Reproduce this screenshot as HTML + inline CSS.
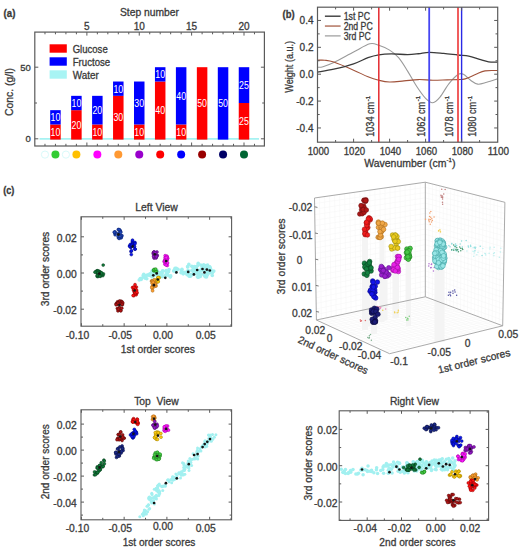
<!DOCTYPE html>
<html><head><meta charset="utf-8"><style>
html,body{margin:0;padding:0;background:#fff;}
svg{display:block;font-family:"Liberation Sans", sans-serif;}

</style></head><body>
<svg width="524" height="550" viewBox="0 0 524 550">
<rect width="524" height="550" fill="#fff"/>
<text x="3.60" y="16.95" font-size="11.3" text-anchor="start" fill="#3a3a3a" stroke="#3a3a3a" stroke-width="0.3" textLength="11.8" lengthAdjust="spacingAndGlyphs" font-weight="bold">(a)</text>
<text x="149.50" y="16.39" font-size="10.3" text-anchor="middle" fill="#3a3a3a" stroke="#3a3a3a" stroke-width="0.3" textLength="59" lengthAdjust="spacingAndGlyphs" >Step number</text>
<text x="86.88" y="29.68" font-size="10" text-anchor="middle" fill="#3a3a3a" stroke="#3a3a3a" stroke-width="0.3" >5</text>
<text x="139.25" y="29.68" font-size="10" text-anchor="middle" fill="#3a3a3a" stroke="#3a3a3a" stroke-width="0.3" >10</text>
<text x="191.62" y="29.68" font-size="10" text-anchor="middle" fill="#3a3a3a" stroke="#3a3a3a" stroke-width="0.3" >15</text>
<text x="244.00" y="29.68" font-size="10" text-anchor="middle" fill="#3a3a3a" stroke="#3a3a3a" stroke-width="0.3" >20</text>
<line x1="39.50" y1="138.80" x2="259.00" y2="138.80" stroke="#a6f2f2" stroke-width="1.8" />
<rect x="50.20" y="124.48" width="10.50" height="15.12" fill="#ff0000" />
<rect x="50.20" y="110.16" width="10.50" height="14.32" fill="#0000ff" />
<rect x="71.15" y="110.16" width="10.50" height="29.44" fill="#ff0000" />
<rect x="71.15" y="95.84" width="10.50" height="14.32" fill="#0000ff" />
<rect x="92.10" y="124.48" width="10.50" height="15.12" fill="#ff0000" />
<rect x="92.10" y="95.84" width="10.50" height="28.64" fill="#0000ff" />
<rect x="113.05" y="95.84" width="10.50" height="43.76" fill="#ff0000" />
<rect x="113.05" y="81.52" width="10.50" height="14.32" fill="#0000ff" />
<rect x="134.00" y="124.48" width="10.50" height="15.12" fill="#ff0000" />
<rect x="134.00" y="81.52" width="10.50" height="42.96" fill="#0000ff" />
<rect x="154.95" y="81.52" width="10.50" height="58.08" fill="#ff0000" />
<rect x="154.95" y="67.20" width="10.50" height="14.32" fill="#0000ff" />
<rect x="175.90" y="124.48" width="10.50" height="15.12" fill="#ff0000" />
<rect x="175.90" y="67.20" width="10.50" height="57.28" fill="#0000ff" />
<rect x="196.85" y="67.20" width="10.50" height="72.40" fill="#ff0000" />
<rect x="217.80" y="67.20" width="10.50" height="72.40" fill="#0000ff" />
<rect x="238.75" y="103.00" width="10.50" height="36.60" fill="#ff0000" />
<rect x="238.75" y="67.20" width="10.50" height="35.80" fill="#0000ff" />
<text x="55.45" y="135.76" font-size="10.4" text-anchor="middle" fill="#ffffff" textLength="9.8" lengthAdjust="spacingAndGlyphs" >10</text>
<text x="55.45" y="121.44" font-size="10.4" text-anchor="middle" fill="#ffffff" textLength="9.8" lengthAdjust="spacingAndGlyphs" >10</text>
<text x="76.40" y="128.60" font-size="10.4" text-anchor="middle" fill="#ffffff" textLength="9.8" lengthAdjust="spacingAndGlyphs" >20</text>
<text x="76.40" y="107.12" font-size="10.4" text-anchor="middle" fill="#ffffff" textLength="9.8" lengthAdjust="spacingAndGlyphs" >10</text>
<text x="97.35" y="135.76" font-size="10.4" text-anchor="middle" fill="#ffffff" textLength="9.8" lengthAdjust="spacingAndGlyphs" >10</text>
<text x="97.35" y="114.28" font-size="10.4" text-anchor="middle" fill="#ffffff" textLength="9.8" lengthAdjust="spacingAndGlyphs" >20</text>
<text x="118.30" y="121.44" font-size="10.4" text-anchor="middle" fill="#ffffff" textLength="9.8" lengthAdjust="spacingAndGlyphs" >30</text>
<text x="118.30" y="92.80" font-size="10.4" text-anchor="middle" fill="#ffffff" textLength="9.8" lengthAdjust="spacingAndGlyphs" >10</text>
<text x="139.25" y="135.76" font-size="10.4" text-anchor="middle" fill="#ffffff" textLength="9.8" lengthAdjust="spacingAndGlyphs" >10</text>
<text x="139.25" y="107.12" font-size="10.4" text-anchor="middle" fill="#ffffff" textLength="9.8" lengthAdjust="spacingAndGlyphs" >30</text>
<text x="160.20" y="114.28" font-size="10.4" text-anchor="middle" fill="#ffffff" textLength="9.8" lengthAdjust="spacingAndGlyphs" >40</text>
<text x="160.20" y="78.48" font-size="10.4" text-anchor="middle" fill="#ffffff" textLength="9.8" lengthAdjust="spacingAndGlyphs" >10</text>
<text x="181.15" y="135.76" font-size="10.4" text-anchor="middle" fill="#ffffff" textLength="9.8" lengthAdjust="spacingAndGlyphs" >10</text>
<text x="181.15" y="99.96" font-size="10.4" text-anchor="middle" fill="#ffffff" textLength="9.8" lengthAdjust="spacingAndGlyphs" >40</text>
<text x="202.10" y="107.12" font-size="10.4" text-anchor="middle" fill="#ffffff" textLength="9.8" lengthAdjust="spacingAndGlyphs" >50</text>
<text x="223.05" y="107.12" font-size="10.4" text-anchor="middle" fill="#ffffff" textLength="9.8" lengthAdjust="spacingAndGlyphs" >50</text>
<text x="244.00" y="125.02" font-size="10.4" text-anchor="middle" fill="#ffffff" textLength="9.8" lengthAdjust="spacingAndGlyphs" >25</text>
<text x="244.00" y="89.22" font-size="10.4" text-anchor="middle" fill="#ffffff" textLength="9.8" lengthAdjust="spacingAndGlyphs" >25</text>
<rect x="34.80" y="32.10" width="229.60" height="113.90" fill="none" stroke="#5a5a5a" stroke-width="1.2"/>
<line x1="44.98" y1="32.10" x2="44.98" y2="34.30" stroke="#5a5a5a" stroke-width="1" />
<line x1="44.98" y1="146.00" x2="44.98" y2="143.80" stroke="#5a5a5a" stroke-width="1" />
<line x1="55.45" y1="32.10" x2="55.45" y2="34.30" stroke="#5a5a5a" stroke-width="1" />
<line x1="55.45" y1="146.00" x2="55.45" y2="143.80" stroke="#5a5a5a" stroke-width="1" />
<line x1="65.92" y1="32.10" x2="65.92" y2="34.30" stroke="#5a5a5a" stroke-width="1" />
<line x1="65.92" y1="146.00" x2="65.92" y2="143.80" stroke="#5a5a5a" stroke-width="1" />
<line x1="76.40" y1="32.10" x2="76.40" y2="34.30" stroke="#5a5a5a" stroke-width="1" />
<line x1="76.40" y1="146.00" x2="76.40" y2="143.80" stroke="#5a5a5a" stroke-width="1" />
<line x1="86.88" y1="32.10" x2="86.88" y2="35.60" stroke="#5a5a5a" stroke-width="1" />
<line x1="86.88" y1="146.00" x2="86.88" y2="142.50" stroke="#5a5a5a" stroke-width="1" />
<line x1="97.35" y1="32.10" x2="97.35" y2="34.30" stroke="#5a5a5a" stroke-width="1" />
<line x1="97.35" y1="146.00" x2="97.35" y2="143.80" stroke="#5a5a5a" stroke-width="1" />
<line x1="107.83" y1="32.10" x2="107.83" y2="34.30" stroke="#5a5a5a" stroke-width="1" />
<line x1="107.83" y1="146.00" x2="107.83" y2="143.80" stroke="#5a5a5a" stroke-width="1" />
<line x1="118.30" y1="32.10" x2="118.30" y2="34.30" stroke="#5a5a5a" stroke-width="1" />
<line x1="118.30" y1="146.00" x2="118.30" y2="143.80" stroke="#5a5a5a" stroke-width="1" />
<line x1="128.77" y1="32.10" x2="128.77" y2="34.30" stroke="#5a5a5a" stroke-width="1" />
<line x1="128.77" y1="146.00" x2="128.77" y2="143.80" stroke="#5a5a5a" stroke-width="1" />
<line x1="139.25" y1="32.10" x2="139.25" y2="35.60" stroke="#5a5a5a" stroke-width="1" />
<line x1="139.25" y1="146.00" x2="139.25" y2="142.50" stroke="#5a5a5a" stroke-width="1" />
<line x1="149.72" y1="32.10" x2="149.72" y2="34.30" stroke="#5a5a5a" stroke-width="1" />
<line x1="149.72" y1="146.00" x2="149.72" y2="143.80" stroke="#5a5a5a" stroke-width="1" />
<line x1="160.20" y1="32.10" x2="160.20" y2="34.30" stroke="#5a5a5a" stroke-width="1" />
<line x1="160.20" y1="146.00" x2="160.20" y2="143.80" stroke="#5a5a5a" stroke-width="1" />
<line x1="170.67" y1="32.10" x2="170.67" y2="34.30" stroke="#5a5a5a" stroke-width="1" />
<line x1="170.67" y1="146.00" x2="170.67" y2="143.80" stroke="#5a5a5a" stroke-width="1" />
<line x1="181.15" y1="32.10" x2="181.15" y2="34.30" stroke="#5a5a5a" stroke-width="1" />
<line x1="181.15" y1="146.00" x2="181.15" y2="143.80" stroke="#5a5a5a" stroke-width="1" />
<line x1="191.62" y1="32.10" x2="191.62" y2="35.60" stroke="#5a5a5a" stroke-width="1" />
<line x1="191.62" y1="146.00" x2="191.62" y2="142.50" stroke="#5a5a5a" stroke-width="1" />
<line x1="202.10" y1="32.10" x2="202.10" y2="34.30" stroke="#5a5a5a" stroke-width="1" />
<line x1="202.10" y1="146.00" x2="202.10" y2="143.80" stroke="#5a5a5a" stroke-width="1" />
<line x1="212.57" y1="32.10" x2="212.57" y2="34.30" stroke="#5a5a5a" stroke-width="1" />
<line x1="212.57" y1="146.00" x2="212.57" y2="143.80" stroke="#5a5a5a" stroke-width="1" />
<line x1="223.05" y1="32.10" x2="223.05" y2="34.30" stroke="#5a5a5a" stroke-width="1" />
<line x1="223.05" y1="146.00" x2="223.05" y2="143.80" stroke="#5a5a5a" stroke-width="1" />
<line x1="233.53" y1="32.10" x2="233.53" y2="34.30" stroke="#5a5a5a" stroke-width="1" />
<line x1="233.53" y1="146.00" x2="233.53" y2="143.80" stroke="#5a5a5a" stroke-width="1" />
<line x1="244.00" y1="32.10" x2="244.00" y2="35.60" stroke="#5a5a5a" stroke-width="1" />
<line x1="244.00" y1="146.00" x2="244.00" y2="142.50" stroke="#5a5a5a" stroke-width="1" />
<line x1="254.47" y1="32.10" x2="254.47" y2="34.30" stroke="#5a5a5a" stroke-width="1" />
<line x1="254.47" y1="146.00" x2="254.47" y2="143.80" stroke="#5a5a5a" stroke-width="1" />
<line x1="34.80" y1="138.80" x2="38.30" y2="138.80" stroke="#5a5a5a" stroke-width="1" />
<line x1="264.40" y1="138.80" x2="260.90" y2="138.80" stroke="#5a5a5a" stroke-width="1" />
<line x1="34.80" y1="103.00" x2="37.00" y2="103.00" stroke="#5a5a5a" stroke-width="1" />
<line x1="264.40" y1="103.00" x2="262.20" y2="103.00" stroke="#5a5a5a" stroke-width="1" />
<line x1="34.80" y1="67.20" x2="38.30" y2="67.20" stroke="#5a5a5a" stroke-width="1" />
<line x1="264.40" y1="67.20" x2="260.90" y2="67.20" stroke="#5a5a5a" stroke-width="1" />
<text x="30.90" y="71.10" font-size="9.5" text-anchor="end" fill="#3a3a3a" stroke="#3a3a3a" stroke-width="0.3" >50</text>
<text x="30.90" y="142.40" font-size="9.5" text-anchor="end" fill="#3a3a3a" stroke="#3a3a3a" stroke-width="0.3" >0</text>
<text x="13.30" y="92.00" font-size="10.4" text-anchor="middle" fill="#3a3a3a" stroke="#3a3a3a" stroke-width="0.3" textLength="48" lengthAdjust="spacingAndGlyphs" transform="rotate(-90 13.30 92.00)" >Conc. (g/l)</text>
<rect x="49.60" y="44.30" width="17.20" height="8.40" fill="#ff0000" />
<rect x="49.60" y="57.30" width="17.20" height="8.40" fill="#0000ff" />
<rect x="49.60" y="70.30" width="17.20" height="8.40" fill="#a8f4f4" />
<text x="72.70" y="53.18" font-size="10" text-anchor="start" fill="#3a3a3a" stroke="#3a3a3a" stroke-width="0.3" textLength="35" lengthAdjust="spacingAndGlyphs" >Glucose</text>
<text x="72.70" y="65.98" font-size="10" text-anchor="start" fill="#3a3a3a" stroke="#3a3a3a" stroke-width="0.3" textLength="37.5" lengthAdjust="spacingAndGlyphs" >Fructose</text>
<text x="72.70" y="78.88" font-size="10" text-anchor="start" fill="#3a3a3a" stroke="#3a3a3a" stroke-width="0.3" textLength="26" lengthAdjust="spacingAndGlyphs" >Water</text>
<circle cx="44.98" cy="154.60" r="3.60" fill="#ffffff" stroke="#d4f8f8" stroke-width="0.9" />
<circle cx="65.92" cy="154.60" r="3.60" fill="#ffffff" stroke="#d4f8f8" stroke-width="0.9" />
<circle cx="55.45" cy="154.60" r="4.00" fill="#33cc33" stroke="none" stroke-width="0.5" />
<circle cx="76.40" cy="154.60" r="4.00" fill="#ffc000" stroke="none" stroke-width="0.5" />
<circle cx="97.35" cy="154.60" r="4.00" fill="#ff00ff" stroke="none" stroke-width="0.5" />
<circle cx="118.30" cy="154.60" r="4.00" fill="#ff9933" stroke="none" stroke-width="0.5" />
<circle cx="139.25" cy="154.60" r="4.00" fill="#9900cc" stroke="none" stroke-width="0.5" />
<circle cx="160.20" cy="154.60" r="4.00" fill="#ff0000" stroke="none" stroke-width="0.5" />
<circle cx="181.15" cy="154.60" r="4.00" fill="#0000ff" stroke="none" stroke-width="0.5" />
<circle cx="202.10" cy="154.60" r="4.00" fill="#990000" stroke="none" stroke-width="0.5" />
<circle cx="223.05" cy="154.60" r="4.00" fill="#000066" stroke="none" stroke-width="0.5" />
<circle cx="244.00" cy="154.60" r="4.00" fill="#006633" stroke="none" stroke-width="0.5" />
<text x="282.60" y="18.36" font-size="10.5" text-anchor="start" fill="#3a3a3a" stroke="#3a3a3a" stroke-width="0.3" textLength="12.1" lengthAdjust="spacingAndGlyphs" font-weight="bold">(b)</text>
<text x="313.50" y="24.42" font-size="10" text-anchor="end" fill="#3a3a3a" stroke="#3a3a3a" stroke-width="0.3" >0.4</text>
<text x="313.50" y="51.30" font-size="10" text-anchor="end" fill="#3a3a3a" stroke="#3a3a3a" stroke-width="0.3" >0.2</text>
<text x="313.50" y="78.18" font-size="10" text-anchor="end" fill="#3a3a3a" stroke="#3a3a3a" stroke-width="0.3" >0.0</text>
<text x="313.50" y="105.06" font-size="10" text-anchor="end" fill="#3a3a3a" stroke="#3a3a3a" stroke-width="0.3" >-0.2</text>
<text x="313.50" y="131.94" font-size="10" text-anchor="end" fill="#3a3a3a" stroke="#3a3a3a" stroke-width="0.3" >-0.4</text>
<text x="318.40" y="154.78" font-size="10" text-anchor="middle" fill="#3a3a3a" stroke="#3a3a3a" stroke-width="0.3" textLength="21.3" lengthAdjust="spacingAndGlyphs" >1000</text>
<text x="354.40" y="154.78" font-size="10" text-anchor="middle" fill="#3a3a3a" stroke="#3a3a3a" stroke-width="0.3" textLength="21.3" lengthAdjust="spacingAndGlyphs" >1020</text>
<text x="390.40" y="154.78" font-size="10" text-anchor="middle" fill="#3a3a3a" stroke="#3a3a3a" stroke-width="0.3" textLength="21.3" lengthAdjust="spacingAndGlyphs" >1040</text>
<text x="426.40" y="154.78" font-size="10" text-anchor="middle" fill="#3a3a3a" stroke="#3a3a3a" stroke-width="0.3" textLength="21.3" lengthAdjust="spacingAndGlyphs" >1060</text>
<text x="462.40" y="154.78" font-size="10" text-anchor="middle" fill="#3a3a3a" stroke="#3a3a3a" stroke-width="0.3" textLength="21.3" lengthAdjust="spacingAndGlyphs" >1080</text>
<text x="498.40" y="154.78" font-size="10" text-anchor="middle" fill="#3a3a3a" stroke="#3a3a3a" stroke-width="0.3" textLength="21.3" lengthAdjust="spacingAndGlyphs" >1100</text>
<text x="292.90" y="66.80" font-size="11.8" text-anchor="middle" fill="#3a3a3a" stroke="#3a3a3a" stroke-width="0.3" textLength="51.8" lengthAdjust="spacingAndGlyphs" transform="rotate(-90 292.90 66.80)" >Weight (a.u.)</text>
<text x="364.2" y="167.3" font-size="10.8" fill="#3a3a3a" stroke="#3a3a3a" stroke-width="0.3"><tspan textLength="82.4" lengthAdjust="spacingAndGlyphs">Wavenumber (cm</tspan><tspan font-size="6" dy="-5">-1</tspan><tspan dy="5">)</tspan></text>
<path d="M317.60,67.21 C318.50,67.12 320.30,67.46 323.00,66.67 C325.70,65.89 328.70,64.95 333.80,62.51 C338.90,60.07 347.60,55.14 353.60,52.02 C359.60,48.91 365.60,44.95 369.80,43.83 C374.00,42.71 375.50,44.25 378.80,45.30 C382.10,46.36 386.30,48.08 389.60,50.14 C392.90,52.20 395.60,54.17 398.60,57.67 C401.60,61.16 404.60,66.34 407.60,71.11 C410.60,75.88 413.60,81.75 416.60,86.30 C419.60,90.84 422.90,95.66 425.60,98.39 C428.30,101.12 430.40,102.92 432.80,102.69 C435.20,102.47 437.30,100.23 440.00,97.05 C442.70,93.87 446.00,87.37 449.00,83.61 C452.00,79.84 455.60,76.04 458.00,74.47 C460.40,72.90 461.30,73.24 463.40,74.20 C465.50,75.16 468.20,78.59 470.60,80.25 C473.00,81.91 475.10,83.81 477.80,84.15 C480.50,84.48 483.50,83.14 486.80,82.26 C490.10,81.39 495.80,79.46 497.60,78.90" fill="none" stroke="#9a9a9a" stroke-width="1.1"/>
<path d="M317.60,60.22 C318.80,60.22 322.10,59.91 324.80,60.22 C327.50,60.54 329.00,60.45 333.80,62.10 C338.60,63.76 347.90,67.73 353.60,70.17 C359.30,72.61 363.80,75.07 368.00,76.75 C372.20,78.43 375.20,79.37 378.80,80.25 C382.40,81.12 385.40,81.88 389.60,82.00 C393.80,82.11 399.20,81.32 404.00,80.92 C408.80,80.52 413.60,79.69 418.40,79.58 C423.20,79.46 428.00,80.20 432.80,80.25 C437.60,80.29 443.00,79.96 447.20,79.84 C451.40,79.73 455.00,79.73 458.00,79.58 C461.00,79.42 462.20,79.80 465.20,78.90 C468.20,78.01 472.70,75.54 476.00,74.20 C479.30,72.86 481.40,71.44 485.00,70.84 C488.60,70.24 495.50,70.62 497.60,70.57" fill="none" stroke="#a0523a" stroke-width="1.1"/>
<path d="M317.60,72.05 C320.30,71.58 327.80,70.59 333.80,69.23 C339.80,67.86 347.90,65.78 353.60,63.85 C359.30,61.92 363.80,59.17 368.00,57.67 C372.20,56.17 374.90,55.47 378.80,54.85 C382.70,54.22 386.60,53.95 391.40,53.91 C396.20,53.86 403.10,54.60 407.60,54.58 C412.10,54.56 414.80,54.15 418.40,53.77 C422.00,53.39 425.00,52.36 429.20,52.29 C433.40,52.23 438.80,52.92 443.60,53.37 C448.40,53.82 453.80,54.53 458.00,54.98 C462.20,55.43 465.20,55.32 468.80,56.06 C472.40,56.80 476.30,58.45 479.60,59.42 C482.90,60.38 485.60,61.39 488.60,61.84 C491.60,62.28 496.10,62.06 497.60,62.10" fill="none" stroke="#3a3a3a" stroke-width="1.3"/>
<line x1="378.80" y1="7.20" x2="378.80" y2="142.20" stroke="#e42a30" stroke-width="1.5" />
<line x1="429.20" y1="7.20" x2="429.20" y2="142.20" stroke="#4646f2" stroke-width="1.8" />
<line x1="458.00" y1="7.20" x2="458.00" y2="142.20" stroke="#f05656" stroke-width="1.9" />
<line x1="461.60" y1="7.20" x2="461.60" y2="142.20" stroke="#2a2ae6" stroke-width="1.4" />
<text x="374.20" y="136.8" font-size="10.5" fill="#3a3a3a" stroke="#3a3a3a" stroke-width="0.3" transform="rotate(-90 374.20 136.8)"><tspan textLength="35" lengthAdjust="spacingAndGlyphs">1034 cm</tspan><tspan font-size="6" dy="-4.5" dx="0.5">-1</tspan></text>
<text x="424.60" y="136.8" font-size="10.5" fill="#3a3a3a" stroke="#3a3a3a" stroke-width="0.3" transform="rotate(-90 424.60 136.8)"><tspan textLength="35" lengthAdjust="spacingAndGlyphs">1062 cm</tspan><tspan font-size="6" dy="-4.5" dx="0.5">-1</tspan></text>
<text x="453.20" y="136.8" font-size="10.5" fill="#3a3a3a" stroke="#3a3a3a" stroke-width="0.3" transform="rotate(-90 453.20 136.8)"><tspan textLength="35" lengthAdjust="spacingAndGlyphs">1078 cm</tspan><tspan font-size="6" dy="-4.5" dx="0.5">-1</tspan></text>
<text x="476.10" y="136.8" font-size="10.5" fill="#3a3a3a" stroke="#3a3a3a" stroke-width="0.3" transform="rotate(-90 476.10 136.8)"><tspan textLength="35" lengthAdjust="spacingAndGlyphs">1080 cm</tspan><tspan font-size="6" dy="-4.5" dx="0.5">-1</tspan></text>
<rect x="317.50" y="7.20" width="180.20" height="135.00" fill="none" stroke="#5a5a5a" stroke-width="1.2"/>
<line x1="335.60" y1="7.20" x2="335.60" y2="9.40" stroke="#5a5a5a" stroke-width="1" />
<line x1="335.60" y1="142.20" x2="335.60" y2="140.00" stroke="#5a5a5a" stroke-width="1" />
<line x1="353.60" y1="7.20" x2="353.60" y2="10.70" stroke="#5a5a5a" stroke-width="1" />
<line x1="353.60" y1="142.20" x2="353.60" y2="138.70" stroke="#5a5a5a" stroke-width="1" />
<line x1="371.60" y1="7.20" x2="371.60" y2="9.40" stroke="#5a5a5a" stroke-width="1" />
<line x1="371.60" y1="142.20" x2="371.60" y2="140.00" stroke="#5a5a5a" stroke-width="1" />
<line x1="389.60" y1="7.20" x2="389.60" y2="10.70" stroke="#5a5a5a" stroke-width="1" />
<line x1="389.60" y1="142.20" x2="389.60" y2="138.70" stroke="#5a5a5a" stroke-width="1" />
<line x1="407.60" y1="7.20" x2="407.60" y2="9.40" stroke="#5a5a5a" stroke-width="1" />
<line x1="407.60" y1="142.20" x2="407.60" y2="140.00" stroke="#5a5a5a" stroke-width="1" />
<line x1="425.60" y1="7.20" x2="425.60" y2="10.70" stroke="#5a5a5a" stroke-width="1" />
<line x1="425.60" y1="142.20" x2="425.60" y2="138.70" stroke="#5a5a5a" stroke-width="1" />
<line x1="443.60" y1="7.20" x2="443.60" y2="9.40" stroke="#5a5a5a" stroke-width="1" />
<line x1="443.60" y1="142.20" x2="443.60" y2="140.00" stroke="#5a5a5a" stroke-width="1" />
<line x1="461.60" y1="7.20" x2="461.60" y2="10.70" stroke="#5a5a5a" stroke-width="1" />
<line x1="461.60" y1="142.20" x2="461.60" y2="138.70" stroke="#5a5a5a" stroke-width="1" />
<line x1="479.60" y1="7.20" x2="479.60" y2="9.40" stroke="#5a5a5a" stroke-width="1" />
<line x1="479.60" y1="142.20" x2="479.60" y2="140.00" stroke="#5a5a5a" stroke-width="1" />
<line x1="317.50" y1="127.96" x2="321.00" y2="127.96" stroke="#5a5a5a" stroke-width="1" />
<line x1="497.70" y1="127.96" x2="494.20" y2="127.96" stroke="#5a5a5a" stroke-width="1" />
<line x1="317.50" y1="114.52" x2="319.70" y2="114.52" stroke="#5a5a5a" stroke-width="1" />
<line x1="497.70" y1="114.52" x2="495.50" y2="114.52" stroke="#5a5a5a" stroke-width="1" />
<line x1="317.50" y1="101.08" x2="321.00" y2="101.08" stroke="#5a5a5a" stroke-width="1" />
<line x1="497.70" y1="101.08" x2="494.20" y2="101.08" stroke="#5a5a5a" stroke-width="1" />
<line x1="317.50" y1="87.64" x2="319.70" y2="87.64" stroke="#5a5a5a" stroke-width="1" />
<line x1="497.70" y1="87.64" x2="495.50" y2="87.64" stroke="#5a5a5a" stroke-width="1" />
<line x1="317.50" y1="74.20" x2="321.00" y2="74.20" stroke="#5a5a5a" stroke-width="1" />
<line x1="497.70" y1="74.20" x2="494.20" y2="74.20" stroke="#5a5a5a" stroke-width="1" />
<line x1="317.50" y1="60.76" x2="319.70" y2="60.76" stroke="#5a5a5a" stroke-width="1" />
<line x1="497.70" y1="60.76" x2="495.50" y2="60.76" stroke="#5a5a5a" stroke-width="1" />
<line x1="317.50" y1="47.32" x2="321.00" y2="47.32" stroke="#5a5a5a" stroke-width="1" />
<line x1="497.70" y1="47.32" x2="494.20" y2="47.32" stroke="#5a5a5a" stroke-width="1" />
<line x1="317.50" y1="33.88" x2="319.70" y2="33.88" stroke="#5a5a5a" stroke-width="1" />
<line x1="497.70" y1="33.88" x2="495.50" y2="33.88" stroke="#5a5a5a" stroke-width="1" />
<line x1="317.50" y1="20.44" x2="321.00" y2="20.44" stroke="#5a5a5a" stroke-width="1" />
<line x1="497.70" y1="20.44" x2="494.20" y2="20.44" stroke="#5a5a5a" stroke-width="1" />
<line x1="324.90" y1="16.20" x2="340.60" y2="16.20" stroke="#3a3a3a" stroke-width="1.4" />
<text x="343.70" y="20.18" font-size="10" text-anchor="start" fill="#3a3a3a" stroke="#3a3a3a" stroke-width="0.3" textLength="26.3" lengthAdjust="spacingAndGlyphs" >1st PC</text>
<line x1="324.90" y1="26.05" x2="340.60" y2="26.05" stroke="#a0523a" stroke-width="1.2" />
<text x="343.70" y="30.03" font-size="10" text-anchor="start" fill="#3a3a3a" stroke="#3a3a3a" stroke-width="0.3" textLength="29" lengthAdjust="spacingAndGlyphs" >2nd PC</text>
<line x1="324.90" y1="35.90" x2="340.60" y2="35.90" stroke="#9a9a9a" stroke-width="1.2" />
<text x="343.70" y="39.88" font-size="10" text-anchor="start" fill="#3a3a3a" stroke="#3a3a3a" stroke-width="0.3" textLength="27" lengthAdjust="spacingAndGlyphs" >3rd PC</text>
<text x="3.20" y="193.67" font-size="10.8" text-anchor="start" fill="#3a3a3a" stroke="#3a3a3a" stroke-width="0.3" textLength="11.2" lengthAdjust="spacingAndGlyphs" font-weight="bold">(c)</text>
<text x="156.50" y="211.02" font-size="10.4" text-anchor="middle" fill="#3a3a3a" stroke="#3a3a3a" stroke-width="0.3" textLength="42.6" lengthAdjust="spacingAndGlyphs" >Left View</text>
<circle cx="140.30" cy="278.60" r="1.80" fill="#a2f0f0" stroke="none" stroke-width="0.3" />
<circle cx="141.60" cy="278.29" r="1.80" fill="#a2f0f0" stroke="none" stroke-width="0.3" />
<circle cx="141.14" cy="279.46" r="1.80" fill="#a2f0f0" stroke="none" stroke-width="0.3" />
<circle cx="139.23" cy="280.03" r="1.80" fill="#a2f0f0" stroke="none" stroke-width="0.3" />
<circle cx="143.22" cy="275.60" r="1.80" fill="#a2f0f0" stroke="none" stroke-width="0.3" />
<circle cx="145.55" cy="277.96" r="1.80" fill="#a2f0f0" stroke="none" stroke-width="0.3" />
<circle cx="143.74" cy="274.34" r="1.80" fill="#a2f0f0" stroke="none" stroke-width="0.3" />
<circle cx="146.76" cy="278.69" r="1.80" fill="#a2f0f0" stroke="none" stroke-width="0.3" />
<circle cx="146.46" cy="275.38" r="1.80" fill="#a2f0f0" stroke="none" stroke-width="0.3" />
<circle cx="148.15" cy="274.74" r="1.80" fill="#a2f0f0" stroke="none" stroke-width="0.3" />
<circle cx="144.85" cy="277.90" r="1.80" fill="#a2f0f0" stroke="none" stroke-width="0.3" />
<circle cx="144.08" cy="276.49" r="1.80" fill="#a2f0f0" stroke="none" stroke-width="0.3" />
<circle cx="152.83" cy="272.98" r="1.80" fill="#a2f0f0" stroke="none" stroke-width="0.3" />
<circle cx="152.29" cy="270.50" r="1.80" fill="#a2f0f0" stroke="none" stroke-width="0.3" />
<circle cx="153.08" cy="273.42" r="1.80" fill="#a2f0f0" stroke="none" stroke-width="0.3" />
<circle cx="150.88" cy="274.68" r="1.80" fill="#a2f0f0" stroke="none" stroke-width="0.3" />
<circle cx="151.72" cy="272.40" r="1.80" fill="#a2f0f0" stroke="none" stroke-width="0.3" />
<circle cx="153.77" cy="275.59" r="1.80" fill="#a2f0f0" stroke="none" stroke-width="0.3" />
<circle cx="150.46" cy="274.60" r="1.80" fill="#a2f0f0" stroke="none" stroke-width="0.3" />
<circle cx="152.15" cy="277.00" r="1.80" fill="#a2f0f0" stroke="none" stroke-width="0.3" />
<circle cx="153.38" cy="272.30" r="1.80" fill="#a2f0f0" stroke="none" stroke-width="0.3" />
<circle cx="151.51" cy="276.06" r="1.80" fill="#a2f0f0" stroke="none" stroke-width="0.3" />
<circle cx="149.91" cy="273.91" r="1.80" fill="#a2f0f0" stroke="none" stroke-width="0.3" />
<circle cx="149.24" cy="275.35" r="1.80" fill="#a2f0f0" stroke="none" stroke-width="0.3" />
<circle cx="162.12" cy="273.73" r="1.80" fill="#a2f0f0" stroke="none" stroke-width="0.3" />
<circle cx="163.00" cy="271.14" r="1.80" fill="#a2f0f0" stroke="none" stroke-width="0.3" />
<circle cx="161.56" cy="273.94" r="1.80" fill="#a2f0f0" stroke="none" stroke-width="0.3" />
<circle cx="160.64" cy="272.56" r="1.80" fill="#a2f0f0" stroke="none" stroke-width="0.3" />
<circle cx="159.79" cy="274.64" r="1.80" fill="#a2f0f0" stroke="none" stroke-width="0.3" />
<circle cx="156.49" cy="275.01" r="1.80" fill="#a2f0f0" stroke="none" stroke-width="0.3" />
<circle cx="162.58" cy="270.85" r="1.80" fill="#a2f0f0" stroke="none" stroke-width="0.3" />
<circle cx="159.09" cy="274.69" r="1.80" fill="#a2f0f0" stroke="none" stroke-width="0.3" />
<circle cx="156.18" cy="272.62" r="1.80" fill="#a2f0f0" stroke="none" stroke-width="0.3" />
<circle cx="157.03" cy="270.48" r="1.80" fill="#a2f0f0" stroke="none" stroke-width="0.3" />
<circle cx="159.13" cy="276.71" r="1.80" fill="#a2f0f0" stroke="none" stroke-width="0.3" />
<circle cx="156.64" cy="272.49" r="1.80" fill="#a2f0f0" stroke="none" stroke-width="0.3" />
<circle cx="160.40" cy="276.83" r="1.80" fill="#a2f0f0" stroke="none" stroke-width="0.3" />
<circle cx="162.55" cy="276.64" r="1.80" fill="#a2f0f0" stroke="none" stroke-width="0.3" />
<circle cx="158.23" cy="272.15" r="1.80" fill="#a2f0f0" stroke="none" stroke-width="0.3" />
<circle cx="158.87" cy="276.84" r="1.80" fill="#a2f0f0" stroke="none" stroke-width="0.3" />
<circle cx="166.06" cy="271.32" r="1.80" fill="#a2f0f0" stroke="none" stroke-width="0.3" />
<circle cx="166.40" cy="273.85" r="1.80" fill="#a2f0f0" stroke="none" stroke-width="0.3" />
<circle cx="168.53" cy="271.63" r="1.80" fill="#a2f0f0" stroke="none" stroke-width="0.3" />
<circle cx="167.22" cy="274.66" r="1.80" fill="#a2f0f0" stroke="none" stroke-width="0.3" />
<circle cx="170.72" cy="275.90" r="1.80" fill="#a2f0f0" stroke="none" stroke-width="0.3" />
<circle cx="168.09" cy="275.18" r="1.80" fill="#a2f0f0" stroke="none" stroke-width="0.3" />
<circle cx="169.06" cy="269.54" r="1.80" fill="#a2f0f0" stroke="none" stroke-width="0.3" />
<circle cx="170.40" cy="276.80" r="1.80" fill="#a2f0f0" stroke="none" stroke-width="0.3" />
<circle cx="170.25" cy="276.98" r="1.80" fill="#a2f0f0" stroke="none" stroke-width="0.3" />
<circle cx="167.35" cy="272.99" r="1.80" fill="#a2f0f0" stroke="none" stroke-width="0.3" />
<circle cx="165.62" cy="275.34" r="1.80" fill="#a2f0f0" stroke="none" stroke-width="0.3" />
<circle cx="166.25" cy="270.62" r="1.80" fill="#a2f0f0" stroke="none" stroke-width="0.3" />
<circle cx="175.04" cy="268.42" r="1.80" fill="#a2f0f0" stroke="none" stroke-width="0.3" />
<circle cx="173.61" cy="270.91" r="1.80" fill="#a2f0f0" stroke="none" stroke-width="0.3" />
<circle cx="176.68" cy="269.19" r="1.80" fill="#a2f0f0" stroke="none" stroke-width="0.3" />
<circle cx="174.51" cy="270.78" r="1.80" fill="#a2f0f0" stroke="none" stroke-width="0.3" />
<circle cx="175.18" cy="268.98" r="1.80" fill="#a2f0f0" stroke="none" stroke-width="0.3" />
<circle cx="175.80" cy="271.87" r="1.80" fill="#a2f0f0" stroke="none" stroke-width="0.3" />
<circle cx="175.06" cy="270.12" r="1.80" fill="#a2f0f0" stroke="none" stroke-width="0.3" />
<circle cx="177.97" cy="269.29" r="1.80" fill="#a2f0f0" stroke="none" stroke-width="0.3" />
<circle cx="176.17" cy="269.17" r="1.80" fill="#a2f0f0" stroke="none" stroke-width="0.3" />
<circle cx="176.26" cy="268.22" r="1.80" fill="#a2f0f0" stroke="none" stroke-width="0.3" />
<circle cx="183.17" cy="273.87" r="1.80" fill="#a2f0f0" stroke="none" stroke-width="0.3" />
<circle cx="185.18" cy="272.18" r="1.80" fill="#a2f0f0" stroke="none" stroke-width="0.3" />
<circle cx="181.57" cy="270.20" r="1.80" fill="#a2f0f0" stroke="none" stroke-width="0.3" />
<circle cx="181.00" cy="272.63" r="1.80" fill="#a2f0f0" stroke="none" stroke-width="0.3" />
<circle cx="183.20" cy="272.67" r="1.80" fill="#a2f0f0" stroke="none" stroke-width="0.3" />
<circle cx="181.98" cy="269.34" r="1.80" fill="#a2f0f0" stroke="none" stroke-width="0.3" />
<circle cx="185.12" cy="272.84" r="1.80" fill="#a2f0f0" stroke="none" stroke-width="0.3" />
<circle cx="184.91" cy="272.44" r="1.80" fill="#a2f0f0" stroke="none" stroke-width="0.3" />
<circle cx="187.81" cy="270.73" r="1.80" fill="#a2f0f0" stroke="none" stroke-width="0.3" />
<circle cx="188.84" cy="264.38" r="1.80" fill="#a2f0f0" stroke="none" stroke-width="0.3" />
<circle cx="188.07" cy="273.00" r="1.80" fill="#a2f0f0" stroke="none" stroke-width="0.3" />
<circle cx="193.65" cy="269.81" r="1.80" fill="#a2f0f0" stroke="none" stroke-width="0.3" />
<circle cx="193.64" cy="268.74" r="1.80" fill="#a2f0f0" stroke="none" stroke-width="0.3" />
<circle cx="187.76" cy="266.95" r="1.80" fill="#a2f0f0" stroke="none" stroke-width="0.3" />
<circle cx="187.57" cy="266.66" r="1.80" fill="#a2f0f0" stroke="none" stroke-width="0.3" />
<circle cx="190.99" cy="275.70" r="1.80" fill="#a2f0f0" stroke="none" stroke-width="0.3" />
<circle cx="192.72" cy="270.23" r="1.80" fill="#a2f0f0" stroke="none" stroke-width="0.3" />
<circle cx="191.22" cy="274.40" r="1.80" fill="#a2f0f0" stroke="none" stroke-width="0.3" />
<circle cx="186.68" cy="272.59" r="1.80" fill="#a2f0f0" stroke="none" stroke-width="0.3" />
<circle cx="193.28" cy="274.17" r="1.80" fill="#a2f0f0" stroke="none" stroke-width="0.3" />
<circle cx="192.00" cy="270.21" r="1.80" fill="#a2f0f0" stroke="none" stroke-width="0.3" />
<circle cx="187.43" cy="274.26" r="1.80" fill="#a2f0f0" stroke="none" stroke-width="0.3" />
<circle cx="188.66" cy="274.41" r="1.80" fill="#a2f0f0" stroke="none" stroke-width="0.3" />
<circle cx="193.77" cy="269.15" r="1.80" fill="#a2f0f0" stroke="none" stroke-width="0.3" />
<circle cx="189.21" cy="276.31" r="1.80" fill="#a2f0f0" stroke="none" stroke-width="0.3" />
<circle cx="191.80" cy="266.21" r="1.80" fill="#a2f0f0" stroke="none" stroke-width="0.3" />
<circle cx="187.17" cy="274.74" r="1.80" fill="#a2f0f0" stroke="none" stroke-width="0.3" />
<circle cx="188.80" cy="271.13" r="1.80" fill="#a2f0f0" stroke="none" stroke-width="0.3" />
<circle cx="193.77" cy="272.45" r="1.80" fill="#a2f0f0" stroke="none" stroke-width="0.3" />
<circle cx="190.21" cy="276.14" r="1.80" fill="#a2f0f0" stroke="none" stroke-width="0.3" />
<circle cx="189.47" cy="275.33" r="1.80" fill="#a2f0f0" stroke="none" stroke-width="0.3" />
<circle cx="192.61" cy="266.74" r="1.80" fill="#a2f0f0" stroke="none" stroke-width="0.3" />
<circle cx="196.01" cy="267.39" r="1.80" fill="#a2f0f0" stroke="none" stroke-width="0.3" />
<circle cx="195.92" cy="271.80" r="1.80" fill="#a2f0f0" stroke="none" stroke-width="0.3" />
<circle cx="196.07" cy="269.29" r="1.80" fill="#a2f0f0" stroke="none" stroke-width="0.3" />
<circle cx="196.83" cy="269.87" r="1.80" fill="#a2f0f0" stroke="none" stroke-width="0.3" />
<circle cx="198.67" cy="276.56" r="1.80" fill="#a2f0f0" stroke="none" stroke-width="0.3" />
<circle cx="197.37" cy="276.77" r="1.80" fill="#a2f0f0" stroke="none" stroke-width="0.3" />
<circle cx="198.01" cy="270.98" r="1.80" fill="#a2f0f0" stroke="none" stroke-width="0.3" />
<circle cx="198.19" cy="263.28" r="1.80" fill="#a2f0f0" stroke="none" stroke-width="0.3" />
<circle cx="197.52" cy="265.75" r="1.80" fill="#a2f0f0" stroke="none" stroke-width="0.3" />
<circle cx="195.38" cy="270.10" r="1.80" fill="#a2f0f0" stroke="none" stroke-width="0.3" />
<circle cx="199.80" cy="271.35" r="1.80" fill="#a2f0f0" stroke="none" stroke-width="0.3" />
<circle cx="196.61" cy="270.78" r="1.80" fill="#a2f0f0" stroke="none" stroke-width="0.3" />
<circle cx="198.44" cy="274.76" r="1.80" fill="#a2f0f0" stroke="none" stroke-width="0.3" />
<circle cx="194.85" cy="271.40" r="1.80" fill="#a2f0f0" stroke="none" stroke-width="0.3" />
<circle cx="195.99" cy="267.15" r="1.80" fill="#a2f0f0" stroke="none" stroke-width="0.3" />
<circle cx="200.18" cy="270.62" r="1.80" fill="#a2f0f0" stroke="none" stroke-width="0.3" />
<circle cx="198.49" cy="274.40" r="1.80" fill="#a2f0f0" stroke="none" stroke-width="0.3" />
<circle cx="201.30" cy="269.65" r="1.80" fill="#a2f0f0" stroke="none" stroke-width="0.3" />
<circle cx="198.90" cy="270.58" r="1.80" fill="#a2f0f0" stroke="none" stroke-width="0.3" />
<circle cx="198.10" cy="273.39" r="1.80" fill="#a2f0f0" stroke="none" stroke-width="0.3" />
<circle cx="197.62" cy="271.00" r="1.80" fill="#a2f0f0" stroke="none" stroke-width="0.3" />
<circle cx="197.82" cy="277.12" r="1.80" fill="#a2f0f0" stroke="none" stroke-width="0.3" />
<circle cx="199.59" cy="276.15" r="1.80" fill="#a2f0f0" stroke="none" stroke-width="0.3" />
<circle cx="198.48" cy="277.15" r="1.80" fill="#a2f0f0" stroke="none" stroke-width="0.3" />
<circle cx="200.72" cy="265.06" r="1.80" fill="#a2f0f0" stroke="none" stroke-width="0.3" />
<circle cx="194.97" cy="269.63" r="1.80" fill="#a2f0f0" stroke="none" stroke-width="0.3" />
<circle cx="194.58" cy="266.61" r="1.80" fill="#a2f0f0" stroke="none" stroke-width="0.3" />
<circle cx="194.58" cy="273.04" r="1.80" fill="#a2f0f0" stroke="none" stroke-width="0.3" />
<circle cx="200.27" cy="276.46" r="1.80" fill="#a2f0f0" stroke="none" stroke-width="0.3" />
<circle cx="195.24" cy="273.74" r="1.80" fill="#a2f0f0" stroke="none" stroke-width="0.3" />
<circle cx="207.60" cy="265.14" r="1.80" fill="#a2f0f0" stroke="none" stroke-width="0.3" />
<circle cx="204.98" cy="270.31" r="1.80" fill="#a2f0f0" stroke="none" stroke-width="0.3" />
<circle cx="202.61" cy="269.47" r="1.80" fill="#a2f0f0" stroke="none" stroke-width="0.3" />
<circle cx="206.16" cy="268.09" r="1.80" fill="#a2f0f0" stroke="none" stroke-width="0.3" />
<circle cx="202.96" cy="267.78" r="1.80" fill="#a2f0f0" stroke="none" stroke-width="0.3" />
<circle cx="206.54" cy="269.61" r="1.80" fill="#a2f0f0" stroke="none" stroke-width="0.3" />
<circle cx="207.24" cy="270.68" r="1.80" fill="#a2f0f0" stroke="none" stroke-width="0.3" />
<circle cx="202.05" cy="266.98" r="1.80" fill="#a2f0f0" stroke="none" stroke-width="0.3" />
<circle cx="203.70" cy="264.94" r="1.80" fill="#a2f0f0" stroke="none" stroke-width="0.3" />
<circle cx="205.22" cy="276.67" r="1.80" fill="#a2f0f0" stroke="none" stroke-width="0.3" />
<circle cx="209.19" cy="266.88" r="1.80" fill="#a2f0f0" stroke="none" stroke-width="0.3" />
<circle cx="206.71" cy="273.51" r="1.80" fill="#a2f0f0" stroke="none" stroke-width="0.3" />
<circle cx="207.88" cy="269.38" r="1.80" fill="#a2f0f0" stroke="none" stroke-width="0.3" />
<circle cx="207.34" cy="275.02" r="1.80" fill="#a2f0f0" stroke="none" stroke-width="0.3" />
<circle cx="205.54" cy="268.09" r="1.80" fill="#a2f0f0" stroke="none" stroke-width="0.3" />
<circle cx="206.53" cy="276.90" r="1.80" fill="#a2f0f0" stroke="none" stroke-width="0.3" />
<circle cx="203.68" cy="264.94" r="1.80" fill="#a2f0f0" stroke="none" stroke-width="0.3" />
<circle cx="206.27" cy="266.58" r="1.80" fill="#a2f0f0" stroke="none" stroke-width="0.3" />
<circle cx="204.12" cy="267.58" r="1.80" fill="#a2f0f0" stroke="none" stroke-width="0.3" />
<circle cx="208.59" cy="267.35" r="1.80" fill="#a2f0f0" stroke="none" stroke-width="0.3" />
<circle cx="206.00" cy="265.67" r="1.80" fill="#a2f0f0" stroke="none" stroke-width="0.3" />
<circle cx="208.33" cy="271.27" r="1.80" fill="#a2f0f0" stroke="none" stroke-width="0.3" />
<circle cx="202.89" cy="270.12" r="1.80" fill="#a2f0f0" stroke="none" stroke-width="0.3" />
<circle cx="209.19" cy="269.48" r="1.80" fill="#a2f0f0" stroke="none" stroke-width="0.3" />
<circle cx="205.95" cy="275.52" r="1.80" fill="#a2f0f0" stroke="none" stroke-width="0.3" />
<circle cx="204.93" cy="270.60" r="1.80" fill="#a2f0f0" stroke="none" stroke-width="0.3" />
<circle cx="204.43" cy="275.48" r="1.80" fill="#a2f0f0" stroke="none" stroke-width="0.3" />
<circle cx="208.07" cy="272.54" r="1.80" fill="#a2f0f0" stroke="none" stroke-width="0.3" />
<circle cx="205.05" cy="268.21" r="1.80" fill="#a2f0f0" stroke="none" stroke-width="0.3" />
<circle cx="201.71" cy="274.11" r="1.80" fill="#a2f0f0" stroke="none" stroke-width="0.3" />
<circle cx="203.56" cy="265.45" r="1.80" fill="#a2f0f0" stroke="none" stroke-width="0.3" />
<circle cx="209.71" cy="273.06" r="1.80" fill="#a2f0f0" stroke="none" stroke-width="0.3" />
<circle cx="209.69" cy="267.15" r="1.80" fill="#a2f0f0" stroke="none" stroke-width="0.3" />
<circle cx="209.76" cy="269.97" r="1.80" fill="#a2f0f0" stroke="none" stroke-width="0.3" />
<circle cx="208.95" cy="269.80" r="1.80" fill="#a2f0f0" stroke="none" stroke-width="0.3" />
<circle cx="213.84" cy="271.11" r="1.80" fill="#a2f0f0" stroke="none" stroke-width="0.3" />
<circle cx="209.86" cy="268.64" r="1.80" fill="#a2f0f0" stroke="none" stroke-width="0.3" />
<circle cx="210.85" cy="270.54" r="1.80" fill="#a2f0f0" stroke="none" stroke-width="0.3" />
<circle cx="209.21" cy="270.56" r="1.80" fill="#a2f0f0" stroke="none" stroke-width="0.3" />
<circle cx="208.54" cy="269.19" r="1.80" fill="#a2f0f0" stroke="none" stroke-width="0.3" />
<circle cx="209.83" cy="267.03" r="1.80" fill="#a2f0f0" stroke="none" stroke-width="0.3" />
<circle cx="211.51" cy="270.88" r="1.80" fill="#a2f0f0" stroke="none" stroke-width="0.3" />
<circle cx="212.50" cy="272.55" r="1.80" fill="#a2f0f0" stroke="none" stroke-width="0.3" />
<circle cx="212.30" cy="275.43" r="1.80" fill="#a2f0f0" stroke="none" stroke-width="0.3" />
<circle cx="210.34" cy="268.24" r="1.80" fill="#a2f0f0" stroke="none" stroke-width="0.3" />
<circle cx="212.34" cy="272.36" r="1.80" fill="#a2f0f0" stroke="none" stroke-width="0.3" />
<circle cx="122.01" cy="235.77" r="1.45" fill="#2048b8" stroke="#0a2070" stroke-width="0.5" />
<circle cx="120.55" cy="237.62" r="1.45" fill="#2048b8" stroke="#0a2070" stroke-width="0.5" />
<circle cx="115.08" cy="234.74" r="1.45" fill="#2048b8" stroke="#0a2070" stroke-width="0.5" />
<circle cx="118.44" cy="237.85" r="1.45" fill="#2048b8" stroke="#0a2070" stroke-width="0.5" />
<circle cx="121.20" cy="237.76" r="1.45" fill="#2048b8" stroke="#0a2070" stroke-width="0.5" />
<circle cx="119.17" cy="238.43" r="1.45" fill="#2048b8" stroke="#0a2070" stroke-width="0.5" />
<circle cx="120.08" cy="236.43" r="1.45" fill="#2048b8" stroke="#0a2070" stroke-width="0.5" />
<circle cx="115.02" cy="233.11" r="1.45" fill="#2048b8" stroke="#0a2070" stroke-width="0.5" />
<circle cx="118.94" cy="235.78" r="1.45" fill="#2048b8" stroke="#0a2070" stroke-width="0.5" />
<circle cx="119.56" cy="236.31" r="1.45" fill="#2048b8" stroke="#0a2070" stroke-width="0.5" />
<circle cx="118.30" cy="229.53" r="1.45" fill="#2048b8" stroke="#0a2070" stroke-width="0.5" />
<circle cx="121.14" cy="236.98" r="1.45" fill="#2048b8" stroke="#0a2070" stroke-width="0.5" />
<circle cx="118.43" cy="234.85" r="1.45" fill="#2048b8" stroke="#0a2070" stroke-width="0.5" />
<circle cx="119.87" cy="230.16" r="1.45" fill="#2048b8" stroke="#0a2070" stroke-width="0.5" />
<circle cx="120.58" cy="232.02" r="1.45" fill="#2048b8" stroke="#0a2070" stroke-width="0.5" />
<circle cx="114.48" cy="232.16" r="1.45" fill="#2048b8" stroke="#0a2070" stroke-width="0.5" />
<circle cx="120.51" cy="231.55" r="1.45" fill="#2048b8" stroke="#0a2070" stroke-width="0.5" />
<circle cx="118.34" cy="233.33" r="1.45" fill="#2048b8" stroke="#0a2070" stroke-width="0.5" />
<circle cx="118.21" cy="236.34" r="1.45" fill="#2048b8" stroke="#0a2070" stroke-width="0.5" />
<circle cx="120.86" cy="235.67" r="1.45" fill="#2048b8" stroke="#0a2070" stroke-width="0.5" />
<circle cx="119.71" cy="230.27" r="1.45" fill="#2048b8" stroke="#0a2070" stroke-width="0.5" />
<circle cx="115.16" cy="232.04" r="1.45" fill="#2048b8" stroke="#0a2070" stroke-width="0.5" />
<circle cx="120.64" cy="232.54" r="1.45" fill="#2048b8" stroke="#0a2070" stroke-width="0.5" />
<circle cx="119.02" cy="229.62" r="1.45" fill="#2048b8" stroke="#0a2070" stroke-width="0.5" />
<circle cx="114.36" cy="232.19" r="1.45" fill="#2048b8" stroke="#0a2070" stroke-width="0.5" />
<circle cx="119.98" cy="236.42" r="1.45" fill="#2048b8" stroke="#0a2070" stroke-width="0.5" />
<circle cx="118.40" cy="234.50" r="1.40" fill="#151515" stroke="none" stroke-width="0.5" />
<circle cx="133.65" cy="243.68" r="1.45" fill="#0a14f0" stroke="#00087a" stroke-width="0.5" />
<circle cx="132.70" cy="245.94" r="1.45" fill="#0a14f0" stroke="#00087a" stroke-width="0.5" />
<circle cx="132.40" cy="241.44" r="1.45" fill="#0a14f0" stroke="#00087a" stroke-width="0.5" />
<circle cx="134.96" cy="242.49" r="1.45" fill="#0a14f0" stroke="#00087a" stroke-width="0.5" />
<circle cx="129.71" cy="245.87" r="1.45" fill="#0a14f0" stroke="#00087a" stroke-width="0.5" />
<circle cx="132.30" cy="243.39" r="1.45" fill="#0a14f0" stroke="#00087a" stroke-width="0.5" />
<circle cx="130.86" cy="247.46" r="1.45" fill="#0a14f0" stroke="#00087a" stroke-width="0.5" />
<circle cx="130.45" cy="246.71" r="1.45" fill="#0a14f0" stroke="#00087a" stroke-width="0.5" />
<circle cx="134.52" cy="246.51" r="1.45" fill="#0a14f0" stroke="#00087a" stroke-width="0.5" />
<circle cx="134.92" cy="249.04" r="1.45" fill="#0a14f0" stroke="#00087a" stroke-width="0.5" />
<circle cx="130.99" cy="251.57" r="1.45" fill="#0a14f0" stroke="#00087a" stroke-width="0.5" />
<circle cx="132.52" cy="240.22" r="1.45" fill="#0a14f0" stroke="#00087a" stroke-width="0.5" />
<circle cx="129.62" cy="246.29" r="1.45" fill="#0a14f0" stroke="#00087a" stroke-width="0.5" />
<circle cx="132.30" cy="243.83" r="1.45" fill="#0a14f0" stroke="#00087a" stroke-width="0.5" />
<circle cx="130.44" cy="244.37" r="1.45" fill="#0a14f0" stroke="#00087a" stroke-width="0.5" />
<circle cx="131.50" cy="250.82" r="1.45" fill="#0a14f0" stroke="#00087a" stroke-width="0.5" />
<circle cx="135.16" cy="249.17" r="1.45" fill="#0a14f0" stroke="#00087a" stroke-width="0.5" />
<circle cx="135.01" cy="243.67" r="1.45" fill="#0a14f0" stroke="#00087a" stroke-width="0.5" />
<circle cx="131.83" cy="245.01" r="1.45" fill="#0a14f0" stroke="#00087a" stroke-width="0.5" />
<circle cx="131.76" cy="245.46" r="1.45" fill="#0a14f0" stroke="#00087a" stroke-width="0.5" />
<circle cx="132.60" cy="246.40" r="1.30" fill="#151515" stroke="none" stroke-width="0.5" />
<circle cx="131.30" cy="254.60" r="1.45" fill="#0a14f0" stroke="#00087a" stroke-width="0.5" />
<circle cx="97.14" cy="276.39" r="1.45" fill="#127a3a" stroke="#063a1a" stroke-width="0.5" />
<circle cx="96.79" cy="272.10" r="1.45" fill="#127a3a" stroke="#063a1a" stroke-width="0.5" />
<circle cx="99.31" cy="271.62" r="1.45" fill="#127a3a" stroke="#063a1a" stroke-width="0.5" />
<circle cx="97.98" cy="276.52" r="1.45" fill="#127a3a" stroke="#063a1a" stroke-width="0.5" />
<circle cx="102.89" cy="275.60" r="1.45" fill="#127a3a" stroke="#063a1a" stroke-width="0.5" />
<circle cx="100.46" cy="276.25" r="1.45" fill="#127a3a" stroke="#063a1a" stroke-width="0.5" />
<circle cx="103.43" cy="273.92" r="1.45" fill="#127a3a" stroke="#063a1a" stroke-width="0.5" />
<circle cx="101.43" cy="273.29" r="1.45" fill="#127a3a" stroke="#063a1a" stroke-width="0.5" />
<circle cx="101.63" cy="274.52" r="1.45" fill="#127a3a" stroke="#063a1a" stroke-width="0.5" />
<circle cx="97.15" cy="270.71" r="1.45" fill="#127a3a" stroke="#063a1a" stroke-width="0.5" />
<circle cx="98.93" cy="272.60" r="1.45" fill="#127a3a" stroke="#063a1a" stroke-width="0.5" />
<circle cx="97.26" cy="275.13" r="1.45" fill="#127a3a" stroke="#063a1a" stroke-width="0.5" />
<circle cx="100.70" cy="272.33" r="1.45" fill="#127a3a" stroke="#063a1a" stroke-width="0.5" />
<circle cx="99.75" cy="272.92" r="1.45" fill="#127a3a" stroke="#063a1a" stroke-width="0.5" />
<circle cx="96.01" cy="271.43" r="1.45" fill="#127a3a" stroke="#063a1a" stroke-width="0.5" />
<circle cx="99.17" cy="271.81" r="1.45" fill="#127a3a" stroke="#063a1a" stroke-width="0.5" />
<circle cx="98.72" cy="271.29" r="1.45" fill="#127a3a" stroke="#063a1a" stroke-width="0.5" />
<circle cx="97.68" cy="270.98" r="1.45" fill="#127a3a" stroke="#063a1a" stroke-width="0.5" />
<circle cx="96.70" cy="272.05" r="1.45" fill="#127a3a" stroke="#063a1a" stroke-width="0.5" />
<circle cx="99.87" cy="276.08" r="1.45" fill="#127a3a" stroke="#063a1a" stroke-width="0.5" />
<circle cx="101.60" cy="273.04" r="1.45" fill="#127a3a" stroke="#063a1a" stroke-width="0.5" />
<circle cx="98.37" cy="273.75" r="1.45" fill="#127a3a" stroke="#063a1a" stroke-width="0.5" />
<circle cx="98.02" cy="272.56" r="1.45" fill="#127a3a" stroke="#063a1a" stroke-width="0.5" />
<circle cx="95.00" cy="272.18" r="1.45" fill="#127a3a" stroke="#063a1a" stroke-width="0.5" />
<circle cx="99.20" cy="273.60" r="1.30" fill="#151515" stroke="none" stroke-width="0.5" />
<circle cx="103.20" cy="265.10" r="1.45" fill="#127a3a" stroke="#063a1a" stroke-width="0.5" />
<circle cx="134.52" cy="292.06" r="1.45" fill="#ff1414" stroke="#900000" stroke-width="0.5" />
<circle cx="136.39" cy="287.09" r="1.45" fill="#ff1414" stroke="#900000" stroke-width="0.5" />
<circle cx="133.31" cy="287.48" r="1.45" fill="#ff1414" stroke="#900000" stroke-width="0.5" />
<circle cx="133.98" cy="289.85" r="1.45" fill="#ff1414" stroke="#900000" stroke-width="0.5" />
<circle cx="136.56" cy="290.18" r="1.45" fill="#ff1414" stroke="#900000" stroke-width="0.5" />
<circle cx="133.94" cy="295.62" r="1.45" fill="#ff1414" stroke="#900000" stroke-width="0.5" />
<circle cx="136.19" cy="294.77" r="1.45" fill="#ff1414" stroke="#900000" stroke-width="0.5" />
<circle cx="134.62" cy="292.68" r="1.45" fill="#ff1414" stroke="#900000" stroke-width="0.5" />
<circle cx="136.80" cy="293.16" r="1.45" fill="#ff1414" stroke="#900000" stroke-width="0.5" />
<circle cx="135.27" cy="293.68" r="1.45" fill="#ff1414" stroke="#900000" stroke-width="0.5" />
<circle cx="134.28" cy="291.12" r="1.45" fill="#ff1414" stroke="#900000" stroke-width="0.5" />
<circle cx="133.11" cy="295.54" r="1.45" fill="#ff1414" stroke="#900000" stroke-width="0.5" />
<circle cx="135.26" cy="288.15" r="1.45" fill="#ff1414" stroke="#900000" stroke-width="0.5" />
<circle cx="132.57" cy="287.52" r="1.45" fill="#ff1414" stroke="#900000" stroke-width="0.5" />
<circle cx="135.21" cy="292.88" r="1.45" fill="#ff1414" stroke="#900000" stroke-width="0.5" />
<circle cx="134.63" cy="291.49" r="1.45" fill="#ff1414" stroke="#900000" stroke-width="0.5" />
<circle cx="133.92" cy="287.18" r="1.45" fill="#ff1414" stroke="#900000" stroke-width="0.5" />
<circle cx="135.03" cy="284.63" r="1.45" fill="#ff1414" stroke="#900000" stroke-width="0.5" />
<circle cx="133.47" cy="290.03" r="1.45" fill="#ff1414" stroke="#900000" stroke-width="0.5" />
<circle cx="136.89" cy="292.23" r="1.45" fill="#ff1414" stroke="#900000" stroke-width="0.5" />
<circle cx="134.50" cy="290.50" r="1.30" fill="#151515" stroke="none" stroke-width="0.5" />
<circle cx="122.42" cy="304.78" r="1.45" fill="#b01414" stroke="#500808" stroke-width="0.5" />
<circle cx="117.48" cy="301.86" r="1.45" fill="#b01414" stroke="#500808" stroke-width="0.5" />
<circle cx="119.49" cy="307.33" r="1.45" fill="#b01414" stroke="#500808" stroke-width="0.5" />
<circle cx="118.89" cy="301.99" r="1.45" fill="#b01414" stroke="#500808" stroke-width="0.5" />
<circle cx="120.77" cy="310.54" r="1.45" fill="#b01414" stroke="#500808" stroke-width="0.5" />
<circle cx="118.27" cy="304.08" r="1.45" fill="#b01414" stroke="#500808" stroke-width="0.5" />
<circle cx="120.89" cy="301.24" r="1.45" fill="#b01414" stroke="#500808" stroke-width="0.5" />
<circle cx="121.76" cy="308.16" r="1.45" fill="#b01414" stroke="#500808" stroke-width="0.5" />
<circle cx="119.54" cy="301.33" r="1.45" fill="#b01414" stroke="#500808" stroke-width="0.5" />
<circle cx="121.93" cy="301.65" r="1.45" fill="#b01414" stroke="#500808" stroke-width="0.5" />
<circle cx="117.38" cy="308.43" r="1.45" fill="#b01414" stroke="#500808" stroke-width="0.5" />
<circle cx="117.94" cy="310.88" r="1.45" fill="#b01414" stroke="#500808" stroke-width="0.5" />
<circle cx="119.47" cy="301.10" r="1.45" fill="#b01414" stroke="#500808" stroke-width="0.5" />
<circle cx="117.40" cy="304.04" r="1.45" fill="#b01414" stroke="#500808" stroke-width="0.5" />
<circle cx="120.76" cy="310.84" r="1.45" fill="#b01414" stroke="#500808" stroke-width="0.5" />
<circle cx="116.81" cy="303.74" r="1.45" fill="#b01414" stroke="#500808" stroke-width="0.5" />
<circle cx="116.16" cy="303.73" r="1.45" fill="#b01414" stroke="#500808" stroke-width="0.5" />
<circle cx="122.78" cy="302.91" r="1.45" fill="#b01414" stroke="#500808" stroke-width="0.5" />
<circle cx="120.75" cy="303.55" r="1.45" fill="#b01414" stroke="#500808" stroke-width="0.5" />
<circle cx="118.54" cy="302.95" r="1.45" fill="#b01414" stroke="#500808" stroke-width="0.5" />
<circle cx="117.83" cy="303.20" r="1.45" fill="#b01414" stroke="#500808" stroke-width="0.5" />
<circle cx="118.41" cy="309.22" r="1.45" fill="#b01414" stroke="#500808" stroke-width="0.5" />
<circle cx="121.95" cy="304.24" r="1.45" fill="#b01414" stroke="#500808" stroke-width="0.5" />
<circle cx="116.07" cy="304.76" r="1.45" fill="#b01414" stroke="#500808" stroke-width="0.5" />
<circle cx="119.50" cy="305.10" r="1.30" fill="#151515" stroke="none" stroke-width="0.5" />
<circle cx="154.14" cy="258.16" r="1.45" fill="#9418c8" stroke="#4a0a66" stroke-width="0.5" />
<circle cx="153.20" cy="253.05" r="1.45" fill="#9418c8" stroke="#4a0a66" stroke-width="0.5" />
<circle cx="154.34" cy="257.17" r="1.45" fill="#9418c8" stroke="#4a0a66" stroke-width="0.5" />
<circle cx="156.98" cy="252.06" r="1.45" fill="#9418c8" stroke="#4a0a66" stroke-width="0.5" />
<circle cx="156.09" cy="257.97" r="1.45" fill="#9418c8" stroke="#4a0a66" stroke-width="0.5" />
<circle cx="153.96" cy="252.21" r="1.45" fill="#9418c8" stroke="#4a0a66" stroke-width="0.5" />
<circle cx="157.18" cy="255.38" r="1.45" fill="#9418c8" stroke="#4a0a66" stroke-width="0.5" />
<circle cx="153.56" cy="256.29" r="1.45" fill="#9418c8" stroke="#4a0a66" stroke-width="0.5" />
<circle cx="153.85" cy="252.24" r="1.45" fill="#9418c8" stroke="#4a0a66" stroke-width="0.5" />
<circle cx="156.97" cy="255.53" r="1.45" fill="#9418c8" stroke="#4a0a66" stroke-width="0.5" />
<circle cx="153.42" cy="254.07" r="1.45" fill="#9418c8" stroke="#4a0a66" stroke-width="0.5" />
<circle cx="154.21" cy="252.01" r="1.45" fill="#9418c8" stroke="#4a0a66" stroke-width="0.5" />
<circle cx="154.44" cy="254.24" r="1.45" fill="#9418c8" stroke="#4a0a66" stroke-width="0.5" />
<circle cx="156.37" cy="256.49" r="1.45" fill="#9418c8" stroke="#4a0a66" stroke-width="0.5" />
<circle cx="156.48" cy="256.81" r="1.45" fill="#9418c8" stroke="#4a0a66" stroke-width="0.5" />
<circle cx="155.36" cy="252.72" r="1.45" fill="#9418c8" stroke="#4a0a66" stroke-width="0.5" />
<circle cx="154.80" cy="254.30" r="1.30" fill="#151515" stroke="none" stroke-width="0.5" />
<circle cx="165.41" cy="259.23" r="1.45" fill="#ff18ff" stroke="#a000a0" stroke-width="0.5" />
<circle cx="164.87" cy="264.24" r="1.45" fill="#ff18ff" stroke="#a000a0" stroke-width="0.5" />
<circle cx="164.15" cy="261.67" r="1.45" fill="#ff18ff" stroke="#a000a0" stroke-width="0.5" />
<circle cx="165.17" cy="255.68" r="1.45" fill="#ff18ff" stroke="#a000a0" stroke-width="0.5" />
<circle cx="164.42" cy="260.98" r="1.45" fill="#ff18ff" stroke="#a000a0" stroke-width="0.5" />
<circle cx="167.12" cy="260.32" r="1.45" fill="#ff18ff" stroke="#a000a0" stroke-width="0.5" />
<circle cx="165.03" cy="259.94" r="1.45" fill="#ff18ff" stroke="#a000a0" stroke-width="0.5" />
<circle cx="166.73" cy="263.23" r="1.45" fill="#ff18ff" stroke="#a000a0" stroke-width="0.5" />
<circle cx="167.29" cy="265.44" r="1.45" fill="#ff18ff" stroke="#a000a0" stroke-width="0.5" />
<circle cx="166.92" cy="256.15" r="1.45" fill="#ff18ff" stroke="#a000a0" stroke-width="0.5" />
<circle cx="167.70" cy="258.36" r="1.45" fill="#ff18ff" stroke="#a000a0" stroke-width="0.5" />
<circle cx="166.49" cy="259.37" r="1.45" fill="#ff18ff" stroke="#a000a0" stroke-width="0.5" />
<circle cx="167.25" cy="257.15" r="1.45" fill="#ff18ff" stroke="#a000a0" stroke-width="0.5" />
<circle cx="165.09" cy="257.74" r="1.45" fill="#ff18ff" stroke="#a000a0" stroke-width="0.5" />
<circle cx="166.54" cy="258.78" r="1.45" fill="#ff18ff" stroke="#a000a0" stroke-width="0.5" />
<circle cx="166.23" cy="257.56" r="1.45" fill="#ff18ff" stroke="#a000a0" stroke-width="0.5" />
<circle cx="167.56" cy="262.96" r="1.45" fill="#ff18ff" stroke="#a000a0" stroke-width="0.5" />
<circle cx="166.09" cy="265.08" r="1.45" fill="#ff18ff" stroke="#a000a0" stroke-width="0.5" />
<circle cx="166.20" cy="261.00" r="1.30" fill="#151515" stroke="none" stroke-width="0.5" />
<circle cx="151.62" cy="281.03" r="1.45" fill="#ffa030" stroke="#a06010" stroke-width="0.5" />
<circle cx="156.06" cy="286.06" r="1.45" fill="#ffa030" stroke="#a06010" stroke-width="0.5" />
<circle cx="155.84" cy="283.36" r="1.45" fill="#ffa030" stroke="#a06010" stroke-width="0.5" />
<circle cx="155.50" cy="284.35" r="1.45" fill="#ffa030" stroke="#a06010" stroke-width="0.5" />
<circle cx="152.35" cy="288.56" r="1.45" fill="#ffa030" stroke="#a06010" stroke-width="0.5" />
<circle cx="154.10" cy="286.54" r="1.45" fill="#ffa030" stroke="#a06010" stroke-width="0.5" />
<circle cx="152.13" cy="283.32" r="1.45" fill="#ffa030" stroke="#a06010" stroke-width="0.5" />
<circle cx="151.74" cy="281.21" r="1.45" fill="#ffa030" stroke="#a06010" stroke-width="0.5" />
<circle cx="152.33" cy="286.27" r="1.45" fill="#ffa030" stroke="#a06010" stroke-width="0.5" />
<circle cx="154.39" cy="281.20" r="1.45" fill="#ffa030" stroke="#a06010" stroke-width="0.5" />
<circle cx="154.53" cy="280.97" r="1.45" fill="#ffa030" stroke="#a06010" stroke-width="0.5" />
<circle cx="152.62" cy="281.20" r="1.45" fill="#ffa030" stroke="#a06010" stroke-width="0.5" />
<circle cx="155.14" cy="285.61" r="1.45" fill="#ffa030" stroke="#a06010" stroke-width="0.5" />
<circle cx="153.06" cy="285.64" r="1.45" fill="#ffa030" stroke="#a06010" stroke-width="0.5" />
<circle cx="154.32" cy="279.77" r="1.45" fill="#ffa030" stroke="#a06010" stroke-width="0.5" />
<circle cx="151.85" cy="287.50" r="1.45" fill="#ffa030" stroke="#a06010" stroke-width="0.5" />
<circle cx="153.13" cy="282.23" r="1.45" fill="#ffa030" stroke="#a06010" stroke-width="0.5" />
<circle cx="152.60" cy="290.80" r="1.45" fill="#ffa030" stroke="#a06010" stroke-width="0.5" />
<circle cx="157.72" cy="279.90" r="1.45" fill="#ffcc10" stroke="#a08000" stroke-width="0.5" />
<circle cx="157.89" cy="279.00" r="1.45" fill="#ffcc10" stroke="#a08000" stroke-width="0.5" />
<circle cx="157.91" cy="277.68" r="1.45" fill="#ffcc10" stroke="#a08000" stroke-width="0.5" />
<circle cx="159.22" cy="277.72" r="1.45" fill="#ffcc10" stroke="#a08000" stroke-width="0.5" />
<circle cx="158.13" cy="281.42" r="1.45" fill="#ffcc10" stroke="#a08000" stroke-width="0.5" />
<circle cx="158.06" cy="281.80" r="1.45" fill="#ffcc10" stroke="#a08000" stroke-width="0.5" />
<circle cx="158.26" cy="277.48" r="1.45" fill="#ffcc10" stroke="#a08000" stroke-width="0.5" />
<circle cx="156.65" cy="279.81" r="1.45" fill="#ffcc10" stroke="#a08000" stroke-width="0.5" />
<circle cx="156.53" cy="271.55" r="1.45" fill="#44cc44" stroke="#1a7a1a" stroke-width="0.5" />
<circle cx="153.66" cy="270.74" r="1.45" fill="#44cc44" stroke="#1a7a1a" stroke-width="0.5" />
<circle cx="155.13" cy="270.41" r="1.45" fill="#44cc44" stroke="#1a7a1a" stroke-width="0.5" />
<circle cx="153.96" cy="269.79" r="1.45" fill="#44cc44" stroke="#1a7a1a" stroke-width="0.5" />
<circle cx="155.91" cy="271.59" r="1.45" fill="#44cc44" stroke="#1a7a1a" stroke-width="0.5" />
<circle cx="153.77" cy="270.37" r="1.45" fill="#44cc44" stroke="#1a7a1a" stroke-width="0.5" />
<circle cx="154.23" cy="269.35" r="1.45" fill="#44cc44" stroke="#1a7a1a" stroke-width="0.5" />
<circle cx="155.71" cy="269.15" r="1.45" fill="#44cc44" stroke="#1a7a1a" stroke-width="0.5" />
<circle cx="153.30" cy="275.30" r="1.35" fill="#151515" stroke="none" stroke-width="0.5" />
<circle cx="156.70" cy="273.40" r="1.35" fill="#151515" stroke="none" stroke-width="0.5" />
<circle cx="157.70" cy="279.50" r="1.35" fill="#151515" stroke="none" stroke-width="0.5" />
<circle cx="153.90" cy="285.20" r="1.35" fill="#151515" stroke="none" stroke-width="0.5" />
<circle cx="165.30" cy="277.80" r="1.35" fill="#151515" stroke="none" stroke-width="0.5" />
<circle cx="176.40" cy="272.40" r="1.35" fill="#151515" stroke="none" stroke-width="0.5" />
<circle cx="188.20" cy="271.90" r="1.35" fill="#151515" stroke="none" stroke-width="0.5" />
<circle cx="193.90" cy="274.40" r="1.35" fill="#151515" stroke="none" stroke-width="0.5" />
<circle cx="197.20" cy="270.00" r="1.35" fill="#151515" stroke="none" stroke-width="0.5" />
<circle cx="202.50" cy="269.00" r="1.35" fill="#151515" stroke="none" stroke-width="0.5" />
<circle cx="204.40" cy="272.40" r="1.35" fill="#151515" stroke="none" stroke-width="0.5" />
<circle cx="206.90" cy="269.60" r="1.35" fill="#151515" stroke="none" stroke-width="0.5" />
<circle cx="209.80" cy="270.50" r="1.35" fill="#151515" stroke="none" stroke-width="0.5" />
<rect x="81.00" y="216.80" width="150.60" height="109.40" fill="none" stroke="#5a5a5a" stroke-width="1.1"/>
<line x1="81.40" y1="326.20" x2="81.40" y2="323.20" stroke="#5a5a5a" stroke-width="1" />
<line x1="81.40" y1="216.80" x2="81.40" y2="219.80" stroke="#5a5a5a" stroke-width="1" />
<line x1="102.77" y1="326.20" x2="102.77" y2="324.20" stroke="#5a5a5a" stroke-width="1" />
<line x1="102.77" y1="216.80" x2="102.77" y2="218.80" stroke="#5a5a5a" stroke-width="1" />
<line x1="124.15" y1="326.20" x2="124.15" y2="323.20" stroke="#5a5a5a" stroke-width="1" />
<line x1="124.15" y1="216.80" x2="124.15" y2="219.80" stroke="#5a5a5a" stroke-width="1" />
<line x1="145.53" y1="326.20" x2="145.53" y2="324.20" stroke="#5a5a5a" stroke-width="1" />
<line x1="145.53" y1="216.80" x2="145.53" y2="218.80" stroke="#5a5a5a" stroke-width="1" />
<line x1="166.90" y1="326.20" x2="166.90" y2="323.20" stroke="#5a5a5a" stroke-width="1" />
<line x1="166.90" y1="216.80" x2="166.90" y2="219.80" stroke="#5a5a5a" stroke-width="1" />
<line x1="188.28" y1="326.20" x2="188.28" y2="324.20" stroke="#5a5a5a" stroke-width="1" />
<line x1="188.28" y1="216.80" x2="188.28" y2="218.80" stroke="#5a5a5a" stroke-width="1" />
<line x1="209.65" y1="326.20" x2="209.65" y2="323.20" stroke="#5a5a5a" stroke-width="1" />
<line x1="209.65" y1="216.80" x2="209.65" y2="219.80" stroke="#5a5a5a" stroke-width="1" />
<line x1="231.03" y1="326.20" x2="231.03" y2="324.20" stroke="#5a5a5a" stroke-width="1" />
<line x1="231.03" y1="216.80" x2="231.03" y2="218.80" stroke="#5a5a5a" stroke-width="1" />
<line x1="81.00" y1="309.20" x2="84.00" y2="309.20" stroke="#5a5a5a" stroke-width="1" />
<line x1="231.60" y1="309.20" x2="228.60" y2="309.20" stroke="#5a5a5a" stroke-width="1" />
<line x1="81.00" y1="291.10" x2="83.00" y2="291.10" stroke="#5a5a5a" stroke-width="1" />
<line x1="231.60" y1="291.10" x2="229.60" y2="291.10" stroke="#5a5a5a" stroke-width="1" />
<line x1="81.00" y1="273.00" x2="84.00" y2="273.00" stroke="#5a5a5a" stroke-width="1" />
<line x1="231.60" y1="273.00" x2="228.60" y2="273.00" stroke="#5a5a5a" stroke-width="1" />
<line x1="81.00" y1="254.90" x2="83.00" y2="254.90" stroke="#5a5a5a" stroke-width="1" />
<line x1="231.60" y1="254.90" x2="229.60" y2="254.90" stroke="#5a5a5a" stroke-width="1" />
<line x1="81.00" y1="236.80" x2="84.00" y2="236.80" stroke="#5a5a5a" stroke-width="1" />
<line x1="231.60" y1="236.80" x2="228.60" y2="236.80" stroke="#5a5a5a" stroke-width="1" />
<text x="76.80" y="241.79" font-size="10.3" text-anchor="end" fill="#3a3a3a" stroke="#3a3a3a" stroke-width="0.3" >0.02</text>
<text x="76.80" y="277.99" font-size="10.3" text-anchor="end" fill="#3a3a3a" stroke="#3a3a3a" stroke-width="0.3" >0.00</text>
<text x="76.80" y="314.19" font-size="10.3" text-anchor="end" fill="#3a3a3a" stroke="#3a3a3a" stroke-width="0.3" >-0.02</text>
<text x="77.40" y="338.69" font-size="10.3" text-anchor="middle" fill="#3a3a3a" stroke="#3a3a3a" stroke-width="0.3" >-0.10</text>
<text x="120.15" y="338.69" font-size="10.3" text-anchor="middle" fill="#3a3a3a" stroke="#3a3a3a" stroke-width="0.3" >-0.05</text>
<text x="162.90" y="338.69" font-size="10.3" text-anchor="middle" fill="#3a3a3a" stroke="#3a3a3a" stroke-width="0.3" >0.00</text>
<text x="205.65" y="338.69" font-size="10.3" text-anchor="middle" fill="#3a3a3a" stroke="#3a3a3a" stroke-width="0.3" >0.05</text>
<text x="157.80" y="352.76" font-size="10.5" text-anchor="middle" fill="#3a3a3a" stroke="#3a3a3a" stroke-width="0.3" textLength="74" lengthAdjust="spacingAndGlyphs" >1st order scores</text>
<text x="49.40" y="269.00" font-size="10.5" text-anchor="middle" fill="#3a3a3a" stroke="#3a3a3a" stroke-width="0.3" textLength="74.4" lengthAdjust="spacingAndGlyphs" transform="rotate(-90 49.40 269.00)" >3rd order scores</text>
<text x="156.40" y="405.22" font-size="10.4" text-anchor="middle" fill="#3a3a3a" stroke="#3a3a3a" stroke-width="0.3" textLength="44.5" lengthAdjust="spacingAndGlyphs" xml:space="preserve">Top  View</text>
<circle cx="142.40" cy="514.28" r="1.50" fill="#a2f0f0" stroke="none" stroke-width="0.5" />
<circle cx="144.04" cy="512.62" r="1.50" fill="#a2f0f0" stroke="none" stroke-width="0.5" />
<circle cx="144.77" cy="514.34" r="1.50" fill="#a2f0f0" stroke="none" stroke-width="0.5" />
<circle cx="145.30" cy="511.36" r="1.50" fill="#a2f0f0" stroke="none" stroke-width="0.5" />
<circle cx="139.80" cy="516.85" r="1.50" fill="#a2f0f0" stroke="none" stroke-width="0.5" />
<circle cx="143.25" cy="515.66" r="1.50" fill="#a2f0f0" stroke="none" stroke-width="0.5" />
<circle cx="144.54" cy="512.66" r="1.50" fill="#a2f0f0" stroke="none" stroke-width="0.5" />
<circle cx="143.30" cy="513.35" r="1.50" fill="#a2f0f0" stroke="none" stroke-width="0.5" />
<circle cx="146.44" cy="513.91" r="1.50" fill="#a2f0f0" stroke="none" stroke-width="0.5" />
<circle cx="148.44" cy="504.63" r="1.50" fill="#a2f0f0" stroke="none" stroke-width="0.5" />
<circle cx="146.99" cy="506.16" r="1.50" fill="#a2f0f0" stroke="none" stroke-width="0.5" />
<circle cx="148.49" cy="505.12" r="1.50" fill="#a2f0f0" stroke="none" stroke-width="0.5" />
<circle cx="144.32" cy="509.91" r="1.50" fill="#a2f0f0" stroke="none" stroke-width="0.5" />
<circle cx="147.50" cy="506.06" r="1.50" fill="#a2f0f0" stroke="none" stroke-width="0.5" />
<circle cx="149.63" cy="508.38" r="1.50" fill="#a2f0f0" stroke="none" stroke-width="0.5" />
<circle cx="147.60" cy="511.67" r="1.50" fill="#a2f0f0" stroke="none" stroke-width="0.5" />
<circle cx="144.34" cy="511.25" r="1.50" fill="#a2f0f0" stroke="none" stroke-width="0.5" />
<circle cx="145.42" cy="510.54" r="1.50" fill="#a2f0f0" stroke="none" stroke-width="0.5" />
<circle cx="151.09" cy="501.72" r="1.50" fill="#a2f0f0" stroke="none" stroke-width="0.5" />
<circle cx="144.32" cy="510.88" r="1.50" fill="#a2f0f0" stroke="none" stroke-width="0.5" />
<circle cx="154.45" cy="503.95" r="1.50" fill="#a2f0f0" stroke="none" stroke-width="0.5" />
<circle cx="152.22" cy="497.84" r="1.50" fill="#a2f0f0" stroke="none" stroke-width="0.5" />
<circle cx="148.92" cy="509.22" r="1.50" fill="#a2f0f0" stroke="none" stroke-width="0.5" />
<circle cx="153.18" cy="500.85" r="1.50" fill="#a2f0f0" stroke="none" stroke-width="0.5" />
<circle cx="151.69" cy="502.88" r="1.50" fill="#a2f0f0" stroke="none" stroke-width="0.5" />
<circle cx="154.53" cy="496.78" r="1.50" fill="#a2f0f0" stroke="none" stroke-width="0.5" />
<circle cx="156.95" cy="496.01" r="1.50" fill="#a2f0f0" stroke="none" stroke-width="0.5" />
<circle cx="149.56" cy="499.57" r="1.50" fill="#a2f0f0" stroke="none" stroke-width="0.5" />
<circle cx="153.56" cy="501.06" r="1.50" fill="#a2f0f0" stroke="none" stroke-width="0.5" />
<circle cx="155.37" cy="498.31" r="1.50" fill="#a2f0f0" stroke="none" stroke-width="0.5" />
<circle cx="155.83" cy="498.47" r="1.50" fill="#a2f0f0" stroke="none" stroke-width="0.5" />
<circle cx="158.89" cy="495.53" r="1.50" fill="#a2f0f0" stroke="none" stroke-width="0.5" />
<circle cx="150.85" cy="499.41" r="1.50" fill="#a2f0f0" stroke="none" stroke-width="0.5" />
<circle cx="156.05" cy="496.15" r="1.50" fill="#a2f0f0" stroke="none" stroke-width="0.5" />
<circle cx="156.32" cy="495.20" r="1.50" fill="#a2f0f0" stroke="none" stroke-width="0.5" />
<circle cx="156.79" cy="490.82" r="1.50" fill="#a2f0f0" stroke="none" stroke-width="0.5" />
<circle cx="156.43" cy="498.97" r="1.50" fill="#a2f0f0" stroke="none" stroke-width="0.5" />
<circle cx="153.87" cy="497.99" r="1.50" fill="#a2f0f0" stroke="none" stroke-width="0.5" />
<circle cx="162.74" cy="490.62" r="1.50" fill="#a2f0f0" stroke="none" stroke-width="0.5" />
<circle cx="158.93" cy="490.40" r="1.50" fill="#a2f0f0" stroke="none" stroke-width="0.5" />
<circle cx="165.30" cy="486.15" r="1.50" fill="#a2f0f0" stroke="none" stroke-width="0.5" />
<circle cx="163.20" cy="486.25" r="1.50" fill="#a2f0f0" stroke="none" stroke-width="0.5" />
<circle cx="159.66" cy="493.60" r="1.50" fill="#a2f0f0" stroke="none" stroke-width="0.5" />
<circle cx="157.81" cy="487.91" r="1.50" fill="#a2f0f0" stroke="none" stroke-width="0.5" />
<circle cx="159.40" cy="493.29" r="1.50" fill="#a2f0f0" stroke="none" stroke-width="0.5" />
<circle cx="159.77" cy="491.83" r="1.50" fill="#a2f0f0" stroke="none" stroke-width="0.5" />
<circle cx="158.08" cy="492.01" r="1.50" fill="#a2f0f0" stroke="none" stroke-width="0.5" />
<circle cx="161.64" cy="486.25" r="1.50" fill="#a2f0f0" stroke="none" stroke-width="0.5" />
<circle cx="162.03" cy="486.65" r="1.50" fill="#a2f0f0" stroke="none" stroke-width="0.5" />
<circle cx="165.44" cy="484.72" r="1.50" fill="#a2f0f0" stroke="none" stroke-width="0.5" />
<circle cx="156.53" cy="488.53" r="1.50" fill="#a2f0f0" stroke="none" stroke-width="0.5" />
<circle cx="163.09" cy="485.89" r="1.50" fill="#a2f0f0" stroke="none" stroke-width="0.5" />
<circle cx="156.75" cy="490.17" r="1.50" fill="#a2f0f0" stroke="none" stroke-width="0.5" />
<circle cx="167.54" cy="479.88" r="1.50" fill="#a2f0f0" stroke="none" stroke-width="0.5" />
<circle cx="173.17" cy="476.95" r="1.50" fill="#a2f0f0" stroke="none" stroke-width="0.5" />
<circle cx="175.05" cy="478.98" r="1.50" fill="#a2f0f0" stroke="none" stroke-width="0.5" />
<circle cx="169.15" cy="481.64" r="1.50" fill="#a2f0f0" stroke="none" stroke-width="0.5" />
<circle cx="174.20" cy="479.24" r="1.50" fill="#a2f0f0" stroke="none" stroke-width="0.5" />
<circle cx="174.04" cy="479.10" r="1.50" fill="#a2f0f0" stroke="none" stroke-width="0.5" />
<circle cx="168.27" cy="479.87" r="1.50" fill="#a2f0f0" stroke="none" stroke-width="0.5" />
<circle cx="172.99" cy="480.19" r="1.50" fill="#a2f0f0" stroke="none" stroke-width="0.5" />
<circle cx="171.67" cy="482.68" r="1.50" fill="#a2f0f0" stroke="none" stroke-width="0.5" />
<circle cx="172.04" cy="478.86" r="1.50" fill="#a2f0f0" stroke="none" stroke-width="0.5" />
<circle cx="172.51" cy="476.82" r="1.50" fill="#a2f0f0" stroke="none" stroke-width="0.5" />
<circle cx="170.60" cy="479.63" r="1.50" fill="#a2f0f0" stroke="none" stroke-width="0.5" />
<circle cx="174.51" cy="478.01" r="1.50" fill="#a2f0f0" stroke="none" stroke-width="0.5" />
<circle cx="175.87" cy="474.11" r="1.50" fill="#a2f0f0" stroke="none" stroke-width="0.5" />
<circle cx="178.72" cy="473.64" r="1.50" fill="#a2f0f0" stroke="none" stroke-width="0.5" />
<circle cx="174.48" cy="477.13" r="1.50" fill="#a2f0f0" stroke="none" stroke-width="0.5" />
<circle cx="176.81" cy="478.49" r="1.50" fill="#a2f0f0" stroke="none" stroke-width="0.5" />
<circle cx="180.50" cy="477.95" r="1.50" fill="#a2f0f0" stroke="none" stroke-width="0.5" />
<circle cx="173.81" cy="479.09" r="1.50" fill="#a2f0f0" stroke="none" stroke-width="0.5" />
<circle cx="181.06" cy="474.34" r="1.50" fill="#a2f0f0" stroke="none" stroke-width="0.5" />
<circle cx="176.93" cy="475.72" r="1.50" fill="#a2f0f0" stroke="none" stroke-width="0.5" />
<circle cx="184.37" cy="470.45" r="1.50" fill="#a2f0f0" stroke="none" stroke-width="0.5" />
<circle cx="182.51" cy="462.65" r="1.50" fill="#a2f0f0" stroke="none" stroke-width="0.5" />
<circle cx="185.44" cy="467.10" r="1.50" fill="#a2f0f0" stroke="none" stroke-width="0.5" />
<circle cx="183.66" cy="467.38" r="1.50" fill="#a2f0f0" stroke="none" stroke-width="0.5" />
<circle cx="183.99" cy="470.22" r="1.50" fill="#a2f0f0" stroke="none" stroke-width="0.5" />
<circle cx="188.99" cy="470.53" r="1.50" fill="#a2f0f0" stroke="none" stroke-width="0.5" />
<circle cx="182.13" cy="473.17" r="1.50" fill="#a2f0f0" stroke="none" stroke-width="0.5" />
<circle cx="186.69" cy="466.35" r="1.50" fill="#a2f0f0" stroke="none" stroke-width="0.5" />
<circle cx="183.34" cy="474.96" r="1.50" fill="#a2f0f0" stroke="none" stroke-width="0.5" />
<circle cx="183.89" cy="465.01" r="1.50" fill="#a2f0f0" stroke="none" stroke-width="0.5" />
<circle cx="178.84" cy="472.69" r="1.50" fill="#a2f0f0" stroke="none" stroke-width="0.5" />
<circle cx="188.33" cy="462.46" r="1.50" fill="#a2f0f0" stroke="none" stroke-width="0.5" />
<circle cx="183.66" cy="470.32" r="1.50" fill="#a2f0f0" stroke="none" stroke-width="0.5" />
<circle cx="188.57" cy="466.13" r="1.50" fill="#a2f0f0" stroke="none" stroke-width="0.5" />
<circle cx="184.86" cy="474.19" r="1.50" fill="#a2f0f0" stroke="none" stroke-width="0.5" />
<circle cx="183.81" cy="463.60" r="1.50" fill="#a2f0f0" stroke="none" stroke-width="0.5" />
<circle cx="184.77" cy="469.21" r="1.50" fill="#a2f0f0" stroke="none" stroke-width="0.5" />
<circle cx="180.84" cy="472.03" r="1.50" fill="#a2f0f0" stroke="none" stroke-width="0.5" />
<circle cx="182.14" cy="471.50" r="1.50" fill="#a2f0f0" stroke="none" stroke-width="0.5" />
<circle cx="181.35" cy="475.17" r="1.50" fill="#a2f0f0" stroke="none" stroke-width="0.5" />
<circle cx="187.52" cy="467.31" r="1.50" fill="#a2f0f0" stroke="none" stroke-width="0.5" />
<circle cx="192.30" cy="459.23" r="1.50" fill="#a2f0f0" stroke="none" stroke-width="0.5" />
<circle cx="186.14" cy="465.68" r="1.50" fill="#a2f0f0" stroke="none" stroke-width="0.5" />
<circle cx="190.12" cy="462.60" r="1.50" fill="#a2f0f0" stroke="none" stroke-width="0.5" />
<circle cx="191.62" cy="465.45" r="1.50" fill="#a2f0f0" stroke="none" stroke-width="0.5" />
<circle cx="188.93" cy="462.97" r="1.50" fill="#a2f0f0" stroke="none" stroke-width="0.5" />
<circle cx="188.96" cy="468.09" r="1.50" fill="#a2f0f0" stroke="none" stroke-width="0.5" />
<circle cx="195.52" cy="458.70" r="1.50" fill="#a2f0f0" stroke="none" stroke-width="0.5" />
<circle cx="190.89" cy="460.37" r="1.50" fill="#a2f0f0" stroke="none" stroke-width="0.5" />
<circle cx="188.25" cy="464.88" r="1.50" fill="#a2f0f0" stroke="none" stroke-width="0.5" />
<circle cx="190.89" cy="462.49" r="1.50" fill="#a2f0f0" stroke="none" stroke-width="0.5" />
<circle cx="188.27" cy="461.03" r="1.50" fill="#a2f0f0" stroke="none" stroke-width="0.5" />
<circle cx="187.92" cy="463.37" r="1.50" fill="#a2f0f0" stroke="none" stroke-width="0.5" />
<circle cx="197.59" cy="448.08" r="1.50" fill="#a2f0f0" stroke="none" stroke-width="0.5" />
<circle cx="196.35" cy="454.65" r="1.50" fill="#a2f0f0" stroke="none" stroke-width="0.5" />
<circle cx="196.69" cy="454.46" r="1.50" fill="#a2f0f0" stroke="none" stroke-width="0.5" />
<circle cx="200.92" cy="450.91" r="1.50" fill="#a2f0f0" stroke="none" stroke-width="0.5" />
<circle cx="197.08" cy="454.74" r="1.50" fill="#a2f0f0" stroke="none" stroke-width="0.5" />
<circle cx="197.04" cy="454.14" r="1.50" fill="#a2f0f0" stroke="none" stroke-width="0.5" />
<circle cx="193.02" cy="453.75" r="1.50" fill="#a2f0f0" stroke="none" stroke-width="0.5" />
<circle cx="197.37" cy="450.33" r="1.50" fill="#a2f0f0" stroke="none" stroke-width="0.5" />
<circle cx="197.78" cy="458.97" r="1.50" fill="#a2f0f0" stroke="none" stroke-width="0.5" />
<circle cx="197.84" cy="451.40" r="1.50" fill="#a2f0f0" stroke="none" stroke-width="0.5" />
<circle cx="196.72" cy="451.91" r="1.50" fill="#a2f0f0" stroke="none" stroke-width="0.5" />
<circle cx="189.85" cy="458.42" r="1.50" fill="#a2f0f0" stroke="none" stroke-width="0.5" />
<circle cx="195.53" cy="458.07" r="1.50" fill="#a2f0f0" stroke="none" stroke-width="0.5" />
<circle cx="198.87" cy="451.30" r="1.50" fill="#a2f0f0" stroke="none" stroke-width="0.5" />
<circle cx="194.34" cy="458.99" r="1.50" fill="#a2f0f0" stroke="none" stroke-width="0.5" />
<circle cx="197.90" cy="455.49" r="1.50" fill="#a2f0f0" stroke="none" stroke-width="0.5" />
<circle cx="197.89" cy="456.31" r="1.50" fill="#a2f0f0" stroke="none" stroke-width="0.5" />
<circle cx="194.87" cy="457.38" r="1.50" fill="#a2f0f0" stroke="none" stroke-width="0.5" />
<circle cx="206.71" cy="446.29" r="1.50" fill="#a2f0f0" stroke="none" stroke-width="0.5" />
<circle cx="204.16" cy="444.46" r="1.50" fill="#a2f0f0" stroke="none" stroke-width="0.5" />
<circle cx="205.88" cy="445.55" r="1.50" fill="#a2f0f0" stroke="none" stroke-width="0.5" />
<circle cx="205.09" cy="447.08" r="1.50" fill="#a2f0f0" stroke="none" stroke-width="0.5" />
<circle cx="204.98" cy="441.13" r="1.50" fill="#a2f0f0" stroke="none" stroke-width="0.5" />
<circle cx="203.60" cy="444.97" r="1.50" fill="#a2f0f0" stroke="none" stroke-width="0.5" />
<circle cx="201.67" cy="446.88" r="1.50" fill="#a2f0f0" stroke="none" stroke-width="0.5" />
<circle cx="204.17" cy="443.69" r="1.50" fill="#a2f0f0" stroke="none" stroke-width="0.5" />
<circle cx="204.21" cy="444.50" r="1.50" fill="#a2f0f0" stroke="none" stroke-width="0.5" />
<circle cx="208.00" cy="441.52" r="1.50" fill="#a2f0f0" stroke="none" stroke-width="0.5" />
<circle cx="207.10" cy="441.63" r="1.50" fill="#a2f0f0" stroke="none" stroke-width="0.5" />
<circle cx="203.05" cy="445.15" r="1.50" fill="#a2f0f0" stroke="none" stroke-width="0.5" />
<circle cx="206.49" cy="446.00" r="1.50" fill="#a2f0f0" stroke="none" stroke-width="0.5" />
<circle cx="205.10" cy="440.64" r="1.50" fill="#a2f0f0" stroke="none" stroke-width="0.5" />
<circle cx="200.00" cy="448.79" r="1.50" fill="#a2f0f0" stroke="none" stroke-width="0.5" />
<circle cx="202.00" cy="446.49" r="1.50" fill="#a2f0f0" stroke="none" stroke-width="0.5" />
<circle cx="214.32" cy="437.15" r="1.50" fill="#a2f0f0" stroke="none" stroke-width="0.5" />
<circle cx="210.26" cy="437.14" r="1.50" fill="#a2f0f0" stroke="none" stroke-width="0.5" />
<circle cx="215.90" cy="434.63" r="1.50" fill="#a2f0f0" stroke="none" stroke-width="0.5" />
<circle cx="209.29" cy="435.62" r="1.50" fill="#a2f0f0" stroke="none" stroke-width="0.5" />
<circle cx="212.73" cy="439.28" r="1.50" fill="#a2f0f0" stroke="none" stroke-width="0.5" />
<circle cx="210.14" cy="435.01" r="1.50" fill="#a2f0f0" stroke="none" stroke-width="0.5" />
<circle cx="212.48" cy="434.44" r="1.50" fill="#a2f0f0" stroke="none" stroke-width="0.5" />
<circle cx="211.21" cy="438.05" r="1.50" fill="#a2f0f0" stroke="none" stroke-width="0.5" />
<circle cx="208.76" cy="438.55" r="1.50" fill="#a2f0f0" stroke="none" stroke-width="0.5" />
<circle cx="210.02" cy="440.63" r="1.50" fill="#a2f0f0" stroke="none" stroke-width="0.5" />
<circle cx="207.33" cy="443.44" r="1.50" fill="#a2f0f0" stroke="none" stroke-width="0.5" />
<circle cx="205.47" cy="442.77" r="1.50" fill="#a2f0f0" stroke="none" stroke-width="0.5" />
<circle cx="210.64" cy="437.53" r="1.50" fill="#a2f0f0" stroke="none" stroke-width="0.5" />
<circle cx="208.42" cy="435.03" r="1.50" fill="#a2f0f0" stroke="none" stroke-width="0.5" />
<circle cx="211.30" cy="441.29" r="1.50" fill="#a2f0f0" stroke="none" stroke-width="0.5" />
<circle cx="209.99" cy="439.74" r="1.50" fill="#a2f0f0" stroke="none" stroke-width="0.5" />
<circle cx="157.49" cy="485.88" r="1.50" fill="#a2f0f0" stroke="none" stroke-width="0.5" />
<circle cx="151.77" cy="493.29" r="1.50" fill="#a2f0f0" stroke="none" stroke-width="0.5" />
<circle cx="158.46" cy="485.09" r="1.50" fill="#a2f0f0" stroke="none" stroke-width="0.5" />
<circle cx="158.01" cy="485.39" r="1.50" fill="#a2f0f0" stroke="none" stroke-width="0.5" />
<circle cx="149.53" cy="496.93" r="1.50" fill="#a2f0f0" stroke="none" stroke-width="0.5" />
<circle cx="156.24" cy="488.18" r="1.50" fill="#a2f0f0" stroke="none" stroke-width="0.5" />
<circle cx="149.09" cy="498.30" r="1.50" fill="#a2f0f0" stroke="none" stroke-width="0.5" />
<circle cx="152.00" cy="494.56" r="1.50" fill="#a2f0f0" stroke="none" stroke-width="0.5" />
<circle cx="155.93" cy="489.45" r="1.50" fill="#a2f0f0" stroke="none" stroke-width="0.5" />
<circle cx="148.97" cy="497.13" r="1.50" fill="#a2f0f0" stroke="none" stroke-width="0.5" />
<circle cx="154.31" cy="489.30" r="1.50" fill="#a2f0f0" stroke="none" stroke-width="0.5" />
<circle cx="159.25" cy="484.10" r="1.50" fill="#a2f0f0" stroke="none" stroke-width="0.5" />
<circle cx="159.33" cy="485.27" r="1.50" fill="#a2f0f0" stroke="none" stroke-width="0.5" />
<circle cx="148.80" cy="498.71" r="1.50" fill="#a2f0f0" stroke="none" stroke-width="0.5" />
<circle cx="138.09" cy="423.31" r="1.45" fill="#ff1414" stroke="#900000" stroke-width="0.5" />
<circle cx="133.60" cy="418.65" r="1.45" fill="#ff1414" stroke="#900000" stroke-width="0.5" />
<circle cx="132.91" cy="419.76" r="1.45" fill="#ff1414" stroke="#900000" stroke-width="0.5" />
<circle cx="136.97" cy="420.71" r="1.45" fill="#ff1414" stroke="#900000" stroke-width="0.5" />
<circle cx="137.07" cy="419.21" r="1.45" fill="#ff1414" stroke="#900000" stroke-width="0.5" />
<circle cx="137.70" cy="422.91" r="1.45" fill="#ff1414" stroke="#900000" stroke-width="0.5" />
<circle cx="137.00" cy="423.42" r="1.45" fill="#ff1414" stroke="#900000" stroke-width="0.5" />
<circle cx="137.72" cy="424.42" r="1.45" fill="#ff1414" stroke="#900000" stroke-width="0.5" />
<circle cx="137.37" cy="419.46" r="1.45" fill="#ff1414" stroke="#900000" stroke-width="0.5" />
<circle cx="136.43" cy="422.26" r="1.45" fill="#ff1414" stroke="#900000" stroke-width="0.5" />
<circle cx="136.75" cy="421.48" r="1.45" fill="#ff1414" stroke="#900000" stroke-width="0.5" />
<circle cx="137.65" cy="422.46" r="1.45" fill="#ff1414" stroke="#900000" stroke-width="0.5" />
<circle cx="133.69" cy="419.77" r="1.45" fill="#ff1414" stroke="#900000" stroke-width="0.5" />
<circle cx="132.89" cy="421.94" r="1.45" fill="#ff1414" stroke="#900000" stroke-width="0.5" />
<circle cx="132.37" cy="421.72" r="1.45" fill="#ff1414" stroke="#900000" stroke-width="0.5" />
<circle cx="132.92" cy="421.93" r="1.45" fill="#ff1414" stroke="#900000" stroke-width="0.5" />
<circle cx="135.19" cy="422.33" r="1.45" fill="#ff1414" stroke="#900000" stroke-width="0.5" />
<circle cx="137.38" cy="421.73" r="1.45" fill="#ff1414" stroke="#900000" stroke-width="0.5" />
<circle cx="135.20" cy="422.00" r="1.30" fill="#151515" stroke="none" stroke-width="0.5" />
<circle cx="133.83" cy="435.22" r="1.45" fill="#0a14f0" stroke="#00087a" stroke-width="0.5" />
<circle cx="135.72" cy="432.55" r="1.45" fill="#0a14f0" stroke="#00087a" stroke-width="0.5" />
<circle cx="132.85" cy="437.94" r="1.45" fill="#0a14f0" stroke="#00087a" stroke-width="0.5" />
<circle cx="130.51" cy="434.96" r="1.45" fill="#0a14f0" stroke="#00087a" stroke-width="0.5" />
<circle cx="134.33" cy="429.36" r="1.45" fill="#0a14f0" stroke="#00087a" stroke-width="0.5" />
<circle cx="134.15" cy="435.38" r="1.45" fill="#0a14f0" stroke="#00087a" stroke-width="0.5" />
<circle cx="136.33" cy="432.14" r="1.45" fill="#0a14f0" stroke="#00087a" stroke-width="0.5" />
<circle cx="136.68" cy="433.80" r="1.45" fill="#0a14f0" stroke="#00087a" stroke-width="0.5" />
<circle cx="133.30" cy="437.36" r="1.45" fill="#0a14f0" stroke="#00087a" stroke-width="0.5" />
<circle cx="134.25" cy="432.22" r="1.45" fill="#0a14f0" stroke="#00087a" stroke-width="0.5" />
<circle cx="135.86" cy="432.47" r="1.45" fill="#0a14f0" stroke="#00087a" stroke-width="0.5" />
<circle cx="133.23" cy="433.93" r="1.45" fill="#0a14f0" stroke="#00087a" stroke-width="0.5" />
<circle cx="135.24" cy="431.04" r="1.45" fill="#0a14f0" stroke="#00087a" stroke-width="0.5" />
<circle cx="132.96" cy="432.99" r="1.45" fill="#0a14f0" stroke="#00087a" stroke-width="0.5" />
<circle cx="133.77" cy="436.71" r="1.45" fill="#0a14f0" stroke="#00087a" stroke-width="0.5" />
<circle cx="131.99" cy="436.72" r="1.45" fill="#0a14f0" stroke="#00087a" stroke-width="0.5" />
<circle cx="132.75" cy="433.73" r="1.45" fill="#0a14f0" stroke="#00087a" stroke-width="0.5" />
<circle cx="131.85" cy="433.76" r="1.45" fill="#0a14f0" stroke="#00087a" stroke-width="0.5" />
<circle cx="133.40" cy="433.70" r="1.30" fill="#151515" stroke="none" stroke-width="0.5" />
<circle cx="124.19" cy="438.15" r="1.45" fill="#b01414" stroke="#500808" stroke-width="0.5" />
<circle cx="122.65" cy="434.91" r="1.45" fill="#b01414" stroke="#500808" stroke-width="0.5" />
<circle cx="118.66" cy="434.59" r="1.45" fill="#b01414" stroke="#500808" stroke-width="0.5" />
<circle cx="120.93" cy="437.95" r="1.45" fill="#b01414" stroke="#500808" stroke-width="0.5" />
<circle cx="122.07" cy="440.46" r="1.45" fill="#b01414" stroke="#500808" stroke-width="0.5" />
<circle cx="120.58" cy="432.10" r="1.45" fill="#b01414" stroke="#500808" stroke-width="0.5" />
<circle cx="121.11" cy="438.18" r="1.45" fill="#b01414" stroke="#500808" stroke-width="0.5" />
<circle cx="121.14" cy="437.77" r="1.45" fill="#b01414" stroke="#500808" stroke-width="0.5" />
<circle cx="121.27" cy="438.56" r="1.45" fill="#b01414" stroke="#500808" stroke-width="0.5" />
<circle cx="121.01" cy="438.41" r="1.45" fill="#b01414" stroke="#500808" stroke-width="0.5" />
<circle cx="117.79" cy="438.27" r="1.45" fill="#b01414" stroke="#500808" stroke-width="0.5" />
<circle cx="119.85" cy="439.23" r="1.45" fill="#b01414" stroke="#500808" stroke-width="0.5" />
<circle cx="123.68" cy="438.16" r="1.45" fill="#b01414" stroke="#500808" stroke-width="0.5" />
<circle cx="119.10" cy="439.83" r="1.45" fill="#b01414" stroke="#500808" stroke-width="0.5" />
<circle cx="122.61" cy="437.22" r="1.45" fill="#b01414" stroke="#500808" stroke-width="0.5" />
<circle cx="118.17" cy="434.62" r="1.45" fill="#b01414" stroke="#500808" stroke-width="0.5" />
<circle cx="119.54" cy="434.78" r="1.45" fill="#b01414" stroke="#500808" stroke-width="0.5" />
<circle cx="119.62" cy="438.02" r="1.45" fill="#b01414" stroke="#500808" stroke-width="0.5" />
<circle cx="120.77" cy="431.99" r="1.45" fill="#b01414" stroke="#500808" stroke-width="0.5" />
<circle cx="117.00" cy="439.70" r="1.45" fill="#b01414" stroke="#500808" stroke-width="0.5" />
<circle cx="120.20" cy="436.60" r="1.30" fill="#151515" stroke="none" stroke-width="0.5" />
<circle cx="116.49" cy="457.42" r="1.45" fill="#1c2a8a" stroke="#0a1040" stroke-width="0.5" />
<circle cx="122.10" cy="446.04" r="1.45" fill="#1c2a8a" stroke="#0a1040" stroke-width="0.5" />
<circle cx="117.73" cy="452.85" r="1.45" fill="#1c2a8a" stroke="#0a1040" stroke-width="0.5" />
<circle cx="119.48" cy="450.96" r="1.45" fill="#1c2a8a" stroke="#0a1040" stroke-width="0.5" />
<circle cx="115.78" cy="452.58" r="1.45" fill="#1c2a8a" stroke="#0a1040" stroke-width="0.5" />
<circle cx="119.84" cy="446.96" r="1.45" fill="#1c2a8a" stroke="#0a1040" stroke-width="0.5" />
<circle cx="122.67" cy="448.10" r="1.45" fill="#1c2a8a" stroke="#0a1040" stroke-width="0.5" />
<circle cx="115.94" cy="454.11" r="1.45" fill="#1c2a8a" stroke="#0a1040" stroke-width="0.5" />
<circle cx="119.02" cy="455.57" r="1.45" fill="#1c2a8a" stroke="#0a1040" stroke-width="0.5" />
<circle cx="119.36" cy="456.02" r="1.45" fill="#1c2a8a" stroke="#0a1040" stroke-width="0.5" />
<circle cx="115.80" cy="452.33" r="1.45" fill="#1c2a8a" stroke="#0a1040" stroke-width="0.5" />
<circle cx="120.44" cy="452.29" r="1.45" fill="#1c2a8a" stroke="#0a1040" stroke-width="0.5" />
<circle cx="123.12" cy="450.50" r="1.45" fill="#1c2a8a" stroke="#0a1040" stroke-width="0.5" />
<circle cx="117.61" cy="456.43" r="1.45" fill="#1c2a8a" stroke="#0a1040" stroke-width="0.5" />
<circle cx="117.99" cy="448.46" r="1.45" fill="#1c2a8a" stroke="#0a1040" stroke-width="0.5" />
<circle cx="122.61" cy="448.78" r="1.45" fill="#1c2a8a" stroke="#0a1040" stroke-width="0.5" />
<circle cx="121.10" cy="453.09" r="1.45" fill="#1c2a8a" stroke="#0a1040" stroke-width="0.5" />
<circle cx="117.49" cy="449.09" r="1.45" fill="#1c2a8a" stroke="#0a1040" stroke-width="0.5" />
<circle cx="119.84" cy="451.60" r="1.45" fill="#1c2a8a" stroke="#0a1040" stroke-width="0.5" />
<circle cx="122.47" cy="448.36" r="1.45" fill="#1c2a8a" stroke="#0a1040" stroke-width="0.5" />
<circle cx="121.61" cy="451.39" r="1.45" fill="#1c2a8a" stroke="#0a1040" stroke-width="0.5" />
<circle cx="118.90" cy="454.14" r="1.45" fill="#1c2a8a" stroke="#0a1040" stroke-width="0.5" />
<circle cx="119.00" cy="452.10" r="1.30" fill="#151515" stroke="none" stroke-width="0.5" />
<circle cx="100.60" cy="465.43" r="1.45" fill="#127a3a" stroke="#063a1a" stroke-width="0.5" />
<circle cx="99.98" cy="469.31" r="1.45" fill="#127a3a" stroke="#063a1a" stroke-width="0.5" />
<circle cx="103.89" cy="460.16" r="1.45" fill="#127a3a" stroke="#063a1a" stroke-width="0.5" />
<circle cx="102.91" cy="465.93" r="1.45" fill="#127a3a" stroke="#063a1a" stroke-width="0.5" />
<circle cx="94.45" cy="474.89" r="1.45" fill="#127a3a" stroke="#063a1a" stroke-width="0.5" />
<circle cx="99.77" cy="469.97" r="1.45" fill="#127a3a" stroke="#063a1a" stroke-width="0.5" />
<circle cx="99.65" cy="465.72" r="1.45" fill="#127a3a" stroke="#063a1a" stroke-width="0.5" />
<circle cx="102.63" cy="466.80" r="1.45" fill="#127a3a" stroke="#063a1a" stroke-width="0.5" />
<circle cx="99.17" cy="469.52" r="1.45" fill="#127a3a" stroke="#063a1a" stroke-width="0.5" />
<circle cx="99.54" cy="465.48" r="1.45" fill="#127a3a" stroke="#063a1a" stroke-width="0.5" />
<circle cx="96.26" cy="472.41" r="1.45" fill="#127a3a" stroke="#063a1a" stroke-width="0.5" />
<circle cx="97.32" cy="473.13" r="1.45" fill="#127a3a" stroke="#063a1a" stroke-width="0.5" />
<circle cx="100.26" cy="469.65" r="1.45" fill="#127a3a" stroke="#063a1a" stroke-width="0.5" />
<circle cx="94.57" cy="471.93" r="1.45" fill="#127a3a" stroke="#063a1a" stroke-width="0.5" />
<circle cx="98.70" cy="471.15" r="1.45" fill="#127a3a" stroke="#063a1a" stroke-width="0.5" />
<circle cx="103.09" cy="466.43" r="1.45" fill="#127a3a" stroke="#063a1a" stroke-width="0.5" />
<circle cx="97.27" cy="466.88" r="1.45" fill="#127a3a" stroke="#063a1a" stroke-width="0.5" />
<circle cx="104.32" cy="463.87" r="1.45" fill="#127a3a" stroke="#063a1a" stroke-width="0.5" />
<circle cx="95.58" cy="474.66" r="1.45" fill="#127a3a" stroke="#063a1a" stroke-width="0.5" />
<circle cx="97.26" cy="468.15" r="1.45" fill="#127a3a" stroke="#063a1a" stroke-width="0.5" />
<circle cx="100.73" cy="467.45" r="1.45" fill="#127a3a" stroke="#063a1a" stroke-width="0.5" />
<circle cx="101.27" cy="462.79" r="1.45" fill="#127a3a" stroke="#063a1a" stroke-width="0.5" />
<circle cx="97.22" cy="472.57" r="1.45" fill="#127a3a" stroke="#063a1a" stroke-width="0.5" />
<circle cx="104.26" cy="461.10" r="1.45" fill="#127a3a" stroke="#063a1a" stroke-width="0.5" />
<circle cx="97.67" cy="472.46" r="1.45" fill="#127a3a" stroke="#063a1a" stroke-width="0.5" />
<circle cx="97.57" cy="467.74" r="1.45" fill="#127a3a" stroke="#063a1a" stroke-width="0.5" />
<circle cx="99.60" cy="467.40" r="1.30" fill="#151515" stroke="none" stroke-width="0.5" />
<circle cx="154.10" cy="418.65" r="1.45" fill="#ffa030" stroke="#a06010" stroke-width="0.5" />
<circle cx="154.39" cy="416.81" r="1.45" fill="#ffa030" stroke="#a06010" stroke-width="0.5" />
<circle cx="152.65" cy="416.76" r="1.45" fill="#ffa030" stroke="#a06010" stroke-width="0.5" />
<circle cx="154.88" cy="417.92" r="1.45" fill="#ffa030" stroke="#a06010" stroke-width="0.5" />
<circle cx="154.28" cy="418.18" r="1.45" fill="#ffa030" stroke="#a06010" stroke-width="0.5" />
<circle cx="154.08" cy="416.55" r="1.45" fill="#ffa030" stroke="#a06010" stroke-width="0.5" />
<circle cx="153.45" cy="416.28" r="1.45" fill="#ffa030" stroke="#a06010" stroke-width="0.5" />
<circle cx="154.58" cy="420.64" r="1.45" fill="#ffa030" stroke="#a06010" stroke-width="0.5" />
<circle cx="152.49" cy="419.42" r="1.45" fill="#ffa030" stroke="#a06010" stroke-width="0.5" />
<circle cx="153.32" cy="418.92" r="1.45" fill="#ffa030" stroke="#a06010" stroke-width="0.5" />
<circle cx="154.00" cy="418.80" r="1.30" fill="#151515" stroke="none" stroke-width="0.5" />
<circle cx="155.13" cy="425.14" r="1.45" fill="#9418c8" stroke="#4a0a66" stroke-width="0.5" />
<circle cx="154.06" cy="426.83" r="1.45" fill="#9418c8" stroke="#4a0a66" stroke-width="0.5" />
<circle cx="154.84" cy="428.17" r="1.45" fill="#9418c8" stroke="#4a0a66" stroke-width="0.5" />
<circle cx="156.48" cy="427.15" r="1.45" fill="#9418c8" stroke="#4a0a66" stroke-width="0.5" />
<circle cx="153.04" cy="425.06" r="1.45" fill="#9418c8" stroke="#4a0a66" stroke-width="0.5" />
<circle cx="156.98" cy="424.27" r="1.45" fill="#9418c8" stroke="#4a0a66" stroke-width="0.5" />
<circle cx="153.11" cy="425.38" r="1.45" fill="#9418c8" stroke="#4a0a66" stroke-width="0.5" />
<circle cx="154.71" cy="421.56" r="1.45" fill="#9418c8" stroke="#4a0a66" stroke-width="0.5" />
<circle cx="155.51" cy="425.73" r="1.45" fill="#9418c8" stroke="#4a0a66" stroke-width="0.5" />
<circle cx="157.39" cy="425.96" r="1.45" fill="#9418c8" stroke="#4a0a66" stroke-width="0.5" />
<circle cx="154.69" cy="424.19" r="1.45" fill="#9418c8" stroke="#4a0a66" stroke-width="0.5" />
<circle cx="154.49" cy="427.82" r="1.45" fill="#9418c8" stroke="#4a0a66" stroke-width="0.5" />
<circle cx="155.20" cy="424.60" r="1.30" fill="#151515" stroke="none" stroke-width="0.5" />
<circle cx="167.29" cy="429.96" r="1.45" fill="#ff18ff" stroke="#a000a0" stroke-width="0.5" />
<circle cx="164.35" cy="430.74" r="1.45" fill="#ff18ff" stroke="#a000a0" stroke-width="0.5" />
<circle cx="168.48" cy="430.17" r="1.45" fill="#ff18ff" stroke="#a000a0" stroke-width="0.5" />
<circle cx="165.15" cy="429.56" r="1.45" fill="#ff18ff" stroke="#a000a0" stroke-width="0.5" />
<circle cx="167.54" cy="426.06" r="1.45" fill="#ff18ff" stroke="#a000a0" stroke-width="0.5" />
<circle cx="165.28" cy="427.15" r="1.45" fill="#ff18ff" stroke="#a000a0" stroke-width="0.5" />
<circle cx="164.25" cy="428.77" r="1.45" fill="#ff18ff" stroke="#a000a0" stroke-width="0.5" />
<circle cx="164.48" cy="427.02" r="1.45" fill="#ff18ff" stroke="#a000a0" stroke-width="0.5" />
<circle cx="164.34" cy="430.18" r="1.45" fill="#ff18ff" stroke="#a000a0" stroke-width="0.5" />
<circle cx="165.93" cy="426.00" r="1.45" fill="#ff18ff" stroke="#a000a0" stroke-width="0.5" />
<circle cx="166.87" cy="428.56" r="1.45" fill="#ff18ff" stroke="#a000a0" stroke-width="0.5" />
<circle cx="165.37" cy="431.23" r="1.45" fill="#ff18ff" stroke="#a000a0" stroke-width="0.5" />
<circle cx="166.08" cy="429.82" r="1.45" fill="#ff18ff" stroke="#a000a0" stroke-width="0.5" />
<circle cx="164.34" cy="426.90" r="1.45" fill="#ff18ff" stroke="#a000a0" stroke-width="0.5" />
<circle cx="166.20" cy="428.90" r="1.30" fill="#151515" stroke="none" stroke-width="0.5" />
<circle cx="154.63" cy="437.57" r="1.45" fill="#ffcc10" stroke="#a08000" stroke-width="0.5" />
<circle cx="158.41" cy="432.33" r="1.45" fill="#ffcc10" stroke="#a08000" stroke-width="0.5" />
<circle cx="160.82" cy="433.45" r="1.45" fill="#ffcc10" stroke="#a08000" stroke-width="0.5" />
<circle cx="157.33" cy="432.43" r="1.45" fill="#ffcc10" stroke="#a08000" stroke-width="0.5" />
<circle cx="156.26" cy="438.72" r="1.45" fill="#ffcc10" stroke="#a08000" stroke-width="0.5" />
<circle cx="156.74" cy="432.54" r="1.45" fill="#ffcc10" stroke="#a08000" stroke-width="0.5" />
<circle cx="157.93" cy="433.93" r="1.45" fill="#ffcc10" stroke="#a08000" stroke-width="0.5" />
<circle cx="161.00" cy="437.15" r="1.45" fill="#ffcc10" stroke="#a08000" stroke-width="0.5" />
<circle cx="155.80" cy="435.39" r="1.45" fill="#ffcc10" stroke="#a08000" stroke-width="0.5" />
<circle cx="156.38" cy="433.37" r="1.45" fill="#ffcc10" stroke="#a08000" stroke-width="0.5" />
<circle cx="155.73" cy="434.35" r="1.45" fill="#ffcc10" stroke="#a08000" stroke-width="0.5" />
<circle cx="156.40" cy="439.25" r="1.45" fill="#ffcc10" stroke="#a08000" stroke-width="0.5" />
<circle cx="154.64" cy="437.68" r="1.45" fill="#ffcc10" stroke="#a08000" stroke-width="0.5" />
<circle cx="156.79" cy="432.29" r="1.45" fill="#ffcc10" stroke="#a08000" stroke-width="0.5" />
<circle cx="158.20" cy="432.71" r="1.45" fill="#ffcc10" stroke="#a08000" stroke-width="0.5" />
<circle cx="157.51" cy="439.39" r="1.45" fill="#ffcc10" stroke="#a08000" stroke-width="0.5" />
<circle cx="155.86" cy="436.26" r="1.45" fill="#ffcc10" stroke="#a08000" stroke-width="0.5" />
<circle cx="155.25" cy="432.66" r="1.45" fill="#ffcc10" stroke="#a08000" stroke-width="0.5" />
<circle cx="158.00" cy="435.60" r="1.30" fill="#151515" stroke="none" stroke-width="0.5" />
<circle cx="159.36" cy="458.12" r="1.45" fill="#44cc44" stroke="#1a7a1a" stroke-width="0.5" />
<circle cx="153.90" cy="457.09" r="1.45" fill="#44cc44" stroke="#1a7a1a" stroke-width="0.5" />
<circle cx="157.16" cy="453.74" r="1.45" fill="#44cc44" stroke="#1a7a1a" stroke-width="0.5" />
<circle cx="154.85" cy="457.12" r="1.45" fill="#44cc44" stroke="#1a7a1a" stroke-width="0.5" />
<circle cx="158.86" cy="459.12" r="1.45" fill="#44cc44" stroke="#1a7a1a" stroke-width="0.5" />
<circle cx="157.86" cy="453.02" r="1.45" fill="#44cc44" stroke="#1a7a1a" stroke-width="0.5" />
<circle cx="153.73" cy="458.33" r="1.45" fill="#44cc44" stroke="#1a7a1a" stroke-width="0.5" />
<circle cx="156.46" cy="458.22" r="1.45" fill="#44cc44" stroke="#1a7a1a" stroke-width="0.5" />
<circle cx="155.88" cy="459.42" r="1.45" fill="#44cc44" stroke="#1a7a1a" stroke-width="0.5" />
<circle cx="160.12" cy="455.93" r="1.45" fill="#44cc44" stroke="#1a7a1a" stroke-width="0.5" />
<circle cx="157.01" cy="459.72" r="1.45" fill="#44cc44" stroke="#1a7a1a" stroke-width="0.5" />
<circle cx="155.33" cy="452.86" r="1.45" fill="#44cc44" stroke="#1a7a1a" stroke-width="0.5" />
<circle cx="159.85" cy="454.67" r="1.45" fill="#44cc44" stroke="#1a7a1a" stroke-width="0.5" />
<circle cx="154.51" cy="454.71" r="1.45" fill="#44cc44" stroke="#1a7a1a" stroke-width="0.5" />
<circle cx="157.36" cy="455.46" r="1.45" fill="#44cc44" stroke="#1a7a1a" stroke-width="0.5" />
<circle cx="157.33" cy="452.21" r="1.45" fill="#44cc44" stroke="#1a7a1a" stroke-width="0.5" />
<circle cx="158.92" cy="459.17" r="1.45" fill="#44cc44" stroke="#1a7a1a" stroke-width="0.5" />
<circle cx="160.12" cy="454.21" r="1.45" fill="#44cc44" stroke="#1a7a1a" stroke-width="0.5" />
<circle cx="157.20" cy="456.00" r="1.30" fill="#151515" stroke="none" stroke-width="0.5" />
<circle cx="154.10" cy="503.00" r="1.35" fill="#151515" stroke="none" stroke-width="0.5" />
<circle cx="165.90" cy="483.20" r="1.35" fill="#151515" stroke="none" stroke-width="0.5" />
<circle cx="176.80" cy="478.30" r="1.35" fill="#151515" stroke="none" stroke-width="0.5" />
<circle cx="188.80" cy="464.20" r="1.35" fill="#151515" stroke="none" stroke-width="0.5" />
<circle cx="194.10" cy="455.00" r="1.35" fill="#151515" stroke="none" stroke-width="0.5" />
<circle cx="197.60" cy="454.10" r="1.35" fill="#151515" stroke="none" stroke-width="0.5" />
<circle cx="202.60" cy="447.10" r="1.35" fill="#151515" stroke="none" stroke-width="0.5" />
<circle cx="204.70" cy="444.10" r="1.35" fill="#151515" stroke="none" stroke-width="0.5" />
<circle cx="207.30" cy="441.80" r="1.35" fill="#151515" stroke="none" stroke-width="0.5" />
<circle cx="210.00" cy="439.10" r="1.35" fill="#151515" stroke="none" stroke-width="0.5" />
<rect x="81.00" y="409.80" width="150.60" height="110.00" fill="none" stroke="#5a5a5a" stroke-width="1.1"/>
<line x1="81.40" y1="519.80" x2="81.40" y2="516.80" stroke="#5a5a5a" stroke-width="1" />
<line x1="81.40" y1="409.80" x2="81.40" y2="412.80" stroke="#5a5a5a" stroke-width="1" />
<line x1="102.77" y1="519.80" x2="102.77" y2="517.80" stroke="#5a5a5a" stroke-width="1" />
<line x1="102.77" y1="409.80" x2="102.77" y2="411.80" stroke="#5a5a5a" stroke-width="1" />
<line x1="124.15" y1="519.80" x2="124.15" y2="516.80" stroke="#5a5a5a" stroke-width="1" />
<line x1="124.15" y1="409.80" x2="124.15" y2="412.80" stroke="#5a5a5a" stroke-width="1" />
<line x1="145.53" y1="519.80" x2="145.53" y2="517.80" stroke="#5a5a5a" stroke-width="1" />
<line x1="145.53" y1="409.80" x2="145.53" y2="411.80" stroke="#5a5a5a" stroke-width="1" />
<line x1="166.90" y1="519.80" x2="166.90" y2="516.80" stroke="#5a5a5a" stroke-width="1" />
<line x1="166.90" y1="409.80" x2="166.90" y2="412.80" stroke="#5a5a5a" stroke-width="1" />
<line x1="188.28" y1="519.80" x2="188.28" y2="517.80" stroke="#5a5a5a" stroke-width="1" />
<line x1="188.28" y1="409.80" x2="188.28" y2="411.80" stroke="#5a5a5a" stroke-width="1" />
<line x1="209.65" y1="519.80" x2="209.65" y2="516.80" stroke="#5a5a5a" stroke-width="1" />
<line x1="209.65" y1="409.80" x2="209.65" y2="412.80" stroke="#5a5a5a" stroke-width="1" />
<line x1="231.03" y1="519.80" x2="231.03" y2="517.80" stroke="#5a5a5a" stroke-width="1" />
<line x1="231.03" y1="409.80" x2="231.03" y2="411.80" stroke="#5a5a5a" stroke-width="1" />
<line x1="81.00" y1="515.10" x2="83.00" y2="515.10" stroke="#5a5a5a" stroke-width="1" />
<line x1="231.60" y1="515.10" x2="229.60" y2="515.10" stroke="#5a5a5a" stroke-width="1" />
<line x1="81.00" y1="502.10" x2="84.00" y2="502.10" stroke="#5a5a5a" stroke-width="1" />
<line x1="231.60" y1="502.10" x2="228.60" y2="502.10" stroke="#5a5a5a" stroke-width="1" />
<line x1="81.00" y1="489.10" x2="83.00" y2="489.10" stroke="#5a5a5a" stroke-width="1" />
<line x1="231.60" y1="489.10" x2="229.60" y2="489.10" stroke="#5a5a5a" stroke-width="1" />
<line x1="81.00" y1="476.10" x2="84.00" y2="476.10" stroke="#5a5a5a" stroke-width="1" />
<line x1="231.60" y1="476.10" x2="228.60" y2="476.10" stroke="#5a5a5a" stroke-width="1" />
<line x1="81.00" y1="463.10" x2="83.00" y2="463.10" stroke="#5a5a5a" stroke-width="1" />
<line x1="231.60" y1="463.10" x2="229.60" y2="463.10" stroke="#5a5a5a" stroke-width="1" />
<line x1="81.00" y1="450.10" x2="84.00" y2="450.10" stroke="#5a5a5a" stroke-width="1" />
<line x1="231.60" y1="450.10" x2="228.60" y2="450.10" stroke="#5a5a5a" stroke-width="1" />
<line x1="81.00" y1="437.10" x2="83.00" y2="437.10" stroke="#5a5a5a" stroke-width="1" />
<line x1="231.60" y1="437.10" x2="229.60" y2="437.10" stroke="#5a5a5a" stroke-width="1" />
<line x1="81.00" y1="424.10" x2="84.00" y2="424.10" stroke="#5a5a5a" stroke-width="1" />
<line x1="231.60" y1="424.10" x2="228.60" y2="424.10" stroke="#5a5a5a" stroke-width="1" />
<text x="76.80" y="429.09" font-size="10.3" text-anchor="end" fill="#3a3a3a" stroke="#3a3a3a" stroke-width="0.3" >0.02</text>
<text x="76.80" y="455.09" font-size="10.3" text-anchor="end" fill="#3a3a3a" stroke="#3a3a3a" stroke-width="0.3" >0.00</text>
<text x="76.80" y="481.09" font-size="10.3" text-anchor="end" fill="#3a3a3a" stroke="#3a3a3a" stroke-width="0.3" >-0.02</text>
<text x="76.80" y="507.09" font-size="10.3" text-anchor="end" fill="#3a3a3a" stroke="#3a3a3a" stroke-width="0.3" >-0.04</text>
<text x="77.40" y="532.09" font-size="10.3" text-anchor="middle" fill="#3a3a3a" stroke="#3a3a3a" stroke-width="0.3" >-0.10</text>
<text x="120.15" y="532.09" font-size="10.3" text-anchor="middle" fill="#3a3a3a" stroke="#3a3a3a" stroke-width="0.3" >-0.05</text>
<text x="162.90" y="529.69" font-size="10.3" text-anchor="middle" fill="#3a3a3a" stroke="#3a3a3a" stroke-width="0.3" >0.00</text>
<text x="205.65" y="532.09" font-size="10.3" text-anchor="middle" fill="#3a3a3a" stroke="#3a3a3a" stroke-width="0.3" >0.05</text>
<text x="159.00" y="546.16" font-size="10.5" text-anchor="middle" fill="#3a3a3a" stroke="#3a3a3a" stroke-width="0.3" textLength="72.7" lengthAdjust="spacingAndGlyphs" >1st order scores</text>
<text x="49.40" y="461.80" font-size="10.5" text-anchor="middle" fill="#3a3a3a" stroke="#3a3a3a" stroke-width="0.3" textLength="75" lengthAdjust="spacingAndGlyphs" transform="rotate(-90 49.40 461.80)" >2nd order scores</text>
<text x="414.40" y="405.22" font-size="10.4" text-anchor="middle" fill="#3a3a3a" stroke="#3a3a3a" stroke-width="0.3" textLength="49" lengthAdjust="spacingAndGlyphs" >Right View</text>
<circle cx="344.35" cy="471.08" r="1.75" fill="#a2f0f0" stroke="none" stroke-width="0.3" />
<circle cx="342.97" cy="472.27" r="1.75" fill="#a2f0f0" stroke="none" stroke-width="0.3" />
<circle cx="343.20" cy="472.49" r="1.75" fill="#a2f0f0" stroke="none" stroke-width="0.3" />
<circle cx="341.23" cy="469.29" r="1.75" fill="#a2f0f0" stroke="none" stroke-width="0.3" />
<circle cx="345.46" cy="469.53" r="1.75" fill="#a2f0f0" stroke="none" stroke-width="0.3" />
<circle cx="345.42" cy="473.57" r="1.75" fill="#a2f0f0" stroke="none" stroke-width="0.3" />
<circle cx="348.64" cy="472.46" r="1.75" fill="#a2f0f0" stroke="none" stroke-width="0.3" />
<circle cx="348.15" cy="473.60" r="1.75" fill="#a2f0f0" stroke="none" stroke-width="0.3" />
<circle cx="350.59" cy="471.34" r="1.75" fill="#a2f0f0" stroke="none" stroke-width="0.3" />
<circle cx="353.00" cy="469.42" r="1.75" fill="#a2f0f0" stroke="none" stroke-width="0.3" />
<circle cx="350.58" cy="470.55" r="1.75" fill="#a2f0f0" stroke="none" stroke-width="0.3" />
<circle cx="350.68" cy="472.23" r="1.75" fill="#a2f0f0" stroke="none" stroke-width="0.3" />
<circle cx="358.47" cy="473.24" r="1.75" fill="#a2f0f0" stroke="none" stroke-width="0.3" />
<circle cx="355.85" cy="473.96" r="1.75" fill="#a2f0f0" stroke="none" stroke-width="0.3" />
<circle cx="360.80" cy="470.02" r="1.75" fill="#a2f0f0" stroke="none" stroke-width="0.3" />
<circle cx="357.49" cy="474.08" r="1.75" fill="#a2f0f0" stroke="none" stroke-width="0.3" />
<circle cx="363.16" cy="469.71" r="1.75" fill="#a2f0f0" stroke="none" stroke-width="0.3" />
<circle cx="361.97" cy="468.31" r="1.75" fill="#a2f0f0" stroke="none" stroke-width="0.3" />
<circle cx="361.94" cy="470.07" r="1.75" fill="#a2f0f0" stroke="none" stroke-width="0.3" />
<circle cx="363.11" cy="474.77" r="1.75" fill="#a2f0f0" stroke="none" stroke-width="0.3" />
<circle cx="367.50" cy="471.47" r="1.75" fill="#a2f0f0" stroke="none" stroke-width="0.3" />
<circle cx="367.13" cy="470.55" r="1.75" fill="#a2f0f0" stroke="none" stroke-width="0.3" />
<circle cx="365.24" cy="469.67" r="1.75" fill="#a2f0f0" stroke="none" stroke-width="0.3" />
<circle cx="368.03" cy="465.96" r="1.75" fill="#a2f0f0" stroke="none" stroke-width="0.3" />
<circle cx="373.85" cy="472.68" r="1.75" fill="#a2f0f0" stroke="none" stroke-width="0.3" />
<circle cx="370.02" cy="471.17" r="1.75" fill="#a2f0f0" stroke="none" stroke-width="0.3" />
<circle cx="371.50" cy="471.51" r="1.75" fill="#a2f0f0" stroke="none" stroke-width="0.3" />
<circle cx="371.55" cy="470.28" r="1.75" fill="#a2f0f0" stroke="none" stroke-width="0.3" />
<circle cx="380.72" cy="470.62" r="1.75" fill="#a2f0f0" stroke="none" stroke-width="0.3" />
<circle cx="376.40" cy="469.71" r="1.75" fill="#a2f0f0" stroke="none" stroke-width="0.3" />
<circle cx="377.58" cy="473.58" r="1.75" fill="#a2f0f0" stroke="none" stroke-width="0.3" />
<circle cx="376.64" cy="467.77" r="1.75" fill="#a2f0f0" stroke="none" stroke-width="0.3" />
<circle cx="383.94" cy="465.73" r="1.75" fill="#a2f0f0" stroke="none" stroke-width="0.3" />
<circle cx="383.60" cy="473.25" r="1.75" fill="#a2f0f0" stroke="none" stroke-width="0.3" />
<circle cx="383.09" cy="467.07" r="1.75" fill="#a2f0f0" stroke="none" stroke-width="0.3" />
<circle cx="382.79" cy="469.45" r="1.75" fill="#a2f0f0" stroke="none" stroke-width="0.3" />
<circle cx="385.64" cy="466.09" r="1.75" fill="#a2f0f0" stroke="none" stroke-width="0.3" />
<circle cx="387.40" cy="466.02" r="1.75" fill="#a2f0f0" stroke="none" stroke-width="0.3" />
<circle cx="386.36" cy="463.42" r="1.75" fill="#a2f0f0" stroke="none" stroke-width="0.3" />
<circle cx="388.30" cy="473.19" r="1.75" fill="#a2f0f0" stroke="none" stroke-width="0.3" />
<circle cx="388.70" cy="469.69" r="1.75" fill="#a2f0f0" stroke="none" stroke-width="0.3" />
<circle cx="388.96" cy="464.89" r="1.75" fill="#a2f0f0" stroke="none" stroke-width="0.3" />
<circle cx="389.35" cy="468.27" r="1.75" fill="#a2f0f0" stroke="none" stroke-width="0.3" />
<circle cx="388.31" cy="470.24" r="1.75" fill="#a2f0f0" stroke="none" stroke-width="0.3" />
<circle cx="392.80" cy="465.94" r="1.75" fill="#a2f0f0" stroke="none" stroke-width="0.3" />
<circle cx="391.35" cy="464.78" r="1.75" fill="#a2f0f0" stroke="none" stroke-width="0.3" />
<circle cx="393.08" cy="466.88" r="1.75" fill="#a2f0f0" stroke="none" stroke-width="0.3" />
<circle cx="393.55" cy="462.05" r="1.75" fill="#a2f0f0" stroke="none" stroke-width="0.3" />
<circle cx="392.06" cy="473.10" r="1.75" fill="#a2f0f0" stroke="none" stroke-width="0.3" />
<circle cx="391.33" cy="469.14" r="1.75" fill="#a2f0f0" stroke="none" stroke-width="0.3" />
<circle cx="392.95" cy="465.60" r="1.75" fill="#a2f0f0" stroke="none" stroke-width="0.3" />
<circle cx="394.74" cy="463.96" r="1.75" fill="#a2f0f0" stroke="none" stroke-width="0.3" />
<circle cx="397.62" cy="462.33" r="1.75" fill="#a2f0f0" stroke="none" stroke-width="0.3" />
<circle cx="397.28" cy="467.24" r="1.75" fill="#a2f0f0" stroke="none" stroke-width="0.3" />
<circle cx="399.51" cy="462.95" r="1.75" fill="#a2f0f0" stroke="none" stroke-width="0.3" />
<circle cx="399.53" cy="463.53" r="1.75" fill="#a2f0f0" stroke="none" stroke-width="0.3" />
<circle cx="396.96" cy="466.11" r="1.75" fill="#a2f0f0" stroke="none" stroke-width="0.3" />
<circle cx="399.12" cy="469.54" r="1.75" fill="#a2f0f0" stroke="none" stroke-width="0.3" />
<circle cx="400.24" cy="472.20" r="1.75" fill="#a2f0f0" stroke="none" stroke-width="0.3" />
<circle cx="398.11" cy="471.13" r="1.75" fill="#a2f0f0" stroke="none" stroke-width="0.3" />
<circle cx="404.56" cy="471.03" r="1.75" fill="#a2f0f0" stroke="none" stroke-width="0.3" />
<circle cx="402.84" cy="471.35" r="1.75" fill="#a2f0f0" stroke="none" stroke-width="0.3" />
<circle cx="404.33" cy="473.04" r="1.75" fill="#a2f0f0" stroke="none" stroke-width="0.3" />
<circle cx="403.55" cy="467.62" r="1.75" fill="#a2f0f0" stroke="none" stroke-width="0.3" />
<circle cx="405.96" cy="468.59" r="1.75" fill="#a2f0f0" stroke="none" stroke-width="0.3" />
<circle cx="402.47" cy="471.34" r="1.75" fill="#a2f0f0" stroke="none" stroke-width="0.3" />
<circle cx="405.39" cy="469.05" r="1.75" fill="#a2f0f0" stroke="none" stroke-width="0.3" />
<circle cx="402.23" cy="467.03" r="1.75" fill="#a2f0f0" stroke="none" stroke-width="0.3" />
<circle cx="407.73" cy="470.17" r="1.75" fill="#a2f0f0" stroke="none" stroke-width="0.3" />
<circle cx="406.67" cy="465.85" r="1.75" fill="#a2f0f0" stroke="none" stroke-width="0.3" />
<circle cx="408.35" cy="465.77" r="1.75" fill="#a2f0f0" stroke="none" stroke-width="0.3" />
<circle cx="406.86" cy="471.01" r="1.75" fill="#a2f0f0" stroke="none" stroke-width="0.3" />
<circle cx="410.24" cy="467.27" r="1.75" fill="#a2f0f0" stroke="none" stroke-width="0.3" />
<circle cx="407.64" cy="463.17" r="1.75" fill="#a2f0f0" stroke="none" stroke-width="0.3" />
<circle cx="406.75" cy="462.66" r="1.75" fill="#a2f0f0" stroke="none" stroke-width="0.3" />
<circle cx="408.48" cy="468.34" r="1.75" fill="#a2f0f0" stroke="none" stroke-width="0.3" />
<circle cx="406.87" cy="471.74" r="1.75" fill="#a2f0f0" stroke="none" stroke-width="0.3" />
<circle cx="406.11" cy="466.32" r="1.75" fill="#a2f0f0" stroke="none" stroke-width="0.3" />
<circle cx="405.10" cy="468.12" r="1.75" fill="#a2f0f0" stroke="none" stroke-width="0.3" />
<circle cx="407.98" cy="472.74" r="1.75" fill="#a2f0f0" stroke="none" stroke-width="0.3" />
<circle cx="409.75" cy="467.78" r="1.75" fill="#a2f0f0" stroke="none" stroke-width="0.3" />
<circle cx="416.19" cy="467.13" r="1.75" fill="#a2f0f0" stroke="none" stroke-width="0.3" />
<circle cx="413.11" cy="469.31" r="1.75" fill="#a2f0f0" stroke="none" stroke-width="0.3" />
<circle cx="412.29" cy="465.05" r="1.75" fill="#a2f0f0" stroke="none" stroke-width="0.3" />
<circle cx="413.61" cy="464.96" r="1.75" fill="#a2f0f0" stroke="none" stroke-width="0.3" />
<circle cx="415.87" cy="469.19" r="1.75" fill="#a2f0f0" stroke="none" stroke-width="0.3" />
<circle cx="413.16" cy="461.69" r="1.75" fill="#a2f0f0" stroke="none" stroke-width="0.3" />
<circle cx="412.20" cy="465.61" r="1.75" fill="#a2f0f0" stroke="none" stroke-width="0.3" />
<circle cx="413.39" cy="467.86" r="1.75" fill="#a2f0f0" stroke="none" stroke-width="0.3" />
<circle cx="412.91" cy="466.12" r="1.75" fill="#a2f0f0" stroke="none" stroke-width="0.3" />
<circle cx="412.00" cy="467.29" r="1.75" fill="#a2f0f0" stroke="none" stroke-width="0.3" />
<circle cx="415.02" cy="462.62" r="1.75" fill="#a2f0f0" stroke="none" stroke-width="0.3" />
<circle cx="415.09" cy="467.06" r="1.75" fill="#a2f0f0" stroke="none" stroke-width="0.3" />
<circle cx="414.22" cy="471.07" r="1.75" fill="#a2f0f0" stroke="none" stroke-width="0.3" />
<circle cx="417.49" cy="462.06" r="1.75" fill="#a2f0f0" stroke="none" stroke-width="0.3" />
<circle cx="416.66" cy="466.68" r="1.75" fill="#a2f0f0" stroke="none" stroke-width="0.3" />
<circle cx="418.03" cy="462.47" r="1.75" fill="#a2f0f0" stroke="none" stroke-width="0.3" />
<circle cx="415.97" cy="468.22" r="1.75" fill="#a2f0f0" stroke="none" stroke-width="0.3" />
<circle cx="418.66" cy="464.62" r="1.75" fill="#a2f0f0" stroke="none" stroke-width="0.3" />
<circle cx="415.07" cy="465.37" r="1.75" fill="#a2f0f0" stroke="none" stroke-width="0.3" />
<circle cx="419.84" cy="464.01" r="1.75" fill="#a2f0f0" stroke="none" stroke-width="0.3" />
<circle cx="416.75" cy="470.97" r="1.75" fill="#a2f0f0" stroke="none" stroke-width="0.3" />
<circle cx="418.55" cy="468.71" r="1.75" fill="#a2f0f0" stroke="none" stroke-width="0.3" />
<circle cx="416.06" cy="466.50" r="1.75" fill="#a2f0f0" stroke="none" stroke-width="0.3" />
<circle cx="418.34" cy="463.48" r="1.75" fill="#a2f0f0" stroke="none" stroke-width="0.3" />
<circle cx="418.94" cy="466.93" r="1.75" fill="#a2f0f0" stroke="none" stroke-width="0.3" />
<circle cx="417.43" cy="461.60" r="1.75" fill="#a2f0f0" stroke="none" stroke-width="0.3" />
<circle cx="420.80" cy="469.52" r="1.75" fill="#a2f0f0" stroke="none" stroke-width="0.3" />
<circle cx="420.89" cy="466.44" r="1.75" fill="#a2f0f0" stroke="none" stroke-width="0.3" />
<circle cx="425.07" cy="467.62" r="1.75" fill="#a2f0f0" stroke="none" stroke-width="0.3" />
<circle cx="421.87" cy="468.95" r="1.75" fill="#a2f0f0" stroke="none" stroke-width="0.3" />
<circle cx="422.06" cy="461.85" r="1.75" fill="#a2f0f0" stroke="none" stroke-width="0.3" />
<circle cx="421.51" cy="460.94" r="1.75" fill="#a2f0f0" stroke="none" stroke-width="0.3" />
<circle cx="425.58" cy="467.22" r="1.75" fill="#a2f0f0" stroke="none" stroke-width="0.3" />
<circle cx="422.03" cy="465.50" r="1.75" fill="#a2f0f0" stroke="none" stroke-width="0.3" />
<circle cx="422.27" cy="460.36" r="1.75" fill="#a2f0f0" stroke="none" stroke-width="0.3" />
<circle cx="425.50" cy="467.22" r="1.75" fill="#a2f0f0" stroke="none" stroke-width="0.3" />
<circle cx="425.94" cy="465.37" r="1.75" fill="#a2f0f0" stroke="none" stroke-width="0.3" />
<circle cx="423.77" cy="462.89" r="1.75" fill="#a2f0f0" stroke="none" stroke-width="0.3" />
<circle cx="425.27" cy="463.74" r="1.75" fill="#a2f0f0" stroke="none" stroke-width="0.3" />
<circle cx="426.74" cy="467.11" r="1.75" fill="#a2f0f0" stroke="none" stroke-width="0.3" />
<circle cx="430.94" cy="465.72" r="1.75" fill="#a2f0f0" stroke="none" stroke-width="0.3" />
<circle cx="427.29" cy="468.62" r="1.75" fill="#a2f0f0" stroke="none" stroke-width="0.3" />
<circle cx="426.22" cy="463.29" r="1.75" fill="#a2f0f0" stroke="none" stroke-width="0.3" />
<circle cx="430.40" cy="465.57" r="1.75" fill="#a2f0f0" stroke="none" stroke-width="0.3" />
<circle cx="429.87" cy="462.44" r="1.75" fill="#a2f0f0" stroke="none" stroke-width="0.3" />
<circle cx="425.91" cy="463.93" r="1.75" fill="#a2f0f0" stroke="none" stroke-width="0.3" />
<circle cx="426.66" cy="466.57" r="1.75" fill="#a2f0f0" stroke="none" stroke-width="0.3" />
<circle cx="425.54" cy="466.21" r="1.75" fill="#a2f0f0" stroke="none" stroke-width="0.3" />
<circle cx="427.27" cy="464.52" r="1.75" fill="#a2f0f0" stroke="none" stroke-width="0.3" />
<circle cx="430.09" cy="463.84" r="1.75" fill="#a2f0f0" stroke="none" stroke-width="0.3" />
<circle cx="426.37" cy="461.76" r="1.75" fill="#a2f0f0" stroke="none" stroke-width="0.3" />
<circle cx="426.61" cy="462.36" r="1.75" fill="#a2f0f0" stroke="none" stroke-width="0.3" />
<circle cx="430.02" cy="467.54" r="1.75" fill="#a2f0f0" stroke="none" stroke-width="0.3" />
<circle cx="431.99" cy="460.93" r="1.75" fill="#a2f0f0" stroke="none" stroke-width="0.3" />
<circle cx="434.32" cy="460.10" r="1.75" fill="#a2f0f0" stroke="none" stroke-width="0.3" />
<circle cx="431.53" cy="469.76" r="1.75" fill="#a2f0f0" stroke="none" stroke-width="0.3" />
<circle cx="430.62" cy="464.66" r="1.75" fill="#a2f0f0" stroke="none" stroke-width="0.3" />
<circle cx="435.15" cy="469.36" r="1.75" fill="#a2f0f0" stroke="none" stroke-width="0.3" />
<circle cx="430.82" cy="463.49" r="1.75" fill="#a2f0f0" stroke="none" stroke-width="0.3" />
<circle cx="434.42" cy="463.80" r="1.75" fill="#a2f0f0" stroke="none" stroke-width="0.3" />
<circle cx="435.89" cy="465.46" r="1.75" fill="#a2f0f0" stroke="none" stroke-width="0.3" />
<circle cx="431.25" cy="464.78" r="1.75" fill="#a2f0f0" stroke="none" stroke-width="0.3" />
<circle cx="430.64" cy="468.08" r="1.75" fill="#a2f0f0" stroke="none" stroke-width="0.3" />
<circle cx="431.47" cy="470.60" r="1.75" fill="#a2f0f0" stroke="none" stroke-width="0.3" />
<circle cx="433.56" cy="463.68" r="1.75" fill="#a2f0f0" stroke="none" stroke-width="0.3" />
<circle cx="436.38" cy="466.43" r="1.75" fill="#a2f0f0" stroke="none" stroke-width="0.3" />
<circle cx="436.16" cy="469.87" r="1.75" fill="#a2f0f0" stroke="none" stroke-width="0.3" />
<circle cx="435.59" cy="465.19" r="1.75" fill="#a2f0f0" stroke="none" stroke-width="0.3" />
<circle cx="438.27" cy="462.04" r="1.75" fill="#a2f0f0" stroke="none" stroke-width="0.3" />
<circle cx="439.74" cy="463.53" r="1.75" fill="#a2f0f0" stroke="none" stroke-width="0.3" />
<circle cx="439.01" cy="465.90" r="1.75" fill="#a2f0f0" stroke="none" stroke-width="0.3" />
<circle cx="436.79" cy="463.59" r="1.75" fill="#a2f0f0" stroke="none" stroke-width="0.3" />
<circle cx="440.25" cy="462.70" r="1.75" fill="#a2f0f0" stroke="none" stroke-width="0.3" />
<circle cx="439.04" cy="459.94" r="1.75" fill="#a2f0f0" stroke="none" stroke-width="0.3" />
<circle cx="438.40" cy="463.22" r="1.75" fill="#a2f0f0" stroke="none" stroke-width="0.3" />
<circle cx="438.00" cy="462.39" r="1.75" fill="#a2f0f0" stroke="none" stroke-width="0.3" />
<circle cx="435.22" cy="462.57" r="1.75" fill="#a2f0f0" stroke="none" stroke-width="0.3" />
<circle cx="436.25" cy="460.16" r="1.75" fill="#a2f0f0" stroke="none" stroke-width="0.3" />
<circle cx="444.39" cy="461.82" r="1.75" fill="#a2f0f0" stroke="none" stroke-width="0.3" />
<circle cx="442.38" cy="469.97" r="1.75" fill="#a2f0f0" stroke="none" stroke-width="0.3" />
<circle cx="444.76" cy="469.63" r="1.75" fill="#a2f0f0" stroke="none" stroke-width="0.3" />
<circle cx="444.15" cy="466.78" r="1.75" fill="#a2f0f0" stroke="none" stroke-width="0.3" />
<circle cx="442.05" cy="463.51" r="1.75" fill="#a2f0f0" stroke="none" stroke-width="0.3" />
<circle cx="444.02" cy="467.24" r="1.75" fill="#a2f0f0" stroke="none" stroke-width="0.3" />
<circle cx="441.39" cy="469.16" r="1.75" fill="#a2f0f0" stroke="none" stroke-width="0.3" />
<circle cx="442.05" cy="466.32" r="1.75" fill="#a2f0f0" stroke="none" stroke-width="0.3" />
<circle cx="440.96" cy="459.65" r="1.75" fill="#a2f0f0" stroke="none" stroke-width="0.3" />
<circle cx="445.64" cy="467.69" r="1.75" fill="#a2f0f0" stroke="none" stroke-width="0.3" />
<circle cx="441.07" cy="462.09" r="1.75" fill="#a2f0f0" stroke="none" stroke-width="0.3" />
<circle cx="442.24" cy="458.66" r="1.75" fill="#a2f0f0" stroke="none" stroke-width="0.3" />
<circle cx="441.79" cy="466.45" r="1.75" fill="#a2f0f0" stroke="none" stroke-width="0.3" />
<circle cx="445.95" cy="468.69" r="1.75" fill="#a2f0f0" stroke="none" stroke-width="0.3" />
<circle cx="448.45" cy="467.09" r="1.75" fill="#a2f0f0" stroke="none" stroke-width="0.3" />
<circle cx="446.43" cy="463.43" r="1.75" fill="#a2f0f0" stroke="none" stroke-width="0.3" />
<circle cx="449.18" cy="462.31" r="1.75" fill="#a2f0f0" stroke="none" stroke-width="0.3" />
<circle cx="449.77" cy="461.50" r="1.75" fill="#a2f0f0" stroke="none" stroke-width="0.3" />
<circle cx="448.69" cy="458.39" r="1.75" fill="#a2f0f0" stroke="none" stroke-width="0.3" />
<circle cx="446.36" cy="459.22" r="1.75" fill="#a2f0f0" stroke="none" stroke-width="0.3" />
<circle cx="449.87" cy="460.51" r="1.75" fill="#a2f0f0" stroke="none" stroke-width="0.3" />
<circle cx="450.65" cy="467.52" r="1.75" fill="#a2f0f0" stroke="none" stroke-width="0.3" />
<circle cx="445.35" cy="466.81" r="1.75" fill="#a2f0f0" stroke="none" stroke-width="0.3" />
<circle cx="447.32" cy="467.49" r="1.75" fill="#a2f0f0" stroke="none" stroke-width="0.3" />
<circle cx="450.10" cy="461.43" r="1.75" fill="#a2f0f0" stroke="none" stroke-width="0.3" />
<circle cx="447.51" cy="469.87" r="1.75" fill="#a2f0f0" stroke="none" stroke-width="0.3" />
<circle cx="454.23" cy="467.00" r="1.75" fill="#a2f0f0" stroke="none" stroke-width="0.3" />
<circle cx="455.11" cy="465.57" r="1.75" fill="#a2f0f0" stroke="none" stroke-width="0.3" />
<circle cx="452.70" cy="458.11" r="1.75" fill="#a2f0f0" stroke="none" stroke-width="0.3" />
<circle cx="454.27" cy="462.97" r="1.75" fill="#a2f0f0" stroke="none" stroke-width="0.3" />
<circle cx="453.08" cy="469.47" r="1.75" fill="#a2f0f0" stroke="none" stroke-width="0.3" />
<circle cx="450.62" cy="467.30" r="1.75" fill="#a2f0f0" stroke="none" stroke-width="0.3" />
<circle cx="450.08" cy="466.54" r="1.75" fill="#a2f0f0" stroke="none" stroke-width="0.3" />
<circle cx="454.96" cy="460.80" r="1.75" fill="#a2f0f0" stroke="none" stroke-width="0.3" />
<circle cx="453.30" cy="470.00" r="1.75" fill="#a2f0f0" stroke="none" stroke-width="0.3" />
<circle cx="453.88" cy="464.47" r="1.75" fill="#a2f0f0" stroke="none" stroke-width="0.3" />
<circle cx="452.09" cy="462.75" r="1.75" fill="#a2f0f0" stroke="none" stroke-width="0.3" />
<circle cx="451.09" cy="461.44" r="1.75" fill="#a2f0f0" stroke="none" stroke-width="0.3" />
<circle cx="450.67" cy="466.59" r="1.75" fill="#a2f0f0" stroke="none" stroke-width="0.3" />
<circle cx="433.42" cy="425.65" r="1.45" fill="#1c2a8a" stroke="#0a1040" stroke-width="0.5" />
<circle cx="426.73" cy="429.23" r="1.45" fill="#1c2a8a" stroke="#0a1040" stroke-width="0.5" />
<circle cx="430.77" cy="431.63" r="1.45" fill="#1c2a8a" stroke="#0a1040" stroke-width="0.5" />
<circle cx="428.21" cy="427.23" r="1.45" fill="#1c2a8a" stroke="#0a1040" stroke-width="0.5" />
<circle cx="431.79" cy="426.74" r="1.45" fill="#1c2a8a" stroke="#0a1040" stroke-width="0.5" />
<circle cx="436.32" cy="427.44" r="1.45" fill="#1c2a8a" stroke="#0a1040" stroke-width="0.5" />
<circle cx="434.81" cy="424.82" r="1.45" fill="#1c2a8a" stroke="#0a1040" stroke-width="0.5" />
<circle cx="433.93" cy="428.34" r="1.45" fill="#1c2a8a" stroke="#0a1040" stroke-width="0.5" />
<circle cx="430.78" cy="430.32" r="1.45" fill="#1c2a8a" stroke="#0a1040" stroke-width="0.5" />
<circle cx="427.28" cy="427.91" r="1.45" fill="#1c2a8a" stroke="#0a1040" stroke-width="0.5" />
<circle cx="426.88" cy="426.72" r="1.45" fill="#1c2a8a" stroke="#0a1040" stroke-width="0.5" />
<circle cx="434.27" cy="427.10" r="1.45" fill="#1c2a8a" stroke="#0a1040" stroke-width="0.5" />
<circle cx="424.29" cy="428.26" r="1.45" fill="#1c2a8a" stroke="#0a1040" stroke-width="0.5" />
<circle cx="430.26" cy="427.29" r="1.45" fill="#1c2a8a" stroke="#0a1040" stroke-width="0.5" />
<circle cx="434.51" cy="424.22" r="1.45" fill="#1c2a8a" stroke="#0a1040" stroke-width="0.5" />
<circle cx="431.44" cy="425.07" r="1.45" fill="#1c2a8a" stroke="#0a1040" stroke-width="0.5" />
<circle cx="430.71" cy="427.75" r="1.45" fill="#1c2a8a" stroke="#0a1040" stroke-width="0.5" />
<circle cx="425.91" cy="429.62" r="1.45" fill="#1c2a8a" stroke="#0a1040" stroke-width="0.5" />
<circle cx="433.60" cy="428.64" r="1.45" fill="#1c2a8a" stroke="#0a1040" stroke-width="0.5" />
<circle cx="438.48" cy="427.80" r="1.45" fill="#1c2a8a" stroke="#0a1040" stroke-width="0.5" />
<circle cx="426.46" cy="427.19" r="1.45" fill="#1c2a8a" stroke="#0a1040" stroke-width="0.5" />
<circle cx="436.10" cy="429.75" r="1.45" fill="#1c2a8a" stroke="#0a1040" stroke-width="0.5" />
<circle cx="427.12" cy="426.58" r="1.45" fill="#1c2a8a" stroke="#0a1040" stroke-width="0.5" />
<circle cx="433.84" cy="430.28" r="1.45" fill="#1c2a8a" stroke="#0a1040" stroke-width="0.5" />
<circle cx="431.00" cy="428.20" r="1.30" fill="#151515" stroke="none" stroke-width="0.5" />
<circle cx="459.97" cy="445.69" r="1.45" fill="#0a14f0" stroke="#00087a" stroke-width="0.5" />
<circle cx="459.52" cy="438.84" r="1.45" fill="#0a14f0" stroke="#00087a" stroke-width="0.5" />
<circle cx="453.49" cy="445.62" r="1.45" fill="#0a14f0" stroke="#00087a" stroke-width="0.5" />
<circle cx="454.96" cy="439.41" r="1.45" fill="#0a14f0" stroke="#00087a" stroke-width="0.5" />
<circle cx="457.45" cy="439.42" r="1.45" fill="#0a14f0" stroke="#00087a" stroke-width="0.5" />
<circle cx="460.48" cy="437.66" r="1.45" fill="#0a14f0" stroke="#00087a" stroke-width="0.5" />
<circle cx="451.95" cy="442.11" r="1.45" fill="#0a14f0" stroke="#00087a" stroke-width="0.5" />
<circle cx="458.28" cy="445.55" r="1.45" fill="#0a14f0" stroke="#00087a" stroke-width="0.5" />
<circle cx="459.12" cy="446.71" r="1.45" fill="#0a14f0" stroke="#00087a" stroke-width="0.5" />
<circle cx="461.71" cy="441.12" r="1.45" fill="#0a14f0" stroke="#00087a" stroke-width="0.5" />
<circle cx="456.89" cy="436.54" r="1.45" fill="#0a14f0" stroke="#00087a" stroke-width="0.5" />
<circle cx="454.74" cy="442.30" r="1.45" fill="#0a14f0" stroke="#00087a" stroke-width="0.5" />
<circle cx="452.37" cy="443.76" r="1.45" fill="#0a14f0" stroke="#00087a" stroke-width="0.5" />
<circle cx="453.27" cy="440.43" r="1.45" fill="#0a14f0" stroke="#00087a" stroke-width="0.5" />
<circle cx="451.93" cy="440.38" r="1.45" fill="#0a14f0" stroke="#00087a" stroke-width="0.5" />
<circle cx="453.56" cy="444.23" r="1.45" fill="#0a14f0" stroke="#00087a" stroke-width="0.5" />
<circle cx="460.74" cy="445.10" r="1.45" fill="#0a14f0" stroke="#00087a" stroke-width="0.5" />
<circle cx="456.09" cy="438.25" r="1.45" fill="#0a14f0" stroke="#00087a" stroke-width="0.5" />
<circle cx="458.65" cy="441.40" r="1.45" fill="#0a14f0" stroke="#00087a" stroke-width="0.5" />
<circle cx="456.05" cy="439.01" r="1.45" fill="#0a14f0" stroke="#00087a" stroke-width="0.5" />
<circle cx="456.24" cy="443.46" r="1.45" fill="#0a14f0" stroke="#00087a" stroke-width="0.5" />
<circle cx="453.28" cy="438.42" r="1.45" fill="#0a14f0" stroke="#00087a" stroke-width="0.5" />
<circle cx="456.90" cy="441.20" r="1.30" fill="#151515" stroke="none" stroke-width="0.5" />
<circle cx="469.37" cy="449.53" r="1.45" fill="#9418c8" stroke="#4a0a66" stroke-width="0.5" />
<circle cx="468.33" cy="446.44" r="1.45" fill="#9418c8" stroke="#4a0a66" stroke-width="0.5" />
<circle cx="465.44" cy="447.52" r="1.45" fill="#9418c8" stroke="#4a0a66" stroke-width="0.5" />
<circle cx="469.57" cy="452.96" r="1.45" fill="#9418c8" stroke="#4a0a66" stroke-width="0.5" />
<circle cx="471.32" cy="451.61" r="1.45" fill="#9418c8" stroke="#4a0a66" stroke-width="0.5" />
<circle cx="465.16" cy="450.48" r="1.45" fill="#9418c8" stroke="#4a0a66" stroke-width="0.5" />
<circle cx="471.20" cy="447.30" r="1.45" fill="#9418c8" stroke="#4a0a66" stroke-width="0.5" />
<circle cx="470.78" cy="452.80" r="1.45" fill="#9418c8" stroke="#4a0a66" stroke-width="0.5" />
<circle cx="469.79" cy="450.24" r="1.45" fill="#9418c8" stroke="#4a0a66" stroke-width="0.5" />
<circle cx="467.79" cy="447.68" r="1.45" fill="#9418c8" stroke="#4a0a66" stroke-width="0.5" />
<circle cx="466.58" cy="450.50" r="1.45" fill="#9418c8" stroke="#4a0a66" stroke-width="0.5" />
<circle cx="469.42" cy="445.52" r="1.45" fill="#9418c8" stroke="#4a0a66" stroke-width="0.5" />
<circle cx="471.77" cy="447.92" r="1.45" fill="#9418c8" stroke="#4a0a66" stroke-width="0.5" />
<circle cx="470.89" cy="448.30" r="1.45" fill="#9418c8" stroke="#4a0a66" stroke-width="0.5" />
<circle cx="470.33" cy="449.54" r="1.45" fill="#9418c8" stroke="#4a0a66" stroke-width="0.5" />
<circle cx="468.86" cy="445.76" r="1.45" fill="#9418c8" stroke="#4a0a66" stroke-width="0.5" />
<circle cx="470.53" cy="445.74" r="1.45" fill="#9418c8" stroke="#4a0a66" stroke-width="0.5" />
<circle cx="473.98" cy="446.93" r="1.45" fill="#9418c8" stroke="#4a0a66" stroke-width="0.5" />
<circle cx="465.54" cy="449.26" r="1.45" fill="#9418c8" stroke="#4a0a66" stroke-width="0.5" />
<circle cx="467.27" cy="448.91" r="1.45" fill="#9418c8" stroke="#4a0a66" stroke-width="0.5" />
<circle cx="470.00" cy="449.00" r="1.30" fill="#151515" stroke="none" stroke-width="0.5" />
<circle cx="462.29" cy="454.54" r="1.45" fill="#ff18ff" stroke="#a000a0" stroke-width="0.5" />
<circle cx="462.45" cy="453.52" r="1.45" fill="#ff18ff" stroke="#a000a0" stroke-width="0.5" />
<circle cx="461.92" cy="457.80" r="1.45" fill="#ff18ff" stroke="#a000a0" stroke-width="0.5" />
<circle cx="458.02" cy="456.17" r="1.45" fill="#ff18ff" stroke="#a000a0" stroke-width="0.5" />
<circle cx="457.96" cy="456.46" r="1.45" fill="#ff18ff" stroke="#a000a0" stroke-width="0.5" />
<circle cx="465.07" cy="457.46" r="1.45" fill="#ff18ff" stroke="#a000a0" stroke-width="0.5" />
<circle cx="463.73" cy="459.31" r="1.45" fill="#ff18ff" stroke="#a000a0" stroke-width="0.5" />
<circle cx="463.79" cy="453.42" r="1.45" fill="#ff18ff" stroke="#a000a0" stroke-width="0.5" />
<circle cx="464.77" cy="456.03" r="1.45" fill="#ff18ff" stroke="#a000a0" stroke-width="0.5" />
<circle cx="462.37" cy="459.47" r="1.45" fill="#ff18ff" stroke="#a000a0" stroke-width="0.5" />
<circle cx="458.53" cy="459.49" r="1.45" fill="#ff18ff" stroke="#a000a0" stroke-width="0.5" />
<circle cx="462.65" cy="454.42" r="1.45" fill="#ff18ff" stroke="#a000a0" stroke-width="0.5" />
<circle cx="460.00" cy="458.87" r="1.45" fill="#ff18ff" stroke="#a000a0" stroke-width="0.5" />
<circle cx="461.13" cy="460.50" r="1.45" fill="#ff18ff" stroke="#a000a0" stroke-width="0.5" />
<circle cx="462.89" cy="460.35" r="1.45" fill="#ff18ff" stroke="#a000a0" stroke-width="0.5" />
<circle cx="462.37" cy="460.76" r="1.45" fill="#ff18ff" stroke="#a000a0" stroke-width="0.5" />
<circle cx="465.14" cy="454.01" r="1.45" fill="#ff18ff" stroke="#a000a0" stroke-width="0.5" />
<circle cx="464.01" cy="455.57" r="1.45" fill="#ff18ff" stroke="#a000a0" stroke-width="0.5" />
<circle cx="461.80" cy="457.00" r="1.30" fill="#151515" stroke="none" stroke-width="0.5" />
<circle cx="458.16" cy="475.74" r="1.45" fill="#ffcc10" stroke="#a08000" stroke-width="0.5" />
<circle cx="458.91" cy="471.28" r="1.45" fill="#ffcc10" stroke="#a08000" stroke-width="0.5" />
<circle cx="453.48" cy="476.20" r="1.45" fill="#ffcc10" stroke="#a08000" stroke-width="0.5" />
<circle cx="460.38" cy="476.07" r="1.45" fill="#ffcc10" stroke="#a08000" stroke-width="0.5" />
<circle cx="449.52" cy="475.13" r="1.45" fill="#ffcc10" stroke="#a08000" stroke-width="0.5" />
<circle cx="450.20" cy="474.69" r="1.45" fill="#ffcc10" stroke="#a08000" stroke-width="0.5" />
<circle cx="458.64" cy="471.20" r="1.45" fill="#ffcc10" stroke="#a08000" stroke-width="0.5" />
<circle cx="460.10" cy="475.70" r="1.45" fill="#ffcc10" stroke="#a08000" stroke-width="0.5" />
<circle cx="452.06" cy="471.85" r="1.45" fill="#ffcc10" stroke="#a08000" stroke-width="0.5" />
<circle cx="454.36" cy="477.01" r="1.45" fill="#ffcc10" stroke="#a08000" stroke-width="0.5" />
<circle cx="455.98" cy="471.21" r="1.45" fill="#ffcc10" stroke="#a08000" stroke-width="0.5" />
<circle cx="458.61" cy="471.78" r="1.45" fill="#ffcc10" stroke="#a08000" stroke-width="0.5" />
<circle cx="455.65" cy="472.62" r="1.45" fill="#ffcc10" stroke="#a08000" stroke-width="0.5" />
<circle cx="457.25" cy="473.35" r="1.45" fill="#ffcc10" stroke="#a08000" stroke-width="0.5" />
<circle cx="455.46" cy="475.82" r="1.45" fill="#ffcc10" stroke="#a08000" stroke-width="0.5" />
<circle cx="450.81" cy="474.31" r="1.45" fill="#ffcc10" stroke="#a08000" stroke-width="0.5" />
<circle cx="459.48" cy="476.70" r="1.45" fill="#ffcc10" stroke="#a08000" stroke-width="0.5" />
<circle cx="458.82" cy="475.74" r="1.45" fill="#ffcc10" stroke="#a08000" stroke-width="0.5" />
<circle cx="455.00" cy="474.30" r="1.30" fill="#151515" stroke="none" stroke-width="0.5" />
<circle cx="473.63" cy="477.03" r="1.45" fill="#ffa030" stroke="#a06010" stroke-width="0.5" />
<circle cx="471.52" cy="479.68" r="1.45" fill="#ffa030" stroke="#a06010" stroke-width="0.5" />
<circle cx="473.64" cy="479.89" r="1.45" fill="#ffa030" stroke="#a06010" stroke-width="0.5" />
<circle cx="475.60" cy="474.15" r="1.45" fill="#ffa030" stroke="#a06010" stroke-width="0.5" />
<circle cx="473.06" cy="475.16" r="1.45" fill="#ffa030" stroke="#a06010" stroke-width="0.5" />
<circle cx="478.15" cy="477.84" r="1.45" fill="#ffa030" stroke="#a06010" stroke-width="0.5" />
<circle cx="473.35" cy="476.97" r="1.45" fill="#ffa030" stroke="#a06010" stroke-width="0.5" />
<circle cx="475.29" cy="476.39" r="1.45" fill="#ffa030" stroke="#a06010" stroke-width="0.5" />
<circle cx="475.31" cy="476.00" r="1.45" fill="#ffa030" stroke="#a06010" stroke-width="0.5" />
<circle cx="470.28" cy="476.91" r="1.45" fill="#ffa030" stroke="#a06010" stroke-width="0.5" />
<circle cx="471.41" cy="478.43" r="1.45" fill="#ffa030" stroke="#a06010" stroke-width="0.5" />
<circle cx="472.55" cy="475.57" r="1.45" fill="#ffa030" stroke="#a06010" stroke-width="0.5" />
<circle cx="474.60" cy="475.49" r="1.45" fill="#ffa030" stroke="#a06010" stroke-width="0.5" />
<circle cx="475.22" cy="477.40" r="1.45" fill="#ffa030" stroke="#a06010" stroke-width="0.5" />
<circle cx="470.41" cy="477.64" r="1.45" fill="#ffa030" stroke="#a06010" stroke-width="0.5" />
<circle cx="477.04" cy="479.88" r="1.45" fill="#ffa030" stroke="#a06010" stroke-width="0.5" />
<circle cx="474.82" cy="486.84" r="1.45" fill="#ff1414" stroke="#900000" stroke-width="0.5" />
<circle cx="473.54" cy="483.71" r="1.45" fill="#ff1414" stroke="#900000" stroke-width="0.5" />
<circle cx="470.29" cy="488.73" r="1.45" fill="#ff1414" stroke="#900000" stroke-width="0.5" />
<circle cx="473.97" cy="483.03" r="1.45" fill="#ff1414" stroke="#900000" stroke-width="0.5" />
<circle cx="474.72" cy="488.08" r="1.45" fill="#ff1414" stroke="#900000" stroke-width="0.5" />
<circle cx="472.38" cy="486.87" r="1.45" fill="#ff1414" stroke="#900000" stroke-width="0.5" />
<circle cx="470.92" cy="485.89" r="1.45" fill="#ff1414" stroke="#900000" stroke-width="0.5" />
<circle cx="471.43" cy="480.20" r="1.45" fill="#ff1414" stroke="#900000" stroke-width="0.5" />
<circle cx="470.80" cy="483.25" r="1.45" fill="#ff1414" stroke="#900000" stroke-width="0.5" />
<circle cx="476.79" cy="485.09" r="1.45" fill="#ff1414" stroke="#900000" stroke-width="0.5" />
<circle cx="471.08" cy="482.32" r="1.45" fill="#ff1414" stroke="#900000" stroke-width="0.5" />
<circle cx="469.86" cy="483.55" r="1.45" fill="#ff1414" stroke="#900000" stroke-width="0.5" />
<circle cx="475.71" cy="484.76" r="1.45" fill="#ff1414" stroke="#900000" stroke-width="0.5" />
<circle cx="471.80" cy="486.10" r="1.45" fill="#ff1414" stroke="#900000" stroke-width="0.5" />
<circle cx="470.48" cy="481.46" r="1.45" fill="#ff1414" stroke="#900000" stroke-width="0.5" />
<circle cx="468.31" cy="483.00" r="1.45" fill="#ff1414" stroke="#900000" stroke-width="0.5" />
<circle cx="470.54" cy="487.93" r="1.45" fill="#ff1414" stroke="#900000" stroke-width="0.5" />
<circle cx="472.77" cy="490.37" r="1.45" fill="#ff1414" stroke="#900000" stroke-width="0.5" />
<circle cx="470.83" cy="490.19" r="1.45" fill="#ff1414" stroke="#900000" stroke-width="0.5" />
<circle cx="473.07" cy="480.43" r="1.45" fill="#ff1414" stroke="#900000" stroke-width="0.5" />
<circle cx="469.34" cy="486.23" r="1.45" fill="#ff1414" stroke="#900000" stroke-width="0.5" />
<circle cx="474.82" cy="484.47" r="1.45" fill="#ff1414" stroke="#900000" stroke-width="0.5" />
<circle cx="472.30" cy="485.30" r="1.30" fill="#151515" stroke="none" stroke-width="0.5" />
<circle cx="475.10" cy="479.10" r="1.30" fill="#151515" stroke="none" stroke-width="0.5" />
<circle cx="452.44" cy="504.88" r="1.45" fill="#b01414" stroke="#500808" stroke-width="0.5" />
<circle cx="450.65" cy="496.74" r="1.45" fill="#b01414" stroke="#500808" stroke-width="0.5" />
<circle cx="449.60" cy="502.00" r="1.45" fill="#b01414" stroke="#500808" stroke-width="0.5" />
<circle cx="449.49" cy="498.27" r="1.45" fill="#b01414" stroke="#500808" stroke-width="0.5" />
<circle cx="448.80" cy="500.63" r="1.45" fill="#b01414" stroke="#500808" stroke-width="0.5" />
<circle cx="458.64" cy="502.91" r="1.45" fill="#b01414" stroke="#500808" stroke-width="0.5" />
<circle cx="448.47" cy="502.16" r="1.45" fill="#b01414" stroke="#500808" stroke-width="0.5" />
<circle cx="460.22" cy="502.62" r="1.45" fill="#b01414" stroke="#500808" stroke-width="0.5" />
<circle cx="459.45" cy="499.31" r="1.45" fill="#b01414" stroke="#500808" stroke-width="0.5" />
<circle cx="448.71" cy="495.56" r="1.45" fill="#b01414" stroke="#500808" stroke-width="0.5" />
<circle cx="453.27" cy="504.73" r="1.45" fill="#b01414" stroke="#500808" stroke-width="0.5" />
<circle cx="454.71" cy="505.57" r="1.45" fill="#b01414" stroke="#500808" stroke-width="0.5" />
<circle cx="449.55" cy="497.39" r="1.45" fill="#b01414" stroke="#500808" stroke-width="0.5" />
<circle cx="456.92" cy="502.62" r="1.45" fill="#b01414" stroke="#500808" stroke-width="0.5" />
<circle cx="451.71" cy="502.07" r="1.45" fill="#b01414" stroke="#500808" stroke-width="0.5" />
<circle cx="451.99" cy="494.54" r="1.45" fill="#b01414" stroke="#500808" stroke-width="0.5" />
<circle cx="453.16" cy="494.60" r="1.45" fill="#b01414" stroke="#500808" stroke-width="0.5" />
<circle cx="455.74" cy="498.58" r="1.45" fill="#b01414" stroke="#500808" stroke-width="0.5" />
<circle cx="453.21" cy="501.34" r="1.45" fill="#b01414" stroke="#500808" stroke-width="0.5" />
<circle cx="449.94" cy="499.13" r="1.45" fill="#b01414" stroke="#500808" stroke-width="0.5" />
<circle cx="453.44" cy="506.13" r="1.45" fill="#b01414" stroke="#500808" stroke-width="0.5" />
<circle cx="446.62" cy="500.37" r="1.45" fill="#b01414" stroke="#500808" stroke-width="0.5" />
<circle cx="457.21" cy="498.77" r="1.45" fill="#b01414" stroke="#500808" stroke-width="0.5" />
<circle cx="447.59" cy="502.41" r="1.45" fill="#b01414" stroke="#500808" stroke-width="0.5" />
<circle cx="452.27" cy="500.45" r="1.45" fill="#b01414" stroke="#500808" stroke-width="0.5" />
<circle cx="454.71" cy="501.08" r="1.45" fill="#b01414" stroke="#500808" stroke-width="0.5" />
<circle cx="453.50" cy="500.20" r="1.30" fill="#151515" stroke="none" stroke-width="0.5" />
<circle cx="414.02" cy="468.61" r="1.45" fill="#127a3a" stroke="#063a1a" stroke-width="0.5" />
<circle cx="408.79" cy="469.73" r="1.45" fill="#127a3a" stroke="#063a1a" stroke-width="0.5" />
<circle cx="407.63" cy="469.49" r="1.45" fill="#127a3a" stroke="#063a1a" stroke-width="0.5" />
<circle cx="415.71" cy="470.01" r="1.45" fill="#127a3a" stroke="#063a1a" stroke-width="0.5" />
<circle cx="408.45" cy="469.98" r="1.45" fill="#127a3a" stroke="#063a1a" stroke-width="0.5" />
<circle cx="419.14" cy="467.43" r="1.45" fill="#127a3a" stroke="#063a1a" stroke-width="0.5" />
<circle cx="407.95" cy="467.99" r="1.45" fill="#127a3a" stroke="#063a1a" stroke-width="0.5" />
<circle cx="403.64" cy="467.61" r="1.45" fill="#127a3a" stroke="#063a1a" stroke-width="0.5" />
<circle cx="413.99" cy="469.99" r="1.45" fill="#127a3a" stroke="#063a1a" stroke-width="0.5" />
<circle cx="407.15" cy="469.85" r="1.45" fill="#127a3a" stroke="#063a1a" stroke-width="0.5" />
<circle cx="411.53" cy="468.24" r="1.45" fill="#127a3a" stroke="#063a1a" stroke-width="0.5" />
<circle cx="409.35" cy="464.99" r="1.45" fill="#127a3a" stroke="#063a1a" stroke-width="0.5" />
<circle cx="406.34" cy="469.70" r="1.45" fill="#127a3a" stroke="#063a1a" stroke-width="0.5" />
<circle cx="411.48" cy="468.89" r="1.45" fill="#127a3a" stroke="#063a1a" stroke-width="0.5" />
<circle cx="409.01" cy="470.20" r="1.45" fill="#127a3a" stroke="#063a1a" stroke-width="0.5" />
<circle cx="410.86" cy="466.39" r="1.45" fill="#127a3a" stroke="#063a1a" stroke-width="0.5" />
<circle cx="415.23" cy="464.32" r="1.45" fill="#127a3a" stroke="#063a1a" stroke-width="0.5" />
<circle cx="413.83" cy="467.01" r="1.45" fill="#127a3a" stroke="#063a1a" stroke-width="0.5" />
<circle cx="412.53" cy="467.08" r="1.45" fill="#127a3a" stroke="#063a1a" stroke-width="0.5" />
<circle cx="413.53" cy="465.59" r="1.45" fill="#127a3a" stroke="#063a1a" stroke-width="0.5" />
<circle cx="407.53" cy="465.90" r="1.45" fill="#127a3a" stroke="#063a1a" stroke-width="0.5" />
<circle cx="410.44" cy="465.65" r="1.45" fill="#127a3a" stroke="#063a1a" stroke-width="0.5" />
<circle cx="406.75" cy="469.87" r="1.45" fill="#127a3a" stroke="#063a1a" stroke-width="0.5" />
<circle cx="413.78" cy="466.19" r="1.45" fill="#127a3a" stroke="#063a1a" stroke-width="0.5" />
<circle cx="412.61" cy="465.05" r="1.45" fill="#127a3a" stroke="#063a1a" stroke-width="0.5" />
<circle cx="407.78" cy="469.81" r="1.45" fill="#127a3a" stroke="#063a1a" stroke-width="0.5" />
<circle cx="411.50" cy="467.80" r="1.30" fill="#151515" stroke="none" stroke-width="0.5" />
<circle cx="420.00" cy="459.20" r="1.45" fill="#127a3a" stroke="#063a1a" stroke-width="0.5" />
<circle cx="424.11" cy="471.72" r="1.45" fill="#44cc44" stroke="#1a7a1a" stroke-width="0.5" />
<circle cx="421.66" cy="472.45" r="1.45" fill="#44cc44" stroke="#1a7a1a" stroke-width="0.5" />
<circle cx="423.41" cy="472.85" r="1.45" fill="#44cc44" stroke="#1a7a1a" stroke-width="0.5" />
<circle cx="422.27" cy="472.79" r="1.45" fill="#44cc44" stroke="#1a7a1a" stroke-width="0.5" />
<circle cx="424.41" cy="471.46" r="1.45" fill="#44cc44" stroke="#1a7a1a" stroke-width="0.5" />
<circle cx="424.42" cy="472.00" r="1.45" fill="#44cc44" stroke="#1a7a1a" stroke-width="0.5" />
<circle cx="362.00" cy="469.50" r="1.35" fill="#151515" stroke="none" stroke-width="0.5" />
<circle cx="389.50" cy="472.20" r="1.35" fill="#151515" stroke="none" stroke-width="0.5" />
<circle cx="396.40" cy="466.70" r="1.35" fill="#151515" stroke="none" stroke-width="0.5" />
<circle cx="399.40" cy="469.50" r="1.35" fill="#151515" stroke="none" stroke-width="0.5" />
<circle cx="426.20" cy="468.30" r="1.35" fill="#151515" stroke="none" stroke-width="0.5" />
<circle cx="429.10" cy="464.90" r="1.35" fill="#151515" stroke="none" stroke-width="0.5" />
<circle cx="438.80" cy="463.30" r="1.35" fill="#151515" stroke="none" stroke-width="0.5" />
<circle cx="442.90" cy="466.50" r="1.35" fill="#151515" stroke="none" stroke-width="0.5" />
<circle cx="446.10" cy="464.20" r="1.35" fill="#151515" stroke="none" stroke-width="0.5" />
<circle cx="449.70" cy="464.90" r="1.35" fill="#151515" stroke="none" stroke-width="0.5" />
<rect x="339.20" y="410.80" width="149.40" height="109.60" fill="none" stroke="#5a5a5a" stroke-width="1.1"/>
<line x1="350.05" y1="520.40" x2="350.05" y2="518.40" stroke="#5a5a5a" stroke-width="1" />
<line x1="350.05" y1="410.80" x2="350.05" y2="412.80" stroke="#5a5a5a" stroke-width="1" />
<line x1="367.20" y1="520.40" x2="367.20" y2="517.40" stroke="#5a5a5a" stroke-width="1" />
<line x1="367.20" y1="410.80" x2="367.20" y2="413.80" stroke="#5a5a5a" stroke-width="1" />
<line x1="384.35" y1="520.40" x2="384.35" y2="518.40" stroke="#5a5a5a" stroke-width="1" />
<line x1="384.35" y1="410.80" x2="384.35" y2="412.80" stroke="#5a5a5a" stroke-width="1" />
<line x1="401.50" y1="520.40" x2="401.50" y2="517.40" stroke="#5a5a5a" stroke-width="1" />
<line x1="401.50" y1="410.80" x2="401.50" y2="413.80" stroke="#5a5a5a" stroke-width="1" />
<line x1="418.65" y1="520.40" x2="418.65" y2="518.40" stroke="#5a5a5a" stroke-width="1" />
<line x1="418.65" y1="410.80" x2="418.65" y2="412.80" stroke="#5a5a5a" stroke-width="1" />
<line x1="435.80" y1="520.40" x2="435.80" y2="517.40" stroke="#5a5a5a" stroke-width="1" />
<line x1="435.80" y1="410.80" x2="435.80" y2="413.80" stroke="#5a5a5a" stroke-width="1" />
<line x1="452.95" y1="520.40" x2="452.95" y2="518.40" stroke="#5a5a5a" stroke-width="1" />
<line x1="452.95" y1="410.80" x2="452.95" y2="412.80" stroke="#5a5a5a" stroke-width="1" />
<line x1="470.10" y1="520.40" x2="470.10" y2="517.40" stroke="#5a5a5a" stroke-width="1" />
<line x1="470.10" y1="410.80" x2="470.10" y2="413.80" stroke="#5a5a5a" stroke-width="1" />
<line x1="487.25" y1="520.40" x2="487.25" y2="518.40" stroke="#5a5a5a" stroke-width="1" />
<line x1="487.25" y1="410.80" x2="487.25" y2="412.80" stroke="#5a5a5a" stroke-width="1" />
<line x1="339.20" y1="520.15" x2="341.20" y2="520.15" stroke="#5a5a5a" stroke-width="1" />
<line x1="488.60" y1="520.15" x2="486.60" y2="520.15" stroke="#5a5a5a" stroke-width="1" />
<line x1="339.20" y1="502.00" x2="342.20" y2="502.00" stroke="#5a5a5a" stroke-width="1" />
<line x1="488.60" y1="502.00" x2="485.60" y2="502.00" stroke="#5a5a5a" stroke-width="1" />
<line x1="339.20" y1="483.85" x2="341.20" y2="483.85" stroke="#5a5a5a" stroke-width="1" />
<line x1="488.60" y1="483.85" x2="486.60" y2="483.85" stroke="#5a5a5a" stroke-width="1" />
<line x1="339.20" y1="465.70" x2="342.20" y2="465.70" stroke="#5a5a5a" stroke-width="1" />
<line x1="488.60" y1="465.70" x2="485.60" y2="465.70" stroke="#5a5a5a" stroke-width="1" />
<line x1="339.20" y1="447.55" x2="341.20" y2="447.55" stroke="#5a5a5a" stroke-width="1" />
<line x1="488.60" y1="447.55" x2="486.60" y2="447.55" stroke="#5a5a5a" stroke-width="1" />
<line x1="339.20" y1="429.40" x2="342.20" y2="429.40" stroke="#5a5a5a" stroke-width="1" />
<line x1="488.60" y1="429.40" x2="485.60" y2="429.40" stroke="#5a5a5a" stroke-width="1" />
<text x="337.40" y="434.39" font-size="10.3" text-anchor="end" fill="#3a3a3a" stroke="#3a3a3a" stroke-width="0.3" >0.02</text>
<text x="337.40" y="470.69" font-size="10.3" text-anchor="end" fill="#3a3a3a" stroke="#3a3a3a" stroke-width="0.3" >0.00</text>
<text x="337.40" y="506.99" font-size="10.3" text-anchor="end" fill="#3a3a3a" stroke="#3a3a3a" stroke-width="0.3" >-0.02</text>
<text x="365.20" y="532.29" font-size="10.3" text-anchor="middle" fill="#3a3a3a" stroke="#3a3a3a" stroke-width="0.3" >-0.04</text>
<text x="399.50" y="532.29" font-size="10.3" text-anchor="middle" fill="#3a3a3a" stroke="#3a3a3a" stroke-width="0.3" >-0.02</text>
<text x="435.80" y="532.29" font-size="10.3" text-anchor="middle" fill="#3a3a3a" stroke="#3a3a3a" stroke-width="0.3" >0.00</text>
<text x="470.10" y="532.29" font-size="10.3" text-anchor="middle" fill="#3a3a3a" stroke="#3a3a3a" stroke-width="0.3" >0.02</text>
<text x="417.50" y="545.96" font-size="10.5" text-anchor="middle" fill="#3a3a3a" stroke="#3a3a3a" stroke-width="0.3" textLength="76.3" lengthAdjust="spacingAndGlyphs" >2nd order scores</text>
<text x="312.30" y="463.00" font-size="10.5" text-anchor="middle" fill="#3a3a3a" stroke="#3a3a3a" stroke-width="0.3" textLength="75" lengthAdjust="spacingAndGlyphs" transform="rotate(-90 312.30 463.00)" >3rd order scores</text>
<line x1="319.54" y1="197.28" x2="321.35" y2="318.95" stroke="#f4f4f4" stroke-width="0.5" />
<line x1="314.59" y1="203.55" x2="425.30" y2="187.41" stroke="#f4f4f4" stroke-width="0.5" />
<line x1="428.92" y1="183.11" x2="428.82" y2="298.12" stroke="#f4f4f4" stroke-width="0.5" />
<line x1="425.30" y1="187.41" x2="504.80" y2="207.91" stroke="#f4f4f4" stroke-width="0.5" />
<line x1="321.35" y1="318.95" x2="394.74" y2="352.43" stroke="#f4f4f4" stroke-width="0.5" />
<line x1="428.82" y1="298.12" x2="319.73" y2="321.53" stroke="#f4f4f4" stroke-width="0.5" />
<line x1="324.57" y1="196.56" x2="326.30" y2="317.89" stroke="#f4f4f4" stroke-width="0.5" />
<line x1="314.67" y1="209.09" x2="425.30" y2="192.62" stroke="#f4f4f4" stroke-width="0.5" />
<line x1="432.54" y1="184.03" x2="432.34" y2="299.44" stroke="#f4f4f4" stroke-width="0.5" />
<line x1="425.30" y1="192.62" x2="504.70" y2="213.53" stroke="#f4f4f4" stroke-width="0.5" />
<line x1="326.30" y1="317.89" x2="399.88" y2="351.16" stroke="#f4f4f4" stroke-width="0.5" />
<line x1="432.34" y1="299.44" x2="323.05" y2="323.06" stroke="#f4f4f4" stroke-width="0.5" />
<line x1="329.61" y1="195.85" x2="331.25" y2="316.84" stroke="#f4f4f4" stroke-width="0.5" />
<line x1="314.76" y1="214.64" x2="425.30" y2="197.83" stroke="#f4f4f4" stroke-width="0.5" />
<line x1="436.15" y1="184.94" x2="435.85" y2="300.75" stroke="#f4f4f4" stroke-width="0.5" />
<line x1="425.30" y1="197.83" x2="504.60" y2="219.14" stroke="#f4f4f4" stroke-width="0.5" />
<line x1="331.25" y1="316.84" x2="405.02" y2="349.90" stroke="#f4f4f4" stroke-width="0.5" />
<line x1="435.85" y1="300.75" x2="326.38" y2="324.60" stroke="#f4f4f4" stroke-width="0.5" />
<line x1="334.65" y1="195.13" x2="336.20" y2="315.78" stroke="#f4f4f4" stroke-width="0.5" />
<line x1="314.85" y1="220.18" x2="425.30" y2="203.04" stroke="#f4f4f4" stroke-width="0.5" />
<line x1="439.77" y1="185.85" x2="439.37" y2="302.07" stroke="#f4f4f4" stroke-width="0.5" />
<line x1="425.30" y1="203.04" x2="504.50" y2="224.75" stroke="#f4f4f4" stroke-width="0.5" />
<line x1="336.20" y1="315.78" x2="410.16" y2="348.63" stroke="#f4f4f4" stroke-width="0.5" />
<line x1="439.37" y1="302.07" x2="329.71" y2="326.13" stroke="#f4f4f4" stroke-width="0.5" />
<line x1="339.68" y1="194.41" x2="341.15" y2="314.73" stroke="#f4f4f4" stroke-width="0.5" />
<line x1="314.93" y1="225.73" x2="425.30" y2="208.25" stroke="#f4f4f4" stroke-width="0.5" />
<line x1="443.39" y1="186.77" x2="442.89" y2="303.39" stroke="#f4f4f4" stroke-width="0.5" />
<line x1="425.30" y1="208.25" x2="504.40" y2="230.37" stroke="#f4f4f4" stroke-width="0.5" />
<line x1="341.15" y1="314.73" x2="415.30" y2="347.36" stroke="#f4f4f4" stroke-width="0.5" />
<line x1="442.89" y1="303.39" x2="333.04" y2="327.66" stroke="#f4f4f4" stroke-width="0.5" />
<line x1="344.72" y1="193.69" x2="346.10" y2="313.67" stroke="#f4f4f4" stroke-width="0.5" />
<line x1="315.02" y1="231.27" x2="425.30" y2="213.45" stroke="#f4f4f4" stroke-width="0.5" />
<line x1="447.01" y1="187.68" x2="446.41" y2="304.71" stroke="#f4f4f4" stroke-width="0.5" />
<line x1="425.30" y1="213.45" x2="504.30" y2="235.98" stroke="#f4f4f4" stroke-width="0.5" />
<line x1="346.10" y1="313.67" x2="420.45" y2="346.09" stroke="#f4f4f4" stroke-width="0.5" />
<line x1="446.41" y1="304.71" x2="336.36" y2="329.19" stroke="#f4f4f4" stroke-width="0.5" />
<line x1="349.75" y1="192.97" x2="351.05" y2="312.62" stroke="#f4f4f4" stroke-width="0.5" />
<line x1="315.10" y1="236.82" x2="425.30" y2="218.66" stroke="#f4f4f4" stroke-width="0.5" />
<line x1="450.63" y1="188.60" x2="449.93" y2="306.03" stroke="#f4f4f4" stroke-width="0.5" />
<line x1="425.30" y1="218.66" x2="504.20" y2="241.60" stroke="#f4f4f4" stroke-width="0.5" />
<line x1="351.05" y1="312.62" x2="425.59" y2="344.82" stroke="#f4f4f4" stroke-width="0.5" />
<line x1="449.93" y1="306.03" x2="339.69" y2="330.72" stroke="#f4f4f4" stroke-width="0.5" />
<line x1="354.79" y1="192.25" x2="356.00" y2="311.56" stroke="#f4f4f4" stroke-width="0.5" />
<line x1="315.19" y1="242.36" x2="425.30" y2="223.87" stroke="#f4f4f4" stroke-width="0.5" />
<line x1="454.25" y1="189.51" x2="453.45" y2="307.35" stroke="#f4f4f4" stroke-width="0.5" />
<line x1="425.30" y1="223.87" x2="504.10" y2="247.21" stroke="#f4f4f4" stroke-width="0.5" />
<line x1="356.00" y1="311.56" x2="430.73" y2="343.55" stroke="#f4f4f4" stroke-width="0.5" />
<line x1="453.45" y1="307.35" x2="343.02" y2="332.25" stroke="#f4f4f4" stroke-width="0.5" />
<line x1="359.83" y1="191.54" x2="360.95" y2="310.51" stroke="#f4f4f4" stroke-width="0.5" />
<line x1="315.28" y1="247.91" x2="425.30" y2="229.08" stroke="#f4f4f4" stroke-width="0.5" />
<line x1="457.86" y1="190.42" x2="456.96" y2="308.66" stroke="#f4f4f4" stroke-width="0.5" />
<line x1="425.30" y1="229.08" x2="504.00" y2="252.82" stroke="#f4f4f4" stroke-width="0.5" />
<line x1="360.95" y1="310.51" x2="435.87" y2="342.29" stroke="#f4f4f4" stroke-width="0.5" />
<line x1="456.96" y1="308.66" x2="346.35" y2="333.79" stroke="#f4f4f4" stroke-width="0.5" />
<line x1="364.86" y1="190.82" x2="365.90" y2="309.45" stroke="#f4f4f4" stroke-width="0.5" />
<line x1="315.36" y1="253.45" x2="425.30" y2="234.29" stroke="#f4f4f4" stroke-width="0.5" />
<line x1="461.48" y1="191.34" x2="460.48" y2="309.98" stroke="#f4f4f4" stroke-width="0.5" />
<line x1="425.30" y1="234.29" x2="503.90" y2="258.44" stroke="#f4f4f4" stroke-width="0.5" />
<line x1="365.90" y1="309.45" x2="441.01" y2="341.02" stroke="#f4f4f4" stroke-width="0.5" />
<line x1="460.48" y1="309.98" x2="349.67" y2="335.32" stroke="#f4f4f4" stroke-width="0.5" />
<line x1="369.90" y1="190.10" x2="370.85" y2="308.40" stroke="#f4f4f4" stroke-width="0.5" />
<line x1="315.45" y1="259.00" x2="425.30" y2="239.50" stroke="#f4f4f4" stroke-width="0.5" />
<line x1="465.10" y1="192.25" x2="464.00" y2="311.30" stroke="#f4f4f4" stroke-width="0.5" />
<line x1="425.30" y1="239.50" x2="503.80" y2="264.05" stroke="#f4f4f4" stroke-width="0.5" />
<line x1="370.85" y1="308.40" x2="446.15" y2="339.75" stroke="#f4f4f4" stroke-width="0.5" />
<line x1="464.00" y1="311.30" x2="353.00" y2="336.85" stroke="#f4f4f4" stroke-width="0.5" />
<line x1="374.94" y1="189.38" x2="375.80" y2="307.35" stroke="#f4f4f4" stroke-width="0.5" />
<line x1="315.54" y1="264.55" x2="425.30" y2="244.71" stroke="#f4f4f4" stroke-width="0.5" />
<line x1="468.72" y1="193.16" x2="467.52" y2="312.62" stroke="#f4f4f4" stroke-width="0.5" />
<line x1="425.30" y1="244.71" x2="503.70" y2="269.66" stroke="#f4f4f4" stroke-width="0.5" />
<line x1="375.80" y1="307.35" x2="451.29" y2="338.48" stroke="#f4f4f4" stroke-width="0.5" />
<line x1="467.52" y1="312.62" x2="356.33" y2="338.38" stroke="#f4f4f4" stroke-width="0.5" />
<line x1="379.97" y1="188.66" x2="380.75" y2="306.29" stroke="#f4f4f4" stroke-width="0.5" />
<line x1="315.62" y1="270.09" x2="425.30" y2="249.92" stroke="#f4f4f4" stroke-width="0.5" />
<line x1="472.34" y1="194.08" x2="471.04" y2="313.94" stroke="#f4f4f4" stroke-width="0.5" />
<line x1="425.30" y1="249.92" x2="503.60" y2="275.28" stroke="#f4f4f4" stroke-width="0.5" />
<line x1="380.75" y1="306.29" x2="456.43" y2="337.21" stroke="#f4f4f4" stroke-width="0.5" />
<line x1="471.04" y1="313.94" x2="359.65" y2="339.91" stroke="#f4f4f4" stroke-width="0.5" />
<line x1="385.01" y1="187.95" x2="385.70" y2="305.24" stroke="#f4f4f4" stroke-width="0.5" />
<line x1="315.71" y1="275.64" x2="425.30" y2="255.13" stroke="#f4f4f4" stroke-width="0.5" />
<line x1="475.95" y1="194.99" x2="474.55" y2="315.25" stroke="#f4f4f4" stroke-width="0.5" />
<line x1="425.30" y1="255.13" x2="503.50" y2="280.89" stroke="#f4f4f4" stroke-width="0.5" />
<line x1="385.70" y1="305.24" x2="461.57" y2="335.95" stroke="#f4f4f4" stroke-width="0.5" />
<line x1="474.55" y1="315.25" x2="362.98" y2="341.45" stroke="#f4f4f4" stroke-width="0.5" />
<line x1="390.05" y1="187.23" x2="390.65" y2="304.18" stroke="#f4f4f4" stroke-width="0.5" />
<line x1="315.80" y1="281.18" x2="425.30" y2="260.34" stroke="#f4f4f4" stroke-width="0.5" />
<line x1="479.57" y1="195.90" x2="478.07" y2="316.57" stroke="#f4f4f4" stroke-width="0.5" />
<line x1="425.30" y1="260.34" x2="503.40" y2="286.50" stroke="#f4f4f4" stroke-width="0.5" />
<line x1="390.65" y1="304.18" x2="466.71" y2="334.68" stroke="#f4f4f4" stroke-width="0.5" />
<line x1="478.07" y1="316.57" x2="366.31" y2="342.98" stroke="#f4f4f4" stroke-width="0.5" />
<line x1="395.08" y1="186.51" x2="395.60" y2="303.13" stroke="#f4f4f4" stroke-width="0.5" />
<line x1="315.88" y1="286.73" x2="425.30" y2="265.55" stroke="#f4f4f4" stroke-width="0.5" />
<line x1="483.19" y1="196.82" x2="481.59" y2="317.89" stroke="#f4f4f4" stroke-width="0.5" />
<line x1="425.30" y1="265.55" x2="503.30" y2="292.12" stroke="#f4f4f4" stroke-width="0.5" />
<line x1="395.60" y1="303.13" x2="471.85" y2="333.41" stroke="#f4f4f4" stroke-width="0.5" />
<line x1="481.59" y1="317.89" x2="369.64" y2="344.51" stroke="#f4f4f4" stroke-width="0.5" />
<line x1="400.12" y1="185.79" x2="400.55" y2="302.07" stroke="#f4f4f4" stroke-width="0.5" />
<line x1="315.97" y1="292.27" x2="425.30" y2="270.75" stroke="#f4f4f4" stroke-width="0.5" />
<line x1="486.81" y1="197.73" x2="485.11" y2="319.21" stroke="#f4f4f4" stroke-width="0.5" />
<line x1="425.30" y1="270.75" x2="503.20" y2="297.73" stroke="#f4f4f4" stroke-width="0.5" />
<line x1="400.55" y1="302.07" x2="477.00" y2="332.14" stroke="#f4f4f4" stroke-width="0.5" />
<line x1="485.11" y1="319.21" x2="372.96" y2="346.04" stroke="#f4f4f4" stroke-width="0.5" />
<line x1="405.15" y1="185.07" x2="405.50" y2="301.02" stroke="#f4f4f4" stroke-width="0.5" />
<line x1="316.05" y1="297.82" x2="425.30" y2="275.96" stroke="#f4f4f4" stroke-width="0.5" />
<line x1="490.43" y1="198.65" x2="488.63" y2="320.53" stroke="#f4f4f4" stroke-width="0.5" />
<line x1="425.30" y1="275.96" x2="503.10" y2="303.35" stroke="#f4f4f4" stroke-width="0.5" />
<line x1="405.50" y1="301.02" x2="482.14" y2="330.87" stroke="#f4f4f4" stroke-width="0.5" />
<line x1="488.63" y1="320.53" x2="376.29" y2="347.57" stroke="#f4f4f4" stroke-width="0.5" />
<line x1="410.19" y1="184.35" x2="410.45" y2="299.96" stroke="#f4f4f4" stroke-width="0.5" />
<line x1="316.14" y1="303.36" x2="425.30" y2="281.17" stroke="#f4f4f4" stroke-width="0.5" />
<line x1="494.05" y1="199.56" x2="492.15" y2="321.85" stroke="#f4f4f4" stroke-width="0.5" />
<line x1="425.30" y1="281.17" x2="503.00" y2="308.96" stroke="#f4f4f4" stroke-width="0.5" />
<line x1="410.45" y1="299.96" x2="487.28" y2="329.60" stroke="#f4f4f4" stroke-width="0.5" />
<line x1="492.15" y1="321.85" x2="379.62" y2="349.10" stroke="#f4f4f4" stroke-width="0.5" />
<line x1="415.23" y1="183.64" x2="415.40" y2="298.91" stroke="#f4f4f4" stroke-width="0.5" />
<line x1="316.23" y1="308.91" x2="425.30" y2="286.38" stroke="#f4f4f4" stroke-width="0.5" />
<line x1="497.66" y1="200.47" x2="495.66" y2="323.16" stroke="#f4f4f4" stroke-width="0.5" />
<line x1="425.30" y1="286.38" x2="502.90" y2="314.57" stroke="#f4f4f4" stroke-width="0.5" />
<line x1="415.40" y1="298.91" x2="492.42" y2="328.34" stroke="#f4f4f4" stroke-width="0.5" />
<line x1="495.66" y1="323.16" x2="382.95" y2="350.64" stroke="#f4f4f4" stroke-width="0.5" />
<line x1="420.26" y1="182.92" x2="420.35" y2="297.85" stroke="#f4f4f4" stroke-width="0.5" />
<line x1="316.31" y1="314.45" x2="425.30" y2="291.59" stroke="#f4f4f4" stroke-width="0.5" />
<line x1="501.28" y1="201.39" x2="499.18" y2="324.48" stroke="#f4f4f4" stroke-width="0.5" />
<line x1="425.30" y1="291.59" x2="502.80" y2="320.19" stroke="#f4f4f4" stroke-width="0.5" />
<line x1="420.35" y1="297.85" x2="497.56" y2="327.07" stroke="#f4f4f4" stroke-width="0.5" />
<line x1="499.18" y1="324.48" x2="386.27" y2="352.17" stroke="#f4f4f4" stroke-width="0.5" />
<rect x="362.00" y="236.00" width="6.00" height="94.00" fill="#f4f4f4" />
<rect x="379.50" y="238.00" width="5.00" height="84.00" fill="#f4f4f4" />
<rect x="392.50" y="250.00" width="5.00" height="68.00" fill="#f4f4f4" />
<rect x="406.00" y="262.00" width="5.00" height="64.00" fill="#f4f4f4" />
<rect x="395.00" y="272.00" width="4.00" height="46.00" fill="#f4f4f4" />
<rect x="382.50" y="280.00" width="5.00" height="40.00" fill="#f4f4f4" />
<rect x="364.50" y="276.00" width="6.00" height="50.00" fill="#f4f4f4" />
<rect x="371.00" y="298.00" width="6.00" height="36.00" fill="#f4f4f4" />
<rect x="434.50" y="270.00" width="10.00" height="72.00" fill="#f4f4f4" />
<line x1="314.50" y1="198.00" x2="425.30" y2="182.20" stroke="#a0a0a0" stroke-width="0.9" />
<line x1="425.30" y1="182.20" x2="504.90" y2="202.30" stroke="#a0a0a0" stroke-width="0.9" />
<line x1="314.50" y1="198.00" x2="316.40" y2="320.00" stroke="#a0a0a0" stroke-width="0.9" />
<line x1="425.30" y1="182.20" x2="425.30" y2="296.80" stroke="#a0a0a0" stroke-width="0.9" />
<line x1="504.90" y1="202.30" x2="502.70" y2="325.80" stroke="#a0a0a0" stroke-width="0.9" />
<line x1="316.40" y1="320.00" x2="425.30" y2="296.80" stroke="#a0a0a0" stroke-width="0.9" />
<line x1="425.30" y1="296.80" x2="502.70" y2="325.80" stroke="#a0a0a0" stroke-width="0.9" />
<line x1="316.40" y1="320.00" x2="389.60" y2="353.70" stroke="#a0a0a0" stroke-width="0.9" />
<line x1="389.60" y1="353.70" x2="502.70" y2="325.80" stroke="#a0a0a0" stroke-width="0.9" />
<circle cx="441.74" cy="189.16" r="0.75" fill="#c08080" stroke="none" stroke-width="0.5" />
<circle cx="442.65" cy="204.28" r="0.75" fill="#c08080" stroke="none" stroke-width="0.5" />
<circle cx="442.68" cy="196.89" r="0.75" fill="#c08080" stroke="none" stroke-width="0.5" />
<circle cx="441.96" cy="197.30" r="0.75" fill="#c08080" stroke="none" stroke-width="0.5" />
<circle cx="441.27" cy="196.91" r="0.75" fill="#c08080" stroke="none" stroke-width="0.5" />
<circle cx="441.97" cy="195.79" r="0.75" fill="#c08080" stroke="none" stroke-width="0.5" />
<circle cx="440.92" cy="195.19" r="0.75" fill="#c08080" stroke="none" stroke-width="0.5" />
<circle cx="442.48" cy="202.29" r="0.75" fill="#c08080" stroke="none" stroke-width="0.5" />
<circle cx="442.54" cy="198.96" r="0.75" fill="#c08080" stroke="none" stroke-width="0.5" />
<circle cx="443.77" cy="193.89" r="0.75" fill="#c08080" stroke="none" stroke-width="0.5" />
<circle cx="445.12" cy="189.46" r="0.75" fill="#c08080" stroke="none" stroke-width="0.5" />
<circle cx="442.43" cy="197.60" r="0.75" fill="#c08080" stroke="none" stroke-width="0.5" />
<circle cx="430.80" cy="211.62" r="0.75" fill="#f0a070" stroke="none" stroke-width="0.5" />
<circle cx="432.30" cy="220.40" r="0.75" fill="#f0a070" stroke="none" stroke-width="0.5" />
<circle cx="430.24" cy="224.27" r="0.75" fill="#f0a070" stroke="none" stroke-width="0.5" />
<circle cx="430.32" cy="219.61" r="0.75" fill="#f0a070" stroke="none" stroke-width="0.5" />
<circle cx="431.74" cy="218.75" r="0.75" fill="#f0a070" stroke="none" stroke-width="0.5" />
<circle cx="430.73" cy="217.25" r="0.75" fill="#f0a070" stroke="none" stroke-width="0.5" />
<circle cx="428.92" cy="219.21" r="0.75" fill="#f0a070" stroke="none" stroke-width="0.5" />
<circle cx="428.87" cy="220.36" r="0.75" fill="#f0a070" stroke="none" stroke-width="0.5" />
<circle cx="429.55" cy="216.40" r="0.75" fill="#f0a070" stroke="none" stroke-width="0.5" />
<circle cx="429.83" cy="213.12" r="0.75" fill="#f0a070" stroke="none" stroke-width="0.5" />
<circle cx="431.42" cy="222.03" r="0.75" fill="#f0a070" stroke="none" stroke-width="0.5" />
<circle cx="425.52" cy="219.26" r="0.75" fill="#f0a070" stroke="none" stroke-width="0.5" />
<circle cx="429.19" cy="221.82" r="0.75" fill="#f0a070" stroke="none" stroke-width="0.5" />
<circle cx="434.06" cy="216.90" r="0.75" fill="#f0a070" stroke="none" stroke-width="0.5" />
<circle cx="439.86" cy="229.81" r="0.75" fill="#f0d060" stroke="none" stroke-width="0.5" />
<circle cx="440.52" cy="232.06" r="0.75" fill="#f0d060" stroke="none" stroke-width="0.5" />
<circle cx="440.40" cy="231.19" r="0.75" fill="#f0d060" stroke="none" stroke-width="0.5" />
<circle cx="438.47" cy="230.92" r="0.75" fill="#f0d060" stroke="none" stroke-width="0.5" />
<circle cx="438.67" cy="230.50" r="0.75" fill="#f0d060" stroke="none" stroke-width="0.5" />
<circle cx="475.71" cy="247.30" r="0.75" fill="#90dede" stroke="none" stroke-width="0.5" />
<circle cx="455.55" cy="243.92" r="0.75" fill="#90dede" stroke="none" stroke-width="0.5" />
<circle cx="448.86" cy="245.61" r="0.75" fill="#90dede" stroke="none" stroke-width="0.5" />
<circle cx="480.21" cy="246.32" r="0.75" fill="#90dede" stroke="none" stroke-width="0.5" />
<circle cx="460.17" cy="244.03" r="0.75" fill="#90dede" stroke="none" stroke-width="0.5" />
<circle cx="458.10" cy="249.84" r="0.75" fill="#90dede" stroke="none" stroke-width="0.5" />
<circle cx="470.78" cy="246.50" r="0.75" fill="#90dede" stroke="none" stroke-width="0.5" />
<circle cx="455.05" cy="249.03" r="0.75" fill="#90dede" stroke="none" stroke-width="0.5" />
<circle cx="482.06" cy="255.41" r="0.75" fill="#90dede" stroke="none" stroke-width="0.5" />
<circle cx="474.31" cy="247.14" r="0.75" fill="#90dede" stroke="none" stroke-width="0.5" />
<circle cx="468.17" cy="245.97" r="0.75" fill="#90dede" stroke="none" stroke-width="0.5" />
<circle cx="455.29" cy="245.13" r="0.75" fill="#90dede" stroke="none" stroke-width="0.5" />
<circle cx="462.35" cy="248.99" r="0.75" fill="#90dede" stroke="none" stroke-width="0.5" />
<circle cx="474.91" cy="250.85" r="0.75" fill="#90dede" stroke="none" stroke-width="0.5" />
<circle cx="466.17" cy="240.59" r="0.75" fill="#90dede" stroke="none" stroke-width="0.5" />
<circle cx="475.19" cy="248.41" r="0.75" fill="#90dede" stroke="none" stroke-width="0.5" />
<circle cx="456.16" cy="250.86" r="0.75" fill="#90dede" stroke="none" stroke-width="0.5" />
<circle cx="454.53" cy="246.21" r="0.75" fill="#90dede" stroke="none" stroke-width="0.5" />
<circle cx="462.38" cy="246.98" r="0.75" fill="#90dede" stroke="none" stroke-width="0.5" />
<circle cx="461.58" cy="241.12" r="0.75" fill="#90dede" stroke="none" stroke-width="0.5" />
<circle cx="449.97" cy="246.74" r="0.75" fill="#90dede" stroke="none" stroke-width="0.5" />
<circle cx="468.57" cy="246.93" r="0.75" fill="#90dede" stroke="none" stroke-width="0.5" />
<circle cx="451.81" cy="243.40" r="0.75" fill="#90dede" stroke="none" stroke-width="0.5" />
<circle cx="451.72" cy="250.27" r="0.75" fill="#90dede" stroke="none" stroke-width="0.5" />
<circle cx="453.37" cy="249.27" r="0.75" fill="#90dede" stroke="none" stroke-width="0.5" />
<circle cx="451.73" cy="244.06" r="0.75" fill="#90dede" stroke="none" stroke-width="0.5" />
<circle cx="456.45" cy="250.80" r="0.75" fill="#90dede" stroke="none" stroke-width="0.5" />
<circle cx="455.84" cy="246.43" r="0.75" fill="#90dede" stroke="none" stroke-width="0.5" />
<circle cx="456.63" cy="245.47" r="0.75" fill="#90dede" stroke="none" stroke-width="0.5" />
<circle cx="470.56" cy="245.16" r="0.75" fill="#90dede" stroke="none" stroke-width="0.5" />
<circle cx="482.84" cy="248.41" r="0.75" fill="#c0f0f0" stroke="none" stroke-width="0.5" />
<circle cx="478.00" cy="252.31" r="0.75" fill="#c0f0f0" stroke="none" stroke-width="0.5" />
<circle cx="499.36" cy="257.35" r="0.75" fill="#c0f0f0" stroke="none" stroke-width="0.5" />
<circle cx="473.01" cy="251.34" r="0.75" fill="#c0f0f0" stroke="none" stroke-width="0.5" />
<circle cx="466.95" cy="251.06" r="0.75" fill="#c0f0f0" stroke="none" stroke-width="0.5" />
<circle cx="485.44" cy="253.84" r="0.75" fill="#c0f0f0" stroke="none" stroke-width="0.5" />
<circle cx="489.85" cy="249.00" r="0.75" fill="#c0f0f0" stroke="none" stroke-width="0.5" />
<circle cx="473.10" cy="247.66" r="0.75" fill="#c0f0f0" stroke="none" stroke-width="0.5" />
<circle cx="500.82" cy="248.27" r="0.75" fill="#c0f0f0" stroke="none" stroke-width="0.5" />
<circle cx="494.44" cy="252.79" r="0.75" fill="#c0f0f0" stroke="none" stroke-width="0.5" />
<circle cx="494.10" cy="247.18" r="0.75" fill="#c0f0f0" stroke="none" stroke-width="0.5" />
<circle cx="489.14" cy="253.21" r="0.75" fill="#c0f0f0" stroke="none" stroke-width="0.5" />
<circle cx="484.96" cy="253.40" r="0.75" fill="#c0f0f0" stroke="none" stroke-width="0.5" />
<circle cx="473.80" cy="256.24" r="0.75" fill="#c0f0f0" stroke="none" stroke-width="0.5" />
<circle cx="474.12" cy="251.56" r="0.75" fill="#c0f0f0" stroke="none" stroke-width="0.5" />
<circle cx="493.54" cy="253.58" r="0.75" fill="#c0f0f0" stroke="none" stroke-width="0.5" />
<circle cx="500.41" cy="251.91" r="0.75" fill="#c0f0f0" stroke="none" stroke-width="0.5" />
<circle cx="474.17" cy="253.07" r="0.75" fill="#c0f0f0" stroke="none" stroke-width="0.5" />
<circle cx="490.04" cy="247.17" r="0.75" fill="#c0f0f0" stroke="none" stroke-width="0.5" />
<circle cx="493.88" cy="255.66" r="0.75" fill="#c0f0f0" stroke="none" stroke-width="0.5" />
<circle cx="476.87" cy="254.70" r="0.75" fill="#c0f0f0" stroke="none" stroke-width="0.5" />
<circle cx="485.75" cy="254.88" r="0.75" fill="#c0f0f0" stroke="none" stroke-width="0.5" />
<circle cx="455.90" cy="249.65" r="0.75" fill="#4a9a70" stroke="none" stroke-width="0.5" />
<circle cx="460.66" cy="248.15" r="0.75" fill="#4a9a70" stroke="none" stroke-width="0.5" />
<circle cx="456.75" cy="247.70" r="0.75" fill="#4a9a70" stroke="none" stroke-width="0.5" />
<circle cx="460.77" cy="250.87" r="0.75" fill="#4a9a70" stroke="none" stroke-width="0.5" />
<circle cx="457.46" cy="249.75" r="0.75" fill="#4a9a70" stroke="none" stroke-width="0.5" />
<circle cx="458.39" cy="251.79" r="0.75" fill="#4a9a70" stroke="none" stroke-width="0.5" />
<circle cx="462.78" cy="249.54" r="0.75" fill="#4a9a70" stroke="none" stroke-width="0.5" />
<circle cx="459.70" cy="246.96" r="0.75" fill="#4a9a70" stroke="none" stroke-width="0.5" />
<circle cx="451.72" cy="249.65" r="0.75" fill="#4a9a70" stroke="none" stroke-width="0.5" />
<circle cx="455.15" cy="246.70" r="0.75" fill="#4a9a70" stroke="none" stroke-width="0.5" />
<circle cx="462.16" cy="248.59" r="0.75" fill="#4a9a70" stroke="none" stroke-width="0.5" />
<circle cx="453.76" cy="250.34" r="0.75" fill="#4a9a70" stroke="none" stroke-width="0.5" />
<circle cx="456.85" cy="249.97" r="0.75" fill="#4a9a70" stroke="none" stroke-width="0.5" />
<circle cx="453.64" cy="245.07" r="0.75" fill="#4a9a70" stroke="none" stroke-width="0.5" />
<circle cx="431.11" cy="267.58" r="0.75" fill="#b070d0" stroke="none" stroke-width="0.5" />
<circle cx="429.00" cy="263.84" r="0.75" fill="#b070d0" stroke="none" stroke-width="0.5" />
<circle cx="433.43" cy="270.98" r="0.75" fill="#b070d0" stroke="none" stroke-width="0.5" />
<circle cx="431.66" cy="264.12" r="0.75" fill="#b070d0" stroke="none" stroke-width="0.5" />
<circle cx="431.32" cy="264.46" r="0.75" fill="#b070d0" stroke="none" stroke-width="0.5" />
<circle cx="434.27" cy="267.45" r="0.75" fill="#b070d0" stroke="none" stroke-width="0.5" />
<circle cx="430.67" cy="267.68" r="0.75" fill="#b070d0" stroke="none" stroke-width="0.5" />
<circle cx="428.77" cy="266.09" r="0.75" fill="#b070d0" stroke="none" stroke-width="0.5" />
<circle cx="453.03" cy="293.32" r="0.75" fill="#5050a0" stroke="none" stroke-width="0.5" />
<circle cx="450.67" cy="292.16" r="0.75" fill="#5050a0" stroke="none" stroke-width="0.5" />
<circle cx="448.35" cy="295.35" r="0.75" fill="#5050a0" stroke="none" stroke-width="0.5" />
<circle cx="450.56" cy="295.73" r="0.75" fill="#5050a0" stroke="none" stroke-width="0.5" />
<circle cx="455.08" cy="291.95" r="0.75" fill="#5050a0" stroke="none" stroke-width="0.5" />
<circle cx="450.01" cy="294.20" r="0.75" fill="#5050a0" stroke="none" stroke-width="0.5" />
<circle cx="454.68" cy="290.01" r="0.75" fill="#5050a0" stroke="none" stroke-width="0.5" />
<circle cx="452.85" cy="290.96" r="0.75" fill="#5050a0" stroke="none" stroke-width="0.5" />
<circle cx="456.65" cy="295.14" r="0.75" fill="#5050a0" stroke="none" stroke-width="0.5" />
<circle cx="448.96" cy="292.29" r="0.75" fill="#5050a0" stroke="none" stroke-width="0.5" />
<circle cx="380.25" cy="307.50" r="0.75" fill="#f090c0" stroke="none" stroke-width="0.5" />
<circle cx="380.29" cy="308.39" r="0.75" fill="#f090c0" stroke="none" stroke-width="0.5" />
<circle cx="380.76" cy="307.58" r="0.75" fill="#f090c0" stroke="none" stroke-width="0.5" />
<circle cx="385.69" cy="308.88" r="0.75" fill="#f090c0" stroke="none" stroke-width="0.5" />
<circle cx="378.76" cy="307.87" r="0.75" fill="#f090c0" stroke="none" stroke-width="0.5" />
<circle cx="377.35" cy="306.57" r="0.75" fill="#f090c0" stroke="none" stroke-width="0.5" />
<circle cx="378.67" cy="308.04" r="0.75" fill="#f090c0" stroke="none" stroke-width="0.5" />
<circle cx="378.49" cy="307.03" r="0.75" fill="#f090c0" stroke="none" stroke-width="0.5" />
<circle cx="382.77" cy="310.22" r="0.75" fill="#f0d050" stroke="none" stroke-width="0.5" />
<circle cx="398.31" cy="310.15" r="0.75" fill="#f0d050" stroke="none" stroke-width="0.5" />
<circle cx="397.20" cy="312.71" r="0.75" fill="#f0d050" stroke="none" stroke-width="0.5" />
<circle cx="394.56" cy="311.99" r="0.75" fill="#f0d050" stroke="none" stroke-width="0.5" />
<circle cx="398.20" cy="311.94" r="0.75" fill="#f0d050" stroke="none" stroke-width="0.5" />
<circle cx="394.73" cy="312.86" r="0.75" fill="#f0d050" stroke="none" stroke-width="0.5" />
<circle cx="407.88" cy="319.98" r="0.75" fill="#80d080" stroke="none" stroke-width="0.5" />
<circle cx="405.75" cy="317.59" r="0.75" fill="#80d080" stroke="none" stroke-width="0.5" />
<circle cx="407.43" cy="318.16" r="0.75" fill="#80d080" stroke="none" stroke-width="0.5" />
<circle cx="406.65" cy="319.89" r="0.75" fill="#80d080" stroke="none" stroke-width="0.5" />
<circle cx="409.26" cy="316.13" r="0.75" fill="#80d080" stroke="none" stroke-width="0.5" />
<circle cx="407.94" cy="318.67" r="0.75" fill="#80d080" stroke="none" stroke-width="0.5" />
<circle cx="365.35" cy="320.40" r="0.75" fill="#e07070" stroke="none" stroke-width="0.5" />
<circle cx="361.43" cy="320.80" r="0.75" fill="#e07070" stroke="none" stroke-width="0.5" />
<circle cx="360.36" cy="320.09" r="0.75" fill="#e07070" stroke="none" stroke-width="0.5" />
<circle cx="360.61" cy="321.34" r="0.75" fill="#e07070" stroke="none" stroke-width="0.5" />
<circle cx="371.38" cy="340.27" r="0.75" fill="#80b090" stroke="none" stroke-width="0.5" />
<circle cx="369.39" cy="335.78" r="0.75" fill="#80b090" stroke="none" stroke-width="0.5" />
<circle cx="369.03" cy="338.27" r="0.75" fill="#80b090" stroke="none" stroke-width="0.5" />
<circle cx="367.83" cy="337.40" r="0.75" fill="#80b090" stroke="none" stroke-width="0.5" />
<circle cx="369.29" cy="337.43" r="0.75" fill="#80b090" stroke="none" stroke-width="0.5" />
<circle cx="370.47" cy="334.41" r="0.75" fill="#80b090" stroke="none" stroke-width="0.5" />
<circle cx="364.01" cy="210.37" r="2.30" fill="#b01818" stroke="#701010" stroke-width="0.6" />
<circle cx="361.82" cy="206.27" r="2.30" fill="#b01818" stroke="#701010" stroke-width="0.6" />
<circle cx="359.76" cy="213.96" r="2.30" fill="#b01818" stroke="#701010" stroke-width="0.6" />
<circle cx="366.01" cy="199.92" r="2.30" fill="#b01818" stroke="#701010" stroke-width="0.6" />
<circle cx="363.62" cy="205.94" r="2.30" fill="#b01818" stroke="#701010" stroke-width="0.6" />
<circle cx="362.53" cy="212.80" r="2.30" fill="#b01818" stroke="#701010" stroke-width="0.6" />
<circle cx="363.97" cy="200.15" r="2.30" fill="#b01818" stroke="#701010" stroke-width="0.6" />
<circle cx="362.19" cy="213.76" r="2.30" fill="#b01818" stroke="#701010" stroke-width="0.6" />
<circle cx="364.26" cy="207.98" r="2.30" fill="#b01818" stroke="#701010" stroke-width="0.6" />
<circle cx="361.54" cy="209.78" r="2.30" fill="#b01818" stroke="#701010" stroke-width="0.6" />
<circle cx="363.06" cy="209.80" r="2.30" fill="#b01818" stroke="#701010" stroke-width="0.6" />
<circle cx="364.08" cy="212.41" r="2.30" fill="#b01818" stroke="#701010" stroke-width="0.6" />
<circle cx="365.63" cy="201.33" r="2.30" fill="#b01818" stroke="#701010" stroke-width="0.6" />
<circle cx="364.20" cy="200.61" r="2.30" fill="#b01818" stroke="#701010" stroke-width="0.6" />
<circle cx="365.64" cy="200.52" r="2.30" fill="#b01818" stroke="#701010" stroke-width="0.6" />
<circle cx="361.00" cy="205.64" r="2.30" fill="#b01818" stroke="#701010" stroke-width="0.6" />
<circle cx="363.25" cy="209.54" r="2.30" fill="#b01818" stroke="#701010" stroke-width="0.6" />
<circle cx="366.35" cy="209.97" r="2.30" fill="#b01818" stroke="#701010" stroke-width="0.6" />
<circle cx="370.28" cy="219.79" r="2.30" fill="#f01c1c" stroke="#a01010" stroke-width="0.6" />
<circle cx="368.98" cy="217.75" r="2.30" fill="#f01c1c" stroke="#a01010" stroke-width="0.6" />
<circle cx="365.55" cy="232.05" r="2.30" fill="#f01c1c" stroke="#a01010" stroke-width="0.6" />
<circle cx="367.81" cy="227.48" r="2.30" fill="#f01c1c" stroke="#a01010" stroke-width="0.6" />
<circle cx="366.34" cy="222.74" r="2.30" fill="#f01c1c" stroke="#a01010" stroke-width="0.6" />
<circle cx="365.31" cy="233.41" r="2.30" fill="#f01c1c" stroke="#a01010" stroke-width="0.6" />
<circle cx="367.82" cy="222.84" r="2.30" fill="#f01c1c" stroke="#a01010" stroke-width="0.6" />
<circle cx="365.14" cy="231.39" r="2.30" fill="#f01c1c" stroke="#a01010" stroke-width="0.6" />
<circle cx="365.15" cy="234.64" r="2.30" fill="#f01c1c" stroke="#a01010" stroke-width="0.6" />
<circle cx="367.41" cy="223.84" r="2.30" fill="#f01c1c" stroke="#a01010" stroke-width="0.6" />
<circle cx="366.79" cy="228.53" r="2.30" fill="#f01c1c" stroke="#a01010" stroke-width="0.6" />
<circle cx="370.08" cy="218.68" r="2.30" fill="#f01c1c" stroke="#a01010" stroke-width="0.6" />
<circle cx="366.64" cy="225.36" r="2.30" fill="#f01c1c" stroke="#a01010" stroke-width="0.6" />
<circle cx="364.47" cy="229.22" r="2.30" fill="#f01c1c" stroke="#a01010" stroke-width="0.6" />
<circle cx="368.27" cy="219.06" r="2.30" fill="#f01c1c" stroke="#a01010" stroke-width="0.6" />
<circle cx="364.87" cy="233.62" r="2.30" fill="#f01c1c" stroke="#a01010" stroke-width="0.6" />
<circle cx="367.46" cy="234.93" r="2.30" fill="#f01c1c" stroke="#a01010" stroke-width="0.6" />
<circle cx="366.57" cy="222.23" r="2.30" fill="#f01c1c" stroke="#a01010" stroke-width="0.6" />
<circle cx="381.46" cy="227.42" r="2.30" fill="#f0a848" stroke="#b07020" stroke-width="0.6" />
<circle cx="378.15" cy="237.31" r="2.30" fill="#f0a848" stroke="#b07020" stroke-width="0.6" />
<circle cx="378.29" cy="223.08" r="2.30" fill="#f0a848" stroke="#b07020" stroke-width="0.6" />
<circle cx="381.41" cy="231.66" r="2.30" fill="#f0a848" stroke="#b07020" stroke-width="0.6" />
<circle cx="382.05" cy="230.69" r="2.30" fill="#f0a848" stroke="#b07020" stroke-width="0.6" />
<circle cx="382.16" cy="226.11" r="2.30" fill="#f0a848" stroke="#b07020" stroke-width="0.6" />
<circle cx="381.33" cy="236.68" r="2.30" fill="#f0a848" stroke="#b07020" stroke-width="0.6" />
<circle cx="379.30" cy="237.22" r="2.30" fill="#f0a848" stroke="#b07020" stroke-width="0.6" />
<circle cx="378.39" cy="222.05" r="2.30" fill="#f0a848" stroke="#b07020" stroke-width="0.6" />
<circle cx="378.45" cy="227.35" r="2.30" fill="#f0a848" stroke="#b07020" stroke-width="0.6" />
<circle cx="380.09" cy="237.55" r="2.30" fill="#f0a848" stroke="#b07020" stroke-width="0.6" />
<circle cx="380.96" cy="227.16" r="2.30" fill="#f0a848" stroke="#b07020" stroke-width="0.6" />
<circle cx="381.34" cy="229.14" r="2.30" fill="#f0a848" stroke="#b07020" stroke-width="0.6" />
<circle cx="385.01" cy="224.54" r="2.30" fill="#f0a848" stroke="#b07020" stroke-width="0.6" />
<circle cx="380.49" cy="234.89" r="2.30" fill="#f0a848" stroke="#b07020" stroke-width="0.6" />
<circle cx="381.82" cy="231.01" r="2.30" fill="#f0a848" stroke="#b07020" stroke-width="0.6" />
<circle cx="378.58" cy="223.13" r="2.30" fill="#f0a848" stroke="#b07020" stroke-width="0.6" />
<circle cx="379.93" cy="231.63" r="2.30" fill="#f0a848" stroke="#b07020" stroke-width="0.6" />
<circle cx="383.59" cy="229.34" r="2.30" fill="#f0a848" stroke="#b07020" stroke-width="0.6" />
<circle cx="382.38" cy="223.15" r="2.30" fill="#f0a848" stroke="#b07020" stroke-width="0.6" />
<circle cx="396.10" cy="244.00" r="2.30" fill="#eccc20" stroke="#a09010" stroke-width="0.6" />
<circle cx="396.77" cy="239.00" r="2.30" fill="#eccc20" stroke="#a09010" stroke-width="0.6" />
<circle cx="394.06" cy="239.37" r="2.30" fill="#eccc20" stroke="#a09010" stroke-width="0.6" />
<circle cx="393.99" cy="235.88" r="2.30" fill="#eccc20" stroke="#a09010" stroke-width="0.6" />
<circle cx="391.78" cy="249.01" r="2.30" fill="#eccc20" stroke="#a09010" stroke-width="0.6" />
<circle cx="397.37" cy="247.85" r="2.30" fill="#eccc20" stroke="#a09010" stroke-width="0.6" />
<circle cx="395.08" cy="241.16" r="2.30" fill="#eccc20" stroke="#a09010" stroke-width="0.6" />
<circle cx="394.60" cy="247.94" r="2.30" fill="#eccc20" stroke="#a09010" stroke-width="0.6" />
<circle cx="392.56" cy="234.99" r="2.30" fill="#eccc20" stroke="#a09010" stroke-width="0.6" />
<circle cx="395.21" cy="235.00" r="2.30" fill="#eccc20" stroke="#a09010" stroke-width="0.6" />
<circle cx="395.89" cy="240.95" r="2.30" fill="#eccc20" stroke="#a09010" stroke-width="0.6" />
<circle cx="396.71" cy="241.62" r="2.30" fill="#eccc20" stroke="#a09010" stroke-width="0.6" />
<circle cx="395.41" cy="239.24" r="2.30" fill="#eccc20" stroke="#a09010" stroke-width="0.6" />
<circle cx="397.02" cy="236.46" r="2.30" fill="#eccc20" stroke="#a09010" stroke-width="0.6" />
<circle cx="395.40" cy="235.16" r="2.30" fill="#eccc20" stroke="#a09010" stroke-width="0.6" />
<circle cx="398.30" cy="241.53" r="2.30" fill="#eccc20" stroke="#a09010" stroke-width="0.6" />
<circle cx="397.64" cy="248.14" r="2.30" fill="#eccc20" stroke="#a09010" stroke-width="0.6" />
<circle cx="394.99" cy="241.30" r="2.30" fill="#eccc20" stroke="#a09010" stroke-width="0.6" />
<circle cx="391.12" cy="246.45" r="2.30" fill="#eccc20" stroke="#a09010" stroke-width="0.6" />
<circle cx="393.59" cy="236.90" r="2.30" fill="#eccc20" stroke="#a09010" stroke-width="0.6" />
<circle cx="409.63" cy="257.00" r="2.30" fill="#48c848" stroke="#208020" stroke-width="0.6" />
<circle cx="410.13" cy="248.37" r="2.30" fill="#48c848" stroke="#208020" stroke-width="0.6" />
<circle cx="406.41" cy="252.72" r="2.30" fill="#48c848" stroke="#208020" stroke-width="0.6" />
<circle cx="408.26" cy="258.69" r="2.30" fill="#48c848" stroke="#208020" stroke-width="0.6" />
<circle cx="406.87" cy="249.01" r="2.30" fill="#48c848" stroke="#208020" stroke-width="0.6" />
<circle cx="407.63" cy="255.14" r="2.30" fill="#48c848" stroke="#208020" stroke-width="0.6" />
<circle cx="408.28" cy="257.41" r="2.30" fill="#48c848" stroke="#208020" stroke-width="0.6" />
<circle cx="407.62" cy="250.95" r="2.30" fill="#48c848" stroke="#208020" stroke-width="0.6" />
<circle cx="409.23" cy="255.19" r="2.30" fill="#48c848" stroke="#208020" stroke-width="0.6" />
<circle cx="408.42" cy="255.42" r="2.30" fill="#48c848" stroke="#208020" stroke-width="0.6" />
<circle cx="409.41" cy="256.30" r="2.30" fill="#48c848" stroke="#208020" stroke-width="0.6" />
<circle cx="406.37" cy="257.73" r="2.30" fill="#48c848" stroke="#208020" stroke-width="0.6" />
<circle cx="408.83" cy="253.54" r="2.30" fill="#48c848" stroke="#208020" stroke-width="0.6" />
<circle cx="408.32" cy="259.28" r="2.30" fill="#48c848" stroke="#208020" stroke-width="0.6" />
<circle cx="407.59" cy="252.94" r="2.30" fill="#48c848" stroke="#208020" stroke-width="0.6" />
<circle cx="409.10" cy="250.94" r="2.30" fill="#48c848" stroke="#208020" stroke-width="0.6" />
<circle cx="407.87" cy="256.81" r="2.30" fill="#48c848" stroke="#208020" stroke-width="0.6" />
<circle cx="407.19" cy="252.13" r="2.30" fill="#48c848" stroke="#208020" stroke-width="0.6" />
<circle cx="397.49" cy="256.53" r="2.30" fill="#e820e8" stroke="#a010a0" stroke-width="0.6" />
<circle cx="397.83" cy="259.96" r="2.30" fill="#e820e8" stroke="#a010a0" stroke-width="0.6" />
<circle cx="398.37" cy="271.57" r="2.30" fill="#e820e8" stroke="#a010a0" stroke-width="0.6" />
<circle cx="396.49" cy="262.64" r="2.30" fill="#e820e8" stroke="#a010a0" stroke-width="0.6" />
<circle cx="397.12" cy="262.95" r="2.30" fill="#e820e8" stroke="#a010a0" stroke-width="0.6" />
<circle cx="393.25" cy="267.53" r="2.30" fill="#e820e8" stroke="#a010a0" stroke-width="0.6" />
<circle cx="396.93" cy="265.46" r="2.30" fill="#e820e8" stroke="#a010a0" stroke-width="0.6" />
<circle cx="397.93" cy="269.22" r="2.30" fill="#e820e8" stroke="#a010a0" stroke-width="0.6" />
<circle cx="398.03" cy="268.16" r="2.30" fill="#e820e8" stroke="#a010a0" stroke-width="0.6" />
<circle cx="398.11" cy="260.29" r="2.30" fill="#e820e8" stroke="#a010a0" stroke-width="0.6" />
<circle cx="399.36" cy="256.92" r="2.30" fill="#e820e8" stroke="#a010a0" stroke-width="0.6" />
<circle cx="395.57" cy="267.42" r="2.30" fill="#e820e8" stroke="#a010a0" stroke-width="0.6" />
<circle cx="398.87" cy="256.43" r="2.30" fill="#e820e8" stroke="#a010a0" stroke-width="0.6" />
<circle cx="392.97" cy="270.29" r="2.30" fill="#e820e8" stroke="#a010a0" stroke-width="0.6" />
<circle cx="397.43" cy="267.41" r="2.30" fill="#e820e8" stroke="#a010a0" stroke-width="0.6" />
<circle cx="393.93" cy="264.63" r="2.30" fill="#e820e8" stroke="#a010a0" stroke-width="0.6" />
<circle cx="397.84" cy="261.84" r="2.30" fill="#e820e8" stroke="#a010a0" stroke-width="0.6" />
<circle cx="393.43" cy="269.67" r="2.30" fill="#e820e8" stroke="#a010a0" stroke-width="0.6" />
<circle cx="398.70" cy="259.38" r="2.30" fill="#e820e8" stroke="#a010a0" stroke-width="0.6" />
<circle cx="395.24" cy="271.03" r="2.30" fill="#e820e8" stroke="#a010a0" stroke-width="0.6" />
<circle cx="388.79" cy="267.79" r="2.30" fill="#9a20cc" stroke="#601090" stroke-width="0.6" />
<circle cx="384.00" cy="269.42" r="2.30" fill="#9a20cc" stroke="#601090" stroke-width="0.6" />
<circle cx="384.97" cy="276.46" r="2.30" fill="#9a20cc" stroke="#601090" stroke-width="0.6" />
<circle cx="386.32" cy="271.89" r="2.30" fill="#9a20cc" stroke="#601090" stroke-width="0.6" />
<circle cx="380.60" cy="269.24" r="2.30" fill="#9a20cc" stroke="#601090" stroke-width="0.6" />
<circle cx="385.03" cy="274.62" r="2.30" fill="#9a20cc" stroke="#601090" stroke-width="0.6" />
<circle cx="381.65" cy="274.92" r="2.30" fill="#9a20cc" stroke="#601090" stroke-width="0.6" />
<circle cx="387.34" cy="275.92" r="2.30" fill="#9a20cc" stroke="#601090" stroke-width="0.6" />
<circle cx="388.83" cy="274.59" r="2.30" fill="#9a20cc" stroke="#601090" stroke-width="0.6" />
<circle cx="383.25" cy="271.27" r="2.30" fill="#9a20cc" stroke="#601090" stroke-width="0.6" />
<circle cx="382.27" cy="267.45" r="2.30" fill="#9a20cc" stroke="#601090" stroke-width="0.6" />
<circle cx="381.21" cy="270.48" r="2.30" fill="#9a20cc" stroke="#601090" stroke-width="0.6" />
<circle cx="386.92" cy="273.54" r="2.30" fill="#9a20cc" stroke="#601090" stroke-width="0.6" />
<circle cx="381.29" cy="266.45" r="2.30" fill="#9a20cc" stroke="#601090" stroke-width="0.6" />
<circle cx="385.91" cy="272.27" r="2.30" fill="#9a20cc" stroke="#601090" stroke-width="0.6" />
<circle cx="384.91" cy="276.15" r="2.30" fill="#9a20cc" stroke="#601090" stroke-width="0.6" />
<circle cx="382.78" cy="271.42" r="2.30" fill="#9a20cc" stroke="#601090" stroke-width="0.6" />
<circle cx="383.24" cy="270.43" r="2.30" fill="#9a20cc" stroke="#601090" stroke-width="0.6" />
<circle cx="365.18" cy="264.49" r="2.30" fill="#148040" stroke="#0a4a24" stroke-width="0.6" />
<circle cx="370.54" cy="270.17" r="2.30" fill="#148040" stroke="#0a4a24" stroke-width="0.6" />
<circle cx="368.84" cy="265.59" r="2.30" fill="#148040" stroke="#0a4a24" stroke-width="0.6" />
<circle cx="368.33" cy="271.32" r="2.30" fill="#148040" stroke="#0a4a24" stroke-width="0.6" />
<circle cx="365.59" cy="267.69" r="2.30" fill="#148040" stroke="#0a4a24" stroke-width="0.6" />
<circle cx="364.45" cy="263.19" r="2.30" fill="#148040" stroke="#0a4a24" stroke-width="0.6" />
<circle cx="371.06" cy="271.06" r="2.30" fill="#148040" stroke="#0a4a24" stroke-width="0.6" />
<circle cx="368.45" cy="264.08" r="2.30" fill="#148040" stroke="#0a4a24" stroke-width="0.6" />
<circle cx="369.31" cy="265.30" r="2.30" fill="#148040" stroke="#0a4a24" stroke-width="0.6" />
<circle cx="367.01" cy="264.64" r="2.30" fill="#148040" stroke="#0a4a24" stroke-width="0.6" />
<circle cx="364.27" cy="273.96" r="2.30" fill="#148040" stroke="#0a4a24" stroke-width="0.6" />
<circle cx="364.82" cy="267.02" r="2.30" fill="#148040" stroke="#0a4a24" stroke-width="0.6" />
<circle cx="369.76" cy="268.50" r="2.30" fill="#148040" stroke="#0a4a24" stroke-width="0.6" />
<circle cx="366.85" cy="275.34" r="2.30" fill="#148040" stroke="#0a4a24" stroke-width="0.6" />
<circle cx="368.07" cy="264.15" r="2.30" fill="#148040" stroke="#0a4a24" stroke-width="0.6" />
<circle cx="366.47" cy="268.88" r="2.30" fill="#148040" stroke="#0a4a24" stroke-width="0.6" />
<circle cx="369.66" cy="261.50" r="2.30" fill="#148040" stroke="#0a4a24" stroke-width="0.6" />
<circle cx="371.10" cy="267.86" r="2.30" fill="#148040" stroke="#0a4a24" stroke-width="0.6" />
<circle cx="367.49" cy="272.83" r="2.30" fill="#148040" stroke="#0a4a24" stroke-width="0.6" />
<circle cx="369.35" cy="262.91" r="2.30" fill="#148040" stroke="#0a4a24" stroke-width="0.6" />
<circle cx="374.77" cy="290.00" r="2.30" fill="#1414ea" stroke="#0a0a90" stroke-width="0.6" />
<circle cx="372.12" cy="286.66" r="2.30" fill="#1414ea" stroke="#0a0a90" stroke-width="0.6" />
<circle cx="374.73" cy="297.14" r="2.30" fill="#1414ea" stroke="#0a0a90" stroke-width="0.6" />
<circle cx="372.69" cy="280.94" r="2.30" fill="#1414ea" stroke="#0a0a90" stroke-width="0.6" />
<circle cx="370.06" cy="291.36" r="2.30" fill="#1414ea" stroke="#0a0a90" stroke-width="0.6" />
<circle cx="375.29" cy="286.37" r="2.30" fill="#1414ea" stroke="#0a0a90" stroke-width="0.6" />
<circle cx="372.04" cy="292.06" r="2.30" fill="#1414ea" stroke="#0a0a90" stroke-width="0.6" />
<circle cx="372.20" cy="289.42" r="2.30" fill="#1414ea" stroke="#0a0a90" stroke-width="0.6" />
<circle cx="374.89" cy="292.35" r="2.30" fill="#1414ea" stroke="#0a0a90" stroke-width="0.6" />
<circle cx="372.62" cy="286.41" r="2.30" fill="#1414ea" stroke="#0a0a90" stroke-width="0.6" />
<circle cx="375.72" cy="298.05" r="2.30" fill="#1414ea" stroke="#0a0a90" stroke-width="0.6" />
<circle cx="374.32" cy="292.49" r="2.30" fill="#1414ea" stroke="#0a0a90" stroke-width="0.6" />
<circle cx="370.61" cy="290.09" r="2.30" fill="#1414ea" stroke="#0a0a90" stroke-width="0.6" />
<circle cx="373.70" cy="296.43" r="2.30" fill="#1414ea" stroke="#0a0a90" stroke-width="0.6" />
<circle cx="373.06" cy="293.35" r="2.30" fill="#1414ea" stroke="#0a0a90" stroke-width="0.6" />
<circle cx="373.36" cy="285.68" r="2.30" fill="#1414ea" stroke="#0a0a90" stroke-width="0.6" />
<circle cx="377.39" cy="282.10" r="2.30" fill="#1414ea" stroke="#0a0a90" stroke-width="0.6" />
<circle cx="373.10" cy="282.25" r="2.30" fill="#1414ea" stroke="#0a0a90" stroke-width="0.6" />
<circle cx="372.85" cy="290.66" r="2.30" fill="#1414ea" stroke="#0a0a90" stroke-width="0.6" />
<circle cx="373.45" cy="286.95" r="2.30" fill="#1414ea" stroke="#0a0a90" stroke-width="0.6" />
<circle cx="372.13" cy="293.70" r="2.30" fill="#1414ea" stroke="#0a0a90" stroke-width="0.6" />
<circle cx="371.89" cy="293.99" r="2.30" fill="#1414ea" stroke="#0a0a90" stroke-width="0.6" />
<circle cx="372.62" cy="311.87" r="2.30" fill="#1c1c78" stroke="#0c0c40" stroke-width="0.6" />
<circle cx="373.01" cy="322.17" r="2.30" fill="#1c1c78" stroke="#0c0c40" stroke-width="0.6" />
<circle cx="375.08" cy="317.23" r="2.30" fill="#1c1c78" stroke="#0c0c40" stroke-width="0.6" />
<circle cx="371.68" cy="313.21" r="2.30" fill="#1c1c78" stroke="#0c0c40" stroke-width="0.6" />
<circle cx="372.85" cy="321.95" r="2.30" fill="#1c1c78" stroke="#0c0c40" stroke-width="0.6" />
<circle cx="371.70" cy="311.66" r="2.30" fill="#1c1c78" stroke="#0c0c40" stroke-width="0.6" />
<circle cx="371.51" cy="309.93" r="2.30" fill="#1c1c78" stroke="#0c0c40" stroke-width="0.6" />
<circle cx="372.18" cy="319.40" r="2.30" fill="#1c1c78" stroke="#0c0c40" stroke-width="0.6" />
<circle cx="376.05" cy="312.71" r="2.30" fill="#1c1c78" stroke="#0c0c40" stroke-width="0.6" />
<circle cx="375.57" cy="320.66" r="2.30" fill="#1c1c78" stroke="#0c0c40" stroke-width="0.6" />
<circle cx="374.72" cy="309.93" r="2.30" fill="#1c1c78" stroke="#0c0c40" stroke-width="0.6" />
<circle cx="373.37" cy="312.18" r="2.30" fill="#1c1c78" stroke="#0c0c40" stroke-width="0.6" />
<circle cx="374.40" cy="308.30" r="2.30" fill="#1c1c78" stroke="#0c0c40" stroke-width="0.6" />
<circle cx="375.46" cy="322.00" r="2.30" fill="#1c1c78" stroke="#0c0c40" stroke-width="0.6" />
<circle cx="374.26" cy="321.93" r="2.30" fill="#1c1c78" stroke="#0c0c40" stroke-width="0.6" />
<circle cx="375.21" cy="321.66" r="2.30" fill="#1c1c78" stroke="#0c0c40" stroke-width="0.6" />
<circle cx="373.84" cy="310.46" r="2.30" fill="#1c1c78" stroke="#0c0c40" stroke-width="0.6" />
<circle cx="376.81" cy="309.13" r="2.30" fill="#1c1c78" stroke="#0c0c40" stroke-width="0.6" />
<circle cx="373.12" cy="311.40" r="2.30" fill="#1c1c78" stroke="#0c0c40" stroke-width="0.6" />
<circle cx="374.81" cy="321.95" r="2.30" fill="#1c1c78" stroke="#0c0c40" stroke-width="0.6" />
<circle cx="375.89" cy="311.50" r="2.30" fill="#1c1c78" stroke="#0c0c40" stroke-width="0.6" />
<circle cx="377.97" cy="314.25" r="2.30" fill="#1c1c78" stroke="#0c0c40" stroke-width="0.6" />
<circle cx="443.41" cy="258.31" r="2.40" fill="#98e6e6" stroke="#48a8a8" stroke-width="0.6" />
<circle cx="442.77" cy="248.64" r="2.40" fill="#98e6e6" stroke="#48a8a8" stroke-width="0.6" />
<circle cx="435.87" cy="261.91" r="2.40" fill="#98e6e6" stroke="#48a8a8" stroke-width="0.6" />
<circle cx="439.37" cy="255.96" r="2.40" fill="#98e6e6" stroke="#48a8a8" stroke-width="0.6" />
<circle cx="441.58" cy="261.78" r="2.40" fill="#98e6e6" stroke="#48a8a8" stroke-width="0.6" />
<circle cx="437.23" cy="250.08" r="2.40" fill="#98e6e6" stroke="#48a8a8" stroke-width="0.6" />
<circle cx="444.29" cy="255.08" r="2.40" fill="#98e6e6" stroke="#48a8a8" stroke-width="0.6" />
<circle cx="437.37" cy="258.11" r="2.40" fill="#98e6e6" stroke="#48a8a8" stroke-width="0.6" />
<circle cx="437.06" cy="262.34" r="2.40" fill="#98e6e6" stroke="#48a8a8" stroke-width="0.6" />
<circle cx="440.43" cy="249.81" r="2.40" fill="#98e6e6" stroke="#48a8a8" stroke-width="0.6" />
<circle cx="444.54" cy="247.17" r="2.40" fill="#98e6e6" stroke="#48a8a8" stroke-width="0.6" />
<circle cx="440.23" cy="261.81" r="2.40" fill="#98e6e6" stroke="#48a8a8" stroke-width="0.6" />
<circle cx="441.66" cy="251.58" r="2.40" fill="#98e6e6" stroke="#48a8a8" stroke-width="0.6" />
<circle cx="443.09" cy="242.54" r="2.40" fill="#98e6e6" stroke="#48a8a8" stroke-width="0.6" />
<circle cx="437.58" cy="258.54" r="2.40" fill="#98e6e6" stroke="#48a8a8" stroke-width="0.6" />
<circle cx="444.84" cy="258.22" r="2.40" fill="#98e6e6" stroke="#48a8a8" stroke-width="0.6" />
<circle cx="441.81" cy="262.44" r="2.40" fill="#98e6e6" stroke="#48a8a8" stroke-width="0.6" />
<circle cx="438.54" cy="267.41" r="2.40" fill="#98e6e6" stroke="#48a8a8" stroke-width="0.6" />
<circle cx="442.37" cy="249.45" r="2.40" fill="#98e6e6" stroke="#48a8a8" stroke-width="0.6" />
<circle cx="438.52" cy="263.37" r="2.40" fill="#98e6e6" stroke="#48a8a8" stroke-width="0.6" />
<circle cx="438.05" cy="244.77" r="2.40" fill="#98e6e6" stroke="#48a8a8" stroke-width="0.6" />
<circle cx="443.79" cy="255.15" r="2.40" fill="#98e6e6" stroke="#48a8a8" stroke-width="0.6" />
<circle cx="439.93" cy="259.28" r="2.40" fill="#98e6e6" stroke="#48a8a8" stroke-width="0.6" />
<circle cx="437.93" cy="241.18" r="2.40" fill="#98e6e6" stroke="#48a8a8" stroke-width="0.6" />
<circle cx="438.75" cy="254.26" r="2.40" fill="#98e6e6" stroke="#48a8a8" stroke-width="0.6" />
<circle cx="443.57" cy="259.23" r="2.40" fill="#98e6e6" stroke="#48a8a8" stroke-width="0.6" />
<circle cx="440.56" cy="251.31" r="2.40" fill="#98e6e6" stroke="#48a8a8" stroke-width="0.6" />
<circle cx="440.51" cy="247.41" r="2.40" fill="#98e6e6" stroke="#48a8a8" stroke-width="0.6" />
<circle cx="443.49" cy="262.85" r="2.40" fill="#98e6e6" stroke="#48a8a8" stroke-width="0.6" />
<circle cx="443.42" cy="243.73" r="2.40" fill="#98e6e6" stroke="#48a8a8" stroke-width="0.6" />
<circle cx="441.59" cy="261.82" r="2.40" fill="#98e6e6" stroke="#48a8a8" stroke-width="0.6" />
<circle cx="439.71" cy="266.15" r="2.40" fill="#98e6e6" stroke="#48a8a8" stroke-width="0.6" />
<circle cx="444.09" cy="261.49" r="2.40" fill="#98e6e6" stroke="#48a8a8" stroke-width="0.6" />
<circle cx="443.23" cy="258.67" r="2.40" fill="#98e6e6" stroke="#48a8a8" stroke-width="0.6" />
<circle cx="441.95" cy="260.31" r="2.40" fill="#98e6e6" stroke="#48a8a8" stroke-width="0.6" />
<circle cx="440.94" cy="247.45" r="2.40" fill="#98e6e6" stroke="#48a8a8" stroke-width="0.6" />
<circle cx="434.94" cy="257.30" r="2.40" fill="#98e6e6" stroke="#48a8a8" stroke-width="0.6" />
<circle cx="443.27" cy="247.39" r="2.40" fill="#98e6e6" stroke="#48a8a8" stroke-width="0.6" />
<circle cx="436.54" cy="245.92" r="2.40" fill="#98e6e6" stroke="#48a8a8" stroke-width="0.6" />
<circle cx="435.23" cy="259.48" r="2.40" fill="#98e6e6" stroke="#48a8a8" stroke-width="0.6" />
<circle cx="438.16" cy="260.18" r="2.40" fill="#98e6e6" stroke="#48a8a8" stroke-width="0.6" />
<circle cx="441.12" cy="243.36" r="2.40" fill="#98e6e6" stroke="#48a8a8" stroke-width="0.6" />
<circle cx="437.23" cy="240.97" r="2.40" fill="#98e6e6" stroke="#48a8a8" stroke-width="0.6" />
<circle cx="439.10" cy="255.85" r="2.40" fill="#98e6e6" stroke="#48a8a8" stroke-width="0.6" />
<circle cx="436.67" cy="258.08" r="2.40" fill="#98e6e6" stroke="#48a8a8" stroke-width="0.6" />
<circle cx="437.94" cy="249.13" r="2.40" fill="#98e6e6" stroke="#48a8a8" stroke-width="0.6" />
<circle cx="440.45" cy="245.74" r="2.40" fill="#98e6e6" stroke="#48a8a8" stroke-width="0.6" />
<circle cx="442.93" cy="245.47" r="2.40" fill="#98e6e6" stroke="#48a8a8" stroke-width="0.6" />
<circle cx="443.43" cy="263.46" r="2.40" fill="#98e6e6" stroke="#48a8a8" stroke-width="0.6" />
<circle cx="440.11" cy="240.11" r="2.40" fill="#98e6e6" stroke="#48a8a8" stroke-width="0.6" />
<circle cx="439.75" cy="251.92" r="2.40" fill="#98e6e6" stroke="#48a8a8" stroke-width="0.6" />
<circle cx="434.89" cy="258.10" r="2.40" fill="#98e6e6" stroke="#48a8a8" stroke-width="0.6" />
<circle cx="442.17" cy="256.75" r="2.40" fill="#98e6e6" stroke="#48a8a8" stroke-width="0.6" />
<circle cx="438.60" cy="254.56" r="2.40" fill="#98e6e6" stroke="#48a8a8" stroke-width="0.6" />
<circle cx="440.68" cy="245.99" r="2.40" fill="#98e6e6" stroke="#48a8a8" stroke-width="0.6" />
<circle cx="434.99" cy="253.54" r="2.40" fill="#98e6e6" stroke="#48a8a8" stroke-width="0.6" />
<circle cx="435.67" cy="252.82" r="2.40" fill="#98e6e6" stroke="#48a8a8" stroke-width="0.6" />
<circle cx="441.71" cy="260.45" r="2.40" fill="#98e6e6" stroke="#48a8a8" stroke-width="0.6" />
<circle cx="439.20" cy="249.45" r="2.40" fill="#98e6e6" stroke="#48a8a8" stroke-width="0.6" />
<circle cx="436.29" cy="251.29" r="2.40" fill="#98e6e6" stroke="#48a8a8" stroke-width="0.6" />
<circle cx="437.31" cy="245.03" r="2.40" fill="#98e6e6" stroke="#48a8a8" stroke-width="0.6" />
<circle cx="442.30" cy="254.69" r="2.40" fill="#98e6e6" stroke="#48a8a8" stroke-width="0.6" />
<circle cx="439.02" cy="245.13" r="2.40" fill="#98e6e6" stroke="#48a8a8" stroke-width="0.6" />
<circle cx="441.94" cy="245.10" r="2.40" fill="#98e6e6" stroke="#48a8a8" stroke-width="0.6" />
<circle cx="437.12" cy="256.01" r="2.40" fill="#98e6e6" stroke="#48a8a8" stroke-width="0.6" />
<circle cx="444.32" cy="260.88" r="2.40" fill="#98e6e6" stroke="#48a8a8" stroke-width="0.6" />
<circle cx="442.11" cy="241.08" r="2.40" fill="#98e6e6" stroke="#48a8a8" stroke-width="0.6" />
<circle cx="443.70" cy="260.86" r="2.40" fill="#98e6e6" stroke="#48a8a8" stroke-width="0.6" />
<circle cx="441.13" cy="247.11" r="2.40" fill="#98e6e6" stroke="#48a8a8" stroke-width="0.6" />
<circle cx="438.11" cy="244.11" r="2.40" fill="#98e6e6" stroke="#48a8a8" stroke-width="0.6" />
<circle cx="437.56" cy="240.53" r="2.40" fill="#98e6e6" stroke="#48a8a8" stroke-width="0.6" />
<circle cx="436.13" cy="249.86" r="2.40" fill="#98e6e6" stroke="#48a8a8" stroke-width="0.6" />
<circle cx="439.21" cy="242.26" r="2.40" fill="#98e6e6" stroke="#48a8a8" stroke-width="0.6" />
<circle cx="442.75" cy="253.34" r="2.40" fill="#98e6e6" stroke="#48a8a8" stroke-width="0.6" />
<circle cx="442.94" cy="253.49" r="2.40" fill="#98e6e6" stroke="#48a8a8" stroke-width="0.6" />
<circle cx="443.24" cy="243.05" r="2.40" fill="#98e6e6" stroke="#48a8a8" stroke-width="0.6" />
<circle cx="435.40" cy="256.10" r="2.40" fill="#98e6e6" stroke="#48a8a8" stroke-width="0.6" />
<circle cx="439.79" cy="245.48" r="2.40" fill="#98e6e6" stroke="#48a8a8" stroke-width="0.6" />
<circle cx="444.20" cy="260.51" r="2.40" fill="#98e6e6" stroke="#48a8a8" stroke-width="0.6" />
<circle cx="439.00" cy="261.17" r="2.40" fill="#98e6e6" stroke="#48a8a8" stroke-width="0.6" />
<circle cx="438.43" cy="263.56" r="2.40" fill="#98e6e6" stroke="#48a8a8" stroke-width="0.6" />
<circle cx="440.64" cy="250.57" r="2.40" fill="#98e6e6" stroke="#48a8a8" stroke-width="0.6" />
<circle cx="442.85" cy="253.11" r="2.40" fill="#98e6e6" stroke="#48a8a8" stroke-width="0.6" />
<circle cx="440.08" cy="241.33" r="2.40" fill="#98e6e6" stroke="#48a8a8" stroke-width="0.6" />
<circle cx="437.76" cy="257.94" r="2.40" fill="#98e6e6" stroke="#48a8a8" stroke-width="0.6" />
<circle cx="443.94" cy="253.74" r="2.40" fill="#98e6e6" stroke="#48a8a8" stroke-width="0.6" />
<circle cx="441.23" cy="245.37" r="2.40" fill="#98e6e6" stroke="#48a8a8" stroke-width="0.6" />
<circle cx="436.88" cy="266.37" r="2.40" fill="#98e6e6" stroke="#48a8a8" stroke-width="0.6" />
<circle cx="438.41" cy="242.32" r="2.40" fill="#98e6e6" stroke="#48a8a8" stroke-width="0.6" />
<circle cx="440.70" cy="242.99" r="2.40" fill="#98e6e6" stroke="#48a8a8" stroke-width="0.6" />
<circle cx="436.40" cy="252.89" r="2.40" fill="#98e6e6" stroke="#48a8a8" stroke-width="0.6" />
<circle cx="440.64" cy="258.29" r="2.40" fill="#98e6e6" stroke="#48a8a8" stroke-width="0.6" />
<circle cx="441.98" cy="252.39" r="2.40" fill="#98e6e6" stroke="#48a8a8" stroke-width="0.6" />
<circle cx="434.94" cy="260.93" r="2.40" fill="#98e6e6" stroke="#48a8a8" stroke-width="0.6" />
<circle cx="434.79" cy="253.32" r="2.40" fill="#98e6e6" stroke="#48a8a8" stroke-width="0.6" />
<circle cx="438.60" cy="259.39" r="2.40" fill="#98e6e6" stroke="#48a8a8" stroke-width="0.6" />
<circle cx="442.05" cy="246.39" r="2.40" fill="#98e6e6" stroke="#48a8a8" stroke-width="0.6" />
<circle cx="441.34" cy="259.96" r="2.40" fill="#98e6e6" stroke="#48a8a8" stroke-width="0.6" />
<circle cx="439.39" cy="243.45" r="2.40" fill="#98e6e6" stroke="#48a8a8" stroke-width="0.6" />
<circle cx="444.20" cy="257.17" r="2.40" fill="#98e6e6" stroke="#48a8a8" stroke-width="0.6" />
<circle cx="438.52" cy="262.84" r="2.40" fill="#98e6e6" stroke="#48a8a8" stroke-width="0.6" />
<circle cx="443.26" cy="258.22" r="2.40" fill="#98e6e6" stroke="#48a8a8" stroke-width="0.6" />
<circle cx="441.59" cy="267.11" r="2.40" fill="#98e6e6" stroke="#48a8a8" stroke-width="0.6" />
<circle cx="441.23" cy="266.78" r="2.40" fill="#98e6e6" stroke="#48a8a8" stroke-width="0.6" />
<circle cx="437.09" cy="243.80" r="2.40" fill="#98e6e6" stroke="#48a8a8" stroke-width="0.6" />
<circle cx="442.01" cy="244.81" r="2.40" fill="#98e6e6" stroke="#48a8a8" stroke-width="0.6" />
<circle cx="443.08" cy="244.08" r="2.40" fill="#98e6e6" stroke="#48a8a8" stroke-width="0.6" />
<circle cx="439.83" cy="242.37" r="2.40" fill="#98e6e6" stroke="#48a8a8" stroke-width="0.6" />
<circle cx="442.86" cy="265.89" r="2.40" fill="#98e6e6" stroke="#48a8a8" stroke-width="0.6" />
<circle cx="443.57" cy="255.88" r="2.40" fill="#98e6e6" stroke="#48a8a8" stroke-width="0.6" />
<text x="312.30" y="211.39" font-size="10.3" text-anchor="end" fill="#3a3a3a" stroke="#3a3a3a" stroke-width="0.3" >-0.02</text>
<text x="312.60" y="238.79" font-size="10.3" text-anchor="end" fill="#3a3a3a" stroke="#3a3a3a" stroke-width="0.3" >-0.01</text>
<text x="311.90" y="290.59" font-size="10.3" text-anchor="end" fill="#3a3a3a" stroke="#3a3a3a" stroke-width="0.3" >0.01</text>
<text x="312.10" y="316.69" font-size="10.3" text-anchor="end" fill="#3a3a3a" stroke="#3a3a3a" stroke-width="0.3" >0.02</text>
<text x="299.60" y="264.38" font-size="10" text-anchor="middle" fill="#3a3a3a" stroke="#3a3a3a" stroke-width="0.3" >0</text>
<line x1="314.64" y1="206.80" x2="317.44" y2="207.40" stroke="#5a5a5a" stroke-width="0.8" />
<line x1="315.04" y1="233.00" x2="317.84" y2="233.60" stroke="#5a5a5a" stroke-width="0.8" />
<line x1="315.45" y1="259.20" x2="318.25" y2="259.80" stroke="#5a5a5a" stroke-width="0.8" />
<line x1="315.85" y1="285.40" x2="318.65" y2="286.00" stroke="#5a5a5a" stroke-width="0.8" />
<line x1="316.26" y1="311.50" x2="319.06" y2="312.10" stroke="#5a5a5a" stroke-width="0.8" />
<text x="284.60" y="256.40" font-size="11" text-anchor="middle" fill="#3a3a3a" stroke="#3a3a3a" stroke-width="0.3" textLength="76" lengthAdjust="spacingAndGlyphs" transform="rotate(-90 284.60 256.40)" >3rd order scores</text>
<text x="315.20" y="334.49" font-size="10.3" text-anchor="middle" fill="#3a3a3a" stroke="#3a3a3a" stroke-width="0.3" >0.02</text>
<text x="329.60" y="341.89" font-size="10.3" text-anchor="middle" fill="#3a3a3a" stroke="#3a3a3a" stroke-width="0.3" >0</text>
<text x="350.80" y="349.89" font-size="10.3" text-anchor="middle" fill="#3a3a3a" stroke="#3a3a3a" stroke-width="0.3" >-0.02</text>
<text x="369.50" y="359.09" font-size="10.3" text-anchor="middle" fill="#3a3a3a" stroke="#3a3a3a" stroke-width="0.3" >-0.04</text>
<text x="333.50" y="358.76" font-size="10.5" text-anchor="middle" fill="#3a3a3a" stroke="#3a3a3a" stroke-width="0.3" textLength="76" lengthAdjust="spacingAndGlyphs" transform="rotate(25 333.50 354.60)" >2nd order scores</text>
<text x="399.10" y="365.29" font-size="10.3" text-anchor="middle" fill="#3a3a3a" stroke="#3a3a3a" stroke-width="0.3" >-0.1</text>
<text x="439.30" y="355.99" font-size="10.3" text-anchor="middle" fill="#3a3a3a" stroke="#3a3a3a" stroke-width="0.3" >-0.05</text>
<text x="467.50" y="347.29" font-size="10.3" text-anchor="middle" fill="#3a3a3a" stroke="#3a3a3a" stroke-width="0.3" >0</text>
<text x="508.30" y="338.49" font-size="10.3" text-anchor="middle" fill="#3a3a3a" stroke="#3a3a3a" stroke-width="0.3" >0.05</text>
<text x="474.00" y="364.76" font-size="10.5" text-anchor="middle" fill="#3a3a3a" stroke="#3a3a3a" stroke-width="0.3" textLength="74" lengthAdjust="spacingAndGlyphs" transform="rotate(-14 474.00 360.60)" >1st order scores</text>
</svg></body></html>
